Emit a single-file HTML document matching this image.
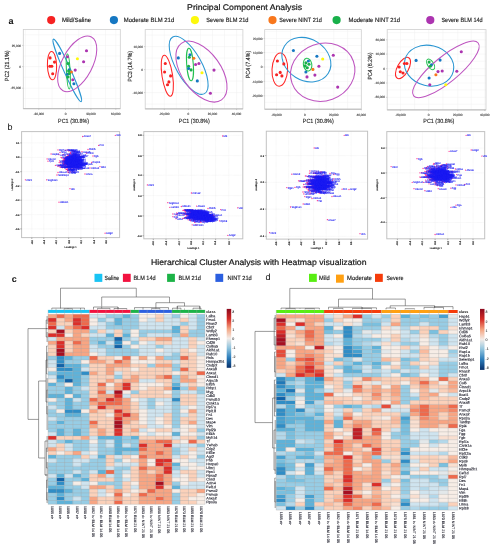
<!DOCTYPE html>
<html><head><meta charset="utf-8"><title>PCA and hierarchical cluster analysis</title>
<style>
html,body{margin:0;padding:0;background:#fff}
body{width:496px;height:550px;overflow:hidden}
svg{display:block;font-family:"Liberation Sans", sans-serif;filter:blur(0.35px);text-rendering:geometricPrecision}
</style></head><body>
<svg width="496" height="550" viewBox="0 0 496 550">
<rect width="496" height="550" fill="#fff"/>
<text x="244.60" y="10.10" font-size="8.2" text-anchor="middle" fill="#1a1a1a" textLength="115.00" lengthAdjust="spacingAndGlyphs" stroke="#1a1a1a" stroke-width="0.22">Principal Component Analysis</text>
<text x="8.40" y="23.90" font-size="9" font-weight="bold" fill="#111">a</text>
<circle cx="51.2" cy="20.1" r="4.1" fill="#f62222"/>
<text x="61.90" y="22.30" font-size="6.1" fill="#222" textLength="29.20" lengthAdjust="spacingAndGlyphs" stroke="#222" stroke-width="0.15">Mild/Saline</text>
<circle cx="113.9" cy="20.1" r="4.1" fill="#1577c2"/>
<text x="123.80" y="22.30" font-size="6.1" fill="#222" textLength="50.40" lengthAdjust="spacingAndGlyphs" stroke="#222" stroke-width="0.15">Moderate BLM 21d</text>
<circle cx="194.9" cy="20.1" r="4.1" fill="#fdf90c"/>
<text x="206.20" y="22.30" font-size="6.1" fill="#222" textLength="42.30" lengthAdjust="spacingAndGlyphs" stroke="#222" stroke-width="0.15">Severe BLM 21d</text>
<circle cx="272.5" cy="20.1" r="4.1" fill="#f8771c"/>
<text x="279.20" y="22.30" font-size="6.1" fill="#222" textLength="42.70" lengthAdjust="spacingAndGlyphs" stroke="#222" stroke-width="0.15">Severe NINT 21d</text>
<circle cx="336.6" cy="20.1" r="4.1" fill="#18b04a"/>
<text x="348.50" y="22.30" font-size="6.1" fill="#222" textLength="51.60" lengthAdjust="spacingAndGlyphs" stroke="#222" stroke-width="0.15">Moderate NINT 21d</text>
<circle cx="430.3" cy="20.1" r="4.1" fill="#ac34b0"/>
<text x="441.40" y="22.30" font-size="6.1" fill="#222" textLength="41.30" lengthAdjust="spacingAndGlyphs" stroke="#222" stroke-width="0.15">Severe BLM 14d</text>
<rect x="23.3" y="29.4" width="97.00" height="79.30" fill="#fff" stroke="none"/>
<path d="M38.8 29.4V108.7M65.5 29.4V108.7M90.9 29.4V108.7M115.8 29.4V108.7M23.3 45.4H120.3M23.3 66.6H120.3M23.3 88.2H120.3M25.4 29.4V108.7M52.1 29.4V108.7M78.8 29.4V108.7M105.5 29.4V108.7M23.3 34.8H120.3M23.3 56.0H120.3M23.3 77.2H120.3M23.3 98.4H120.3" stroke="#f0f0f0" stroke-width="0.5" fill="none"/>
<rect x="23.3" y="29.4" width="97.00" height="79.30" fill="none" stroke="#cfcfcf" stroke-width="0.8"/>
<path d="M23.3 108.7H120.3" stroke="#b5b5b5" stroke-width="0.9"/>
<text x="38.80" y="115.10" font-size="3.1" text-anchor="middle" fill="#333" stroke="#333" stroke-width="0.1">-30,000</text>
<path d="M38.8 108.7v1.2" stroke="#999" stroke-width="0.4"/>
<text x="65.50" y="115.10" font-size="3.1" text-anchor="middle" fill="#333" stroke="#333" stroke-width="0.1">0</text>
<path d="M65.5 108.7v1.2" stroke="#999" stroke-width="0.4"/>
<text x="90.90" y="115.10" font-size="3.1" text-anchor="middle" fill="#333" stroke="#333" stroke-width="0.1">30,000</text>
<path d="M90.9 108.7v1.2" stroke="#999" stroke-width="0.4"/>
<text x="115.80" y="115.10" font-size="3.1" text-anchor="middle" fill="#333" stroke="#333" stroke-width="0.1">60,000</text>
<path d="M115.8 108.7v1.2" stroke="#999" stroke-width="0.4"/>
<text x="21.10" y="46.50" font-size="3.1" text-anchor="end" fill="#333" stroke="#333" stroke-width="0.1">25,000</text>
<path d="M23.3 45.4h-1.2" stroke="#999" stroke-width="0.4"/>
<text x="21.10" y="67.70" font-size="3.1" text-anchor="end" fill="#333" stroke="#333" stroke-width="0.1">0</text>
<path d="M23.3 66.6h-1.2" stroke="#999" stroke-width="0.4"/>
<text x="21.10" y="89.30" font-size="3.1" text-anchor="end" fill="#333" stroke="#333" stroke-width="0.1">-25,000</text>
<path d="M23.3 88.2h-1.2" stroke="#999" stroke-width="0.4"/>
<text x="73.60" y="123.10" font-size="6.0" text-anchor="middle" fill="#222" textLength="31.00" lengthAdjust="spacingAndGlyphs" stroke="#222" stroke-width="0.12">PC1 (30.8%)</text>
<text x="9.50" y="65.80" font-size="6.0" text-anchor="middle" fill="#222" textLength="30.80" lengthAdjust="spacingAndGlyphs" transform="rotate(-90 9.50 65.80)" stroke="#222" stroke-width="0.12">PC2 (21.1%)</text>
<ellipse cx="52.0" cy="65.6" rx="4.6" ry="14.2" transform="rotate(-2 52.0 65.6)" fill="none" stroke="#ff2525" stroke-width="1.05"/>
<ellipse cx="67.3" cy="70.4" rx="34.2" ry="3.4" transform="rotate(65.9 67.3 70.4)" fill="none" stroke="#2b96d2" stroke-width="1.05"/>
<ellipse cx="68.3" cy="71.5" rx="17.5" ry="1.8" transform="rotate(87 68.3 71.5)" fill="none" stroke="#22c050" stroke-width="1.05"/>
<ellipse cx="77.2" cy="63.8" rx="30.4" ry="15.2" transform="rotate(-62.1 77.2 63.8)" fill="none" stroke="#be55c0" stroke-width="1.05"/>
<circle cx="50.1" cy="57.9" r="1.55" fill="#f62222"/>
<circle cx="54.5" cy="62.1" r="1.55" fill="#f62222"/>
<circle cx="49.8" cy="66.2" r="1.55" fill="#f62222"/>
<circle cx="51.8" cy="66.2" r="1.55" fill="#f62222"/>
<circle cx="52.7" cy="73.8" r="1.55" fill="#f62222"/>
<circle cx="86.5" cy="50.8" r="1.55" fill="#ac34b0"/>
<circle cx="83.6" cy="61.7" r="1.55" fill="#ac34b0"/>
<circle cx="75.2" cy="70.1" r="1.55" fill="#ac34b0"/>
<circle cx="67.5" cy="56.7" r="1.55" fill="#ac34b0"/>
<circle cx="72.8" cy="79.7" r="1.55" fill="#ac34b0"/>
<circle cx="77.4" cy="58.7" r="1.55" fill="#fdf90c"/>
<circle cx="59.6" cy="53.4" r="1.55" fill="#1577c2"/>
<circle cx="69.1" cy="69.9" r="1.55" fill="#1577c2"/>
<circle cx="73.9" cy="83.7" r="1.55" fill="#1577c2"/>
<circle cx="67.6" cy="74.2" r="1.55" fill="#1577c2"/>
<circle cx="71.4" cy="72" r="1.55" fill="#f8771c"/>
<circle cx="68.0" cy="63.5" r="1.55" fill="#18b04a"/>
<circle cx="68.6" cy="71.0" r="1.55" fill="#18b04a"/>
<circle cx="68.0" cy="77.0" r="1.55" fill="#18b04a"/>
<circle cx="69.2" cy="73.5" r="1.55" fill="#18b04a"/>
<rect x="145.2" y="29.6" width="97.70" height="79.30" fill="#fff" stroke="none"/>
<path d="M164.3 29.6V108.9M188.4 29.6V108.9M212.5 29.6V108.9M236.6 29.6V108.9M145.2 46.6H242.9M145.2 69.6H242.9M145.2 92.6H242.9M152.2 29.6V108.9M176.3 29.6V108.9M200.4 29.6V108.9M224.5 29.6V108.9M145.2 35.1H242.9M145.2 58.1H242.9M145.2 81.1H242.9M145.2 104.1H242.9" stroke="#f0f0f0" stroke-width="0.5" fill="none"/>
<rect x="145.2" y="29.6" width="97.70" height="79.30" fill="none" stroke="#cfcfcf" stroke-width="0.8"/>
<path d="M145.2 108.9H242.9" stroke="#b5b5b5" stroke-width="0.9"/>
<text x="164.30" y="115.30" font-size="3.1" text-anchor="middle" fill="#333" stroke="#333" stroke-width="0.1">-20,000</text>
<path d="M164.3 108.9v1.2" stroke="#999" stroke-width="0.4"/>
<text x="188.40" y="115.30" font-size="3.1" text-anchor="middle" fill="#333" stroke="#333" stroke-width="0.1">0</text>
<path d="M188.4 108.9v1.2" stroke="#999" stroke-width="0.4"/>
<text x="212.50" y="115.30" font-size="3.1" text-anchor="middle" fill="#333" stroke="#333" stroke-width="0.1">20,000</text>
<path d="M212.5 108.9v1.2" stroke="#999" stroke-width="0.4"/>
<text x="236.60" y="115.30" font-size="3.1" text-anchor="middle" fill="#333" stroke="#333" stroke-width="0.1">40,000</text>
<path d="M236.6 108.9v1.2" stroke="#999" stroke-width="0.4"/>
<text x="143.00" y="47.70" font-size="3.1" text-anchor="end" fill="#333" stroke="#333" stroke-width="0.1">10,000</text>
<path d="M145.2 46.6h-1.2" stroke="#999" stroke-width="0.4"/>
<text x="143.00" y="70.70" font-size="3.1" text-anchor="end" fill="#333" stroke="#333" stroke-width="0.1">0</text>
<path d="M145.2 69.6h-1.2" stroke="#999" stroke-width="0.4"/>
<text x="143.00" y="93.70" font-size="3.1" text-anchor="end" fill="#333" stroke="#333" stroke-width="0.1">-10,000</text>
<path d="M145.2 92.6h-1.2" stroke="#999" stroke-width="0.4"/>
<text x="194.30" y="123.10" font-size="6.0" text-anchor="middle" fill="#222" textLength="31.00" lengthAdjust="spacingAndGlyphs" stroke="#222" stroke-width="0.12">PC1 (30.8%)</text>
<text x="131.60" y="66.30" font-size="6.0" text-anchor="middle" fill="#222" textLength="30.80" lengthAdjust="spacingAndGlyphs" transform="rotate(-90 131.60 66.30)" stroke="#222" stroke-width="0.12">PC3 (14.7%)</text>
<ellipse cx="167.3" cy="75.7" rx="20.7" ry="5.3" transform="rotate(81.2 167.3 75.7)" fill="none" stroke="#ff2525" stroke-width="1.05"/>
<ellipse cx="188.65" cy="65.35" rx="32.45" ry="12.8" transform="rotate(60.6 188.65 65.35)" fill="none" stroke="#2b96d2" stroke-width="1.05"/>
<ellipse cx="190" cy="64.5" rx="16.2" ry="3.3" transform="rotate(85.8 190 64.5)" fill="none" stroke="#22c050" stroke-width="1.05"/>
<ellipse cx="201.45" cy="71.6" rx="34.7" ry="19.4" transform="rotate(54.6 201.45 71.6)" fill="none" stroke="#be55c0" stroke-width="1.05"/>
<circle cx="165.3" cy="63.5" r="1.55" fill="#f62222"/>
<circle cx="164.6" cy="72" r="1.55" fill="#f62222"/>
<circle cx="170.6" cy="75.9" r="1.55" fill="#f62222"/>
<circle cx="168.9" cy="81.9" r="1.55" fill="#f62222"/>
<circle cx="167.5" cy="84.7" r="1.55" fill="#f62222"/>
<circle cx="190" cy="54.8" r="1.55" fill="#1577c2"/>
<circle cx="189.3" cy="57.2" r="1.55" fill="#18b04a"/>
<circle cx="193.8" cy="58.3" r="1.55" fill="#f8771c"/>
<circle cx="195.6" cy="64.5" r="1.55" fill="#ac34b0"/>
<circle cx="198.9" cy="63.5" r="1.55" fill="#ac34b0"/>
<circle cx="188.6" cy="66.3" r="1.55" fill="#18b04a"/>
<circle cx="188.6" cy="68.5" r="1.55" fill="#1577c2"/>
<circle cx="191.1" cy="69.9" r="1.55" fill="#18b04a"/>
<circle cx="202" cy="72.7" r="1.55" fill="#fdf90c"/>
<circle cx="214" cy="70.1" r="1.55" fill="#ac34b0"/>
<circle cx="197.3" cy="80.9" r="1.55" fill="#1577c2"/>
<circle cx="178.3" cy="57.9" r="1.55" fill="#1577c2"/>
<circle cx="210.4" cy="93.2" r="1.55" fill="#ac34b0"/>
<rect x="264.7" y="29.6" width="96.60" height="79.60" fill="#fff" stroke="none"/>
<path d="M276.4 29.6V109.2M304.9 29.6V109.2M333.8 29.6V109.2M264.7 38.4H361.3M264.7 52.6H361.3M264.7 67.0H361.3M264.7 81.4H361.3M264.7 95.8H361.3M290.6 29.6V109.2M319.1 29.6V109.2M347.6 29.6V109.2M264.7 31.3H361.3M264.7 45.5H361.3M264.7 59.7H361.3M264.7 73.9H361.3M264.7 88.1H361.3M264.7 102.3H361.3" stroke="#f0f0f0" stroke-width="0.5" fill="none"/>
<rect x="264.7" y="29.6" width="96.60" height="79.60" fill="none" stroke="#cfcfcf" stroke-width="0.8"/>
<path d="M264.7 109.2H361.3" stroke="#b5b5b5" stroke-width="0.9"/>
<text x="276.40" y="115.60" font-size="3.1" text-anchor="middle" fill="#333" stroke="#333" stroke-width="0.1">-20,000</text>
<path d="M276.4 109.2v1.2" stroke="#999" stroke-width="0.4"/>
<text x="304.90" y="115.60" font-size="3.1" text-anchor="middle" fill="#333" stroke="#333" stroke-width="0.1">0</text>
<path d="M304.9 109.2v1.2" stroke="#999" stroke-width="0.4"/>
<text x="333.80" y="115.60" font-size="3.1" text-anchor="middle" fill="#333" stroke="#333" stroke-width="0.1">20,000</text>
<path d="M333.8 109.2v1.2" stroke="#999" stroke-width="0.4"/>
<text x="361.30" y="115.60" font-size="3.1" text-anchor="middle" fill="#333" stroke="#333" stroke-width="0.1">40,000</text>
<path d="M361.3 109.2v1.2" stroke="#999" stroke-width="0.4"/>
<text x="262.50" y="39.50" font-size="3.1" text-anchor="end" fill="#333" stroke="#333" stroke-width="0.1">20,000</text>
<path d="M264.7 38.4h-1.2" stroke="#999" stroke-width="0.4"/>
<text x="262.50" y="53.70" font-size="3.1" text-anchor="end" fill="#333" stroke="#333" stroke-width="0.1">10,000</text>
<path d="M264.7 52.6h-1.2" stroke="#999" stroke-width="0.4"/>
<text x="262.50" y="68.10" font-size="3.1" text-anchor="end" fill="#333" stroke="#333" stroke-width="0.1">0</text>
<path d="M264.7 67.0h-1.2" stroke="#999" stroke-width="0.4"/>
<text x="262.50" y="82.50" font-size="3.1" text-anchor="end" fill="#333" stroke="#333" stroke-width="0.1">-10,000</text>
<path d="M264.7 81.4h-1.2" stroke="#999" stroke-width="0.4"/>
<text x="262.50" y="96.90" font-size="3.1" text-anchor="end" fill="#333" stroke="#333" stroke-width="0.1">-20,000</text>
<path d="M264.7 95.8h-1.2" stroke="#999" stroke-width="0.4"/>
<text x="318.30" y="123.10" font-size="6.0" text-anchor="middle" fill="#222" textLength="31.00" lengthAdjust="spacingAndGlyphs" stroke="#222" stroke-width="0.12">PC1 (30.8%)</text>
<text x="249.80" y="64.50" font-size="6.0" text-anchor="middle" fill="#222" textLength="27.30" lengthAdjust="spacingAndGlyphs" transform="rotate(-90 249.80 64.50)" stroke="#222" stroke-width="0.12">PC4 (7.4%)</text>
<ellipse cx="279.8" cy="69.6" rx="16.6" ry="7.8" transform="rotate(92.5 279.8 69.6)" fill="none" stroke="#ff2525" stroke-width="1.05"/>
<ellipse cx="306.4" cy="59.65" rx="25.8" ry="20.7" transform="rotate(31.9 306.4 59.65)" fill="none" stroke="#2b96d2" stroke-width="1.05"/>
<ellipse cx="307.6" cy="64.6" rx="6.4" ry="4.2" transform="rotate(80 307.6 64.6)" fill="none" stroke="#22c050" stroke-width="1.05"/>
<ellipse cx="322.7" cy="72.2" rx="32.6" ry="28.7" transform="rotate(-19.7 322.7 72.2)" fill="none" stroke="#be55c0" stroke-width="1.05"/>
<circle cx="277.4" cy="61" r="1.55" fill="#f62222"/>
<circle cx="283.8" cy="63.9" r="1.55" fill="#f62222"/>
<circle cx="280.2" cy="72.4" r="1.55" fill="#f62222"/>
<circle cx="276.6" cy="74.8" r="1.55" fill="#f62222"/>
<circle cx="281.9" cy="75.9" r="1.55" fill="#f62222"/>
<circle cx="293.4" cy="50.5" r="1.55" fill="#1577c2"/>
<circle cx="316.9" cy="56.2" r="1.55" fill="#1577c2"/>
<circle cx="308.4" cy="61" r="1.55" fill="#1577c2"/>
<circle cx="305.9" cy="72" r="1.55" fill="#1577c2"/>
<circle cx="305.9" cy="62.8" r="1.55" fill="#18b04a"/>
<circle cx="309" cy="64.2" r="1.55" fill="#18b04a"/>
<circle cx="307.3" cy="67.7" r="1.55" fill="#18b04a"/>
<circle cx="305.2" cy="65.9" r="1.55" fill="#18b04a"/>
<circle cx="312.9" cy="69.4" r="1.55" fill="#f8771c"/>
<circle cx="307" cy="76.9" r="1.55" fill="#ac34b0"/>
<circle cx="314.9" cy="75.1" r="1.55" fill="#ac34b0"/>
<circle cx="322.7" cy="59" r="1.55" fill="#fdf90c"/>
<circle cx="333.3" cy="55.3" r="1.55" fill="#ac34b0"/>
<circle cx="318.9" cy="66.3" r="1.55" fill="#ac34b0"/>
<circle cx="337.7" cy="87.1" r="1.55" fill="#ac34b0"/>
<rect x="387.2" y="29.6" width="98.80" height="80.30" fill="#fff" stroke="none"/>
<path d="M400.4 29.6V109.9M428.7 29.6V109.9M457.8 29.6V109.9M484.8 29.6V109.9M387.2 39.8H486M387.2 54.1H486M387.2 68.7H486M387.2 83.0H486M387.2 97.3H486M414.6 29.6V109.9M442.9 29.6V109.9M471.2 29.6V109.9M387.2 32.6H486M387.2 46.9H486M387.2 61.2H486M387.2 75.6H486M387.2 89.9H486M387.2 104.2H486" stroke="#f0f0f0" stroke-width="0.5" fill="none"/>
<rect x="387.2" y="29.6" width="98.80" height="80.30" fill="none" stroke="#cfcfcf" stroke-width="0.8"/>
<path d="M387.2 109.9H486" stroke="#b5b5b5" stroke-width="0.9"/>
<text x="400.40" y="116.30" font-size="3.1" text-anchor="middle" fill="#333" stroke="#333" stroke-width="0.1">-20,000</text>
<path d="M400.4 109.9v1.2" stroke="#999" stroke-width="0.4"/>
<text x="428.70" y="116.30" font-size="3.1" text-anchor="middle" fill="#333" stroke="#333" stroke-width="0.1">0</text>
<path d="M428.7 109.9v1.2" stroke="#999" stroke-width="0.4"/>
<text x="457.80" y="116.30" font-size="3.1" text-anchor="middle" fill="#333" stroke="#333" stroke-width="0.1">20,000</text>
<path d="M457.8 109.9v1.2" stroke="#999" stroke-width="0.4"/>
<text x="484.80" y="116.30" font-size="3.1" text-anchor="middle" fill="#333" stroke="#333" stroke-width="0.1">40,000</text>
<path d="M484.8 109.9v1.2" stroke="#999" stroke-width="0.4"/>
<text x="385.00" y="40.90" font-size="3.1" text-anchor="end" fill="#333" stroke="#333" stroke-width="0.1">20,000</text>
<path d="M387.2 39.8h-1.2" stroke="#999" stroke-width="0.4"/>
<text x="385.00" y="55.20" font-size="3.1" text-anchor="end" fill="#333" stroke="#333" stroke-width="0.1">10,000</text>
<path d="M387.2 54.1h-1.2" stroke="#999" stroke-width="0.4"/>
<text x="385.00" y="69.80" font-size="3.1" text-anchor="end" fill="#333" stroke="#333" stroke-width="0.1">0</text>
<path d="M387.2 68.7h-1.2" stroke="#999" stroke-width="0.4"/>
<text x="385.00" y="84.10" font-size="3.1" text-anchor="end" fill="#333" stroke="#333" stroke-width="0.1">-10,000</text>
<path d="M387.2 83.0h-1.2" stroke="#999" stroke-width="0.4"/>
<text x="385.00" y="98.40" font-size="3.1" text-anchor="end" fill="#333" stroke="#333" stroke-width="0.1">-20,000</text>
<path d="M387.2 97.3h-1.2" stroke="#999" stroke-width="0.4"/>
<text x="438.80" y="123.10" font-size="6.0" text-anchor="middle" fill="#222" textLength="31.00" lengthAdjust="spacingAndGlyphs" stroke="#222" stroke-width="0.12">PC1 (30.8%)</text>
<text x="371.90" y="66.20" font-size="6.0" text-anchor="middle" fill="#222" textLength="27.30" lengthAdjust="spacingAndGlyphs" transform="rotate(-90 371.90 66.20)" stroke="#222" stroke-width="0.12">PC4 (6.2%)</text>
<ellipse cx="403.0" cy="68" rx="11.8" ry="5.6" transform="rotate(-61 403.0 68)" fill="none" stroke="#ff2525" stroke-width="1.05"/>
<ellipse cx="429.1" cy="65.65" rx="24.9" ry="20.2" transform="rotate(13.5 429.1 65.65)" fill="none" stroke="#2b96d2" stroke-width="1.05"/>
<ellipse cx="430.6" cy="64.4" rx="5.9" ry="3.0" transform="rotate(58 430.6 64.4)" fill="none" stroke="#22c050" stroke-width="1.05"/>
<ellipse cx="445.9" cy="69.4" rx="41.7" ry="12.8" transform="rotate(-39.3 445.9 69.4)" fill="none" stroke="#be55c0" stroke-width="1.05"/>
<circle cx="399.2" cy="67" r="1.55" fill="#f62222"/>
<circle cx="404.4" cy="63.5" r="1.55" fill="#f62222"/>
<circle cx="406.9" cy="63.5" r="1.55" fill="#f62222"/>
<circle cx="400.3" cy="71.7" r="1.55" fill="#f62222"/>
<circle cx="403" cy="73" r="1.55" fill="#f62222"/>
<circle cx="416.1" cy="60.4" r="1.55" fill="#1577c2"/>
<circle cx="429.1" cy="78" r="1.55" fill="#1577c2"/>
<circle cx="440.1" cy="60.1" r="1.55" fill="#1577c2"/>
<circle cx="431.4" cy="64.9" r="1.55" fill="#1577c2"/>
<circle cx="429.1" cy="62.1" r="1.55" fill="#18b04a"/>
<circle cx="430.3" cy="66.2" r="1.55" fill="#18b04a"/>
<circle cx="461.3" cy="51.8" r="1.55" fill="#ac34b0"/>
<circle cx="456.8" cy="71.3" r="1.55" fill="#ac34b0"/>
<circle cx="442.2" cy="71" r="1.55" fill="#ac34b0"/>
<circle cx="438" cy="71.6" r="1.55" fill="#ac34b0"/>
<circle cx="429.8" cy="84.7" r="1.55" fill="#ac34b0"/>
<circle cx="435.9" cy="74.8" r="1.55" fill="#f8771c"/>
<circle cx="445.8" cy="84.7" r="1.55" fill="#fdf90c"/>
<text x="7.60" y="130.10" font-size="9" fill="#111">b</text>
<rect x="21.6" y="131.6" width="98.00" height="106.00" fill="#fff"/>
<path d="M31.8 131.6V237.6M43.8 131.6V237.6M56.2 131.6V237.6M68.7 131.6V237.6M80.9 131.6V237.6M93.6 131.6V237.6M106.1 131.6V237.6M21.6 142.9H119.6M21.6 157.4H119.6M21.6 171.7H119.6M21.6 186.2H119.6M21.6 200.2H119.6M21.6 214.7H119.6M21.6 228.9H119.6" stroke="#e9e9e9" stroke-width="0.5" fill="none" stroke-dasharray="0.6 0.5"/>
<rect x="21.6" y="131.6" width="98.00" height="106.00" fill="none" stroke="#c2c2c2" stroke-width="1.0"/>
<path d="M31.8 237.6v1.4" stroke="#555" stroke-width="0.45"/>
<text x="32.70" y="240.00" font-size="2.5" text-anchor="end" fill="#222" transform="rotate(-90 32.70 240.00)" stroke="#222" stroke-width="0.16">-0.6</text>
<path d="M43.8 237.6v1.4" stroke="#555" stroke-width="0.45"/>
<text x="44.70" y="240.00" font-size="2.5" text-anchor="end" fill="#222" transform="rotate(-90 44.70 240.00)" stroke="#222" stroke-width="0.16">-0.4</text>
<path d="M56.2 237.6v1.4" stroke="#555" stroke-width="0.45"/>
<text x="57.10" y="240.00" font-size="2.5" text-anchor="end" fill="#222" transform="rotate(-90 57.10 240.00)" stroke="#222" stroke-width="0.16">-0.2</text>
<path d="M68.7 237.6v1.4" stroke="#555" stroke-width="0.45"/>
<text x="69.60" y="240.00" font-size="2.5" text-anchor="end" fill="#222" transform="rotate(-90 69.60 240.00)" stroke="#222" stroke-width="0.16">0.0</text>
<path d="M80.9 237.6v1.4" stroke="#555" stroke-width="0.45"/>
<text x="81.80" y="240.00" font-size="2.5" text-anchor="end" fill="#222" transform="rotate(-90 81.80 240.00)" stroke="#222" stroke-width="0.16">0.2</text>
<path d="M93.6 237.6v1.4" stroke="#555" stroke-width="0.45"/>
<text x="94.50" y="240.00" font-size="2.5" text-anchor="end" fill="#222" transform="rotate(-90 94.50 240.00)" stroke="#222" stroke-width="0.16">0.4</text>
<path d="M106.1 237.6v1.4" stroke="#555" stroke-width="0.45"/>
<text x="107.00" y="240.00" font-size="2.5" text-anchor="end" fill="#222" transform="rotate(-90 107.00 240.00)" stroke="#222" stroke-width="0.16">0.6</text>
<path d="M21.6 142.9h-1.4" stroke="#555" stroke-width="0.45"/>
<text x="19.40" y="143.80" font-size="2.5" text-anchor="end" fill="#222" stroke="#222" stroke-width="0.16">0.1</text>
<path d="M21.6 157.4h-1.4" stroke="#555" stroke-width="0.45"/>
<text x="19.40" y="158.30" font-size="2.5" text-anchor="end" fill="#222" stroke="#222" stroke-width="0.16">0.0</text>
<path d="M21.6 171.7h-1.4" stroke="#555" stroke-width="0.45"/>
<text x="19.40" y="172.60" font-size="2.5" text-anchor="end" fill="#222" stroke="#222" stroke-width="0.16">-0.1</text>
<path d="M21.6 186.2h-1.4" stroke="#555" stroke-width="0.45"/>
<text x="19.40" y="187.10" font-size="2.5" text-anchor="end" fill="#222" stroke="#222" stroke-width="0.16">-0.2</text>
<path d="M21.6 200.2h-1.4" stroke="#555" stroke-width="0.45"/>
<text x="19.40" y="201.10" font-size="2.5" text-anchor="end" fill="#222" stroke="#222" stroke-width="0.16">-0.3</text>
<path d="M21.6 214.7h-1.4" stroke="#555" stroke-width="0.45"/>
<text x="19.40" y="215.60" font-size="2.5" text-anchor="end" fill="#222" stroke="#222" stroke-width="0.16">-0.4</text>
<path d="M21.6 228.9h-1.4" stroke="#555" stroke-width="0.45"/>
<text x="19.40" y="229.80" font-size="2.5" text-anchor="end" fill="#222" stroke="#222" stroke-width="0.16">-0.5</text>
<text x="70.60" y="247.90" font-size="2.5" text-anchor="middle" fill="#222" stroke="#222" stroke-width="0.12">Loadings 1</text>
<text x="12.60" y="184.60" font-size="2.5" text-anchor="middle" fill="#222" transform="rotate(-90 12.60 184.60)" stroke="#222" stroke-width="0.12">Loadings 2</text>
<path d="M74.0 157.4h0M66.2 161.9h0M74.0 161.9h0M67.8 161.4h0M72.7 158.0h0M74.2 163.7h0M65.1 157.9h0M65.2 160.6h0M66.5 164.1h0M69.6 163.5h0M76.0 159.6h0M70.2 164.2h0M71.8 167.9h0M63.2 161.1h0M73.1 165.7h0M69.2 162.7h0M69.8 164.3h0M65.8 160.2h0M71.2 164.1h0M74.0 163.1h0M68.1 157.9h0M69.4 164.3h0M65.6 161.6h0M67.9 156.6h0M68.5 155.7h0M67.3 166.2h0M73.0 155.2h0M74.6 168.0h0M71.2 165.6h0M77.4 156.9h0M72.8 158.5h0M70.2 165.3h0M74.9 165.2h0M75.3 159.7h0M70.3 161.9h0M75.9 165.6h0M73.5 164.6h0M64.1 159.7h0M72.0 169.4h0M65.4 160.6h0M66.7 166.8h0M70.9 159.9h0M64.9 158.7h0M71.0 153.8h0M68.9 163.9h0M67.2 159.7h0M75.4 162.1h0M71.7 165.1h0M68.9 166.2h0M70.6 162.0h0M78.6 164.3h0M74.4 167.4h0M70.2 164.0h0M68.8 161.5h0M70.6 163.1h0M65.9 164.6h0M71.3 156.7h0M69.1 159.3h0M66.7 163.6h0M73.1 157.8h0M72.7 160.2h0M65.9 160.9h0M65.5 158.5h0M66.3 160.7h0M72.7 151.8h0M77.3 159.2h0M73.1 166.5h0M61.8 157.9h0M73.5 166.6h0M73.9 167.5h0M70.6 160.3h0M70.1 169.6h0M66.5 161.2h0M66.2 164.4h0M73.5 162.8h0M70.3 162.4h0M67.4 163.2h0M74.6 160.8h0M75.0 162.1h0M67.6 158.2h0M68.1 164.0h0M68.8 151.0h0M73.0 163.3h0M72.3 156.1h0M65.4 158.4h0M69.1 166.8h0M63.5 164.5h0M68.0 155.6h0M71.6 161.4h0M75.6 165.1h0M67.7 160.0h0M68.2 154.9h0M72.6 160.4h0M74.9 159.9h0M63.2 163.6h0M67.9 160.9h0M70.8 163.4h0M65.5 163.4h0M76.2 160.1h0M75.4 159.2h0M76.8 168.8h0M71.1 159.5h0M72.1 159.2h0M69.0 162.6h0M76.5 164.7h0M70.7 171.9h0M72.2 164.3h0M69.6 160.4h0M70.9 156.1h0M60.9 162.9h0M65.2 158.4h0M71.9 154.5h0M60.7 167.2h0M65.9 158.6h0M73.8 163.0h0M71.3 159.2h0M64.0 161.2h0M71.7 161.1h0M74.2 164.0h0M64.6 162.9h0M69.9 166.7h0M67.7 171.9h0M72.7 155.3h0M75.4 164.7h0M65.3 159.0h0M71.0 164.3h0M73.1 159.3h0M71.8 165.7h0M74.5 165.1h0M66.5 161.5h0M67.8 170.4h0M69.2 161.2h0M76.3 162.3h0M69.6 158.0h0M64.4 167.5h0M70.9 159.0h0M73.0 159.9h0M59.5 160.8h0M75.5 167.1h0M73.4 166.8h0M70.8 158.2h0M67.9 154.4h0M65.8 165.4h0M70.6 163.2h0M69.1 159.6h0M63.7 162.9h0M74.2 166.8h0M72.3 161.2h0M72.5 165.4h0M64.6 158.4h0M69.1 162.3h0M75.8 162.0h0M65.2 164.5h0M73.0 155.7h0M73.3 165.0h0M65.4 150.3h0M66.9 167.5h0M73.5 160.9h0M72.8 164.0h0M67.1 163.4h0M68.6 172.6h0M68.2 158.2h0M72.3 154.9h0M71.4 157.6h0M66.5 161.4h0M72.0 159.7h0M65.3 160.0h0M70.6 164.0h0M62.7 161.0h0M74.5 163.3h0M73.7 171.8h0M68.0 158.8h0M76.8 164.9h0M64.6 162.0h0M73.7 153.7h0M73.3 164.7h0M76.0 153.3h0M73.3 163.8h0M71.7 165.3h0M74.1 159.8h0M74.8 160.5h0M64.7 164.9h0M71.9 159.2h0M68.7 160.4h0M67.0 161.3h0M75.8 155.7h0M71.0 159.4h0M80.2 163.1h0M64.3 159.9h0M70.2 157.9h0M67.1 156.3h0M66.4 165.8h0M72.4 161.4h0M68.8 164.4h0M63.8 163.5h0M71.0 160.6h0M68.3 157.9h0M66.6 164.2h0M72.1 161.8h0M68.6 164.3h0M63.2 159.0h0M73.0 160.5h0M67.2 169.5h0M72.8 163.2h0M66.9 163.9h0M64.9 159.6h0M74.5 157.7h0M69.1 165.0h0M65.0 159.5h0M73.0 154.9h0M71.5 159.8h0M72.8 161.9h0M68.6 163.0h0M69.9 158.6h0M69.9 160.1h0M67.8 163.5h0M80.3 168.5h0M76.3 156.8h0M73.0 160.2h0M65.6 159.3h0M74.1 162.5h0M72.3 158.5h0M64.6 166.6h0M65.7 157.0h0M69.7 158.7h0M68.8 159.4h0M64.6 161.2h0M74.4 161.5h0M65.4 163.1h0M67.3 164.7h0M67.2 157.9h0M67.9 156.5h0M66.7 169.1h0M74.4 161.2h0M72.4 157.5h0M70.8 157.1h0M63.2 154.5h0M62.5 167.7h0M79.8 163.9h0M79.2 161.1h0M70.2 153.5h0M66.4 158.2h0M61.0 157.3h0M72.4 159.8h0M76.0 163.8h0M70.0 166.6h0M66.2 167.0h0M84.1 164.1h0M79.0 168.1h0M71.1 166.1h0M58.8 165.5h0M57.7 166.2h0M73.5 165.5h0M78.7 162.7h0M69.3 165.7h0M74.5 151.7h0M78.0 156.9h0M55.4 165.3h0M71.6 161.0h0M51.1 154.0h0M58.8 154.6h0M63.5 160.7h0M69.3 150.3h0M71.7 151.1h0M64.1 160.4h0M66.8 162.6h0M69.8 162.8h0M68.6 170.5h0M69.6 161.9h0M67.3 149.9h0M77.3 164.7h0M76.5 157.1h0M82.2 156.4h0M67.7 166.8h0M64.6 162.6h0M62.2 166.3h0M48.0 161.2h0M79.9 154.9h0M59.2 165.5h0M71.9 161.6h0M62.3 167.2h0M66.0 169.6h0M69.2 162.9h0M80.6 163.5h0M78.4 164.4h0M71.4 162.5h0M91.7 162.3h0M66.3 162.2h0M65.0 157.5h0M78.8 157.3h0M63.5 162.8h0M67.3 169.0h0M70.4 152.4h0M79.9 165.6h0M86.4 153.0h0M58.0 149.9h0M82.0 151.7h0M77.4 159.0h0M70.8 166.5h0M59.2 162.5h0M82.7 136.5h0M115.3 135.3h0M98.7 145.4h0M100.0 166.6h0M25.4 179.8h0M46.6 179.8h0M70.0 188.7h0M59.0 202.2h0M105.1 233.2h0M47.1 158.9h0M88.0 149.5h0M93.0 156.0h0M90.0 168.0h0M58.0 172.5h0M60.0 167.0h0M60.0 152.5h0M85.0 174.0h0M57.0 175.0h0" stroke="#ff2d8e" stroke-width="1.3" stroke-linecap="round" fill="none"/>
<g fill="#1c1cf2" stroke="#1c1cf2" stroke-width="0.09" font-size="2.6"><text x="74.9" y="158.3">Tpi1</text><text x="67.1" y="162.8">Cap1</text><text x="74.9" y="162.8">Pfn1</text><text x="68.7" y="162.3">Canx</text><text x="73.6" y="158.9">Rpl7</text><text x="75.1" y="164.6">Rpl7</text><text x="66.0" y="158.8">Prdx6</text><text x="66.1" y="161.5">Acta2</text><text x="67.4" y="165.0">Crip2</text><text x="70.5" y="164.4">Lmna</text><text x="76.9" y="160.5">Pdia3</text><text x="71.1" y="165.1">Ahnak</text><text x="72.7" y="168.8">Prdx1</text><text x="64.1" y="162.0">Anxa1</text><text x="74.0" y="166.6">Pfn1</text><text x="70.1" y="163.6">Rpn1</text><text x="70.7" y="165.2">Anxa3</text><text x="66.7" y="161.1">Pgk1</text><text x="72.1" y="165.0">Acta2</text><text x="74.9" y="164.0">Cnn3</text><text x="69.0" y="158.8">Psmc5</text><text x="70.3" y="165.2">Tpi1</text><text x="66.5" y="162.5">Flna</text><text x="68.8" y="157.5">Tpi1</text><text x="69.4" y="156.6">Eef1d</text><text x="68.2" y="167.1">Myh14</text><text x="73.9" y="156.1">Pfn1</text><text x="75.5" y="168.9">Rap1a</text><text x="72.1" y="166.5">Anxa8</text><text x="78.3" y="157.8">Tpm1</text><text x="73.7" y="159.4">Pkm</text><text x="71.1" y="166.2">Hspa8</text><text x="75.8" y="166.1">Ahnak</text><text x="76.2" y="160.6">Cndp2</text><text x="71.2" y="162.8">Gapdh</text><text x="76.8" y="166.5">Actn4</text><text x="74.4" y="165.5">Psmc2</text><text x="65.0" y="160.6">Ctsd</text><text x="72.9" y="170.3">Lalba</text><text x="66.3" y="161.5">Rps3a</text><text x="67.6" y="167.7">Pgk1</text><text x="71.8" y="160.8">Actn4</text><text x="65.8" y="159.6">Pfn1</text><text x="71.9" y="154.7">Vcl</text><text x="69.8" y="164.8">Tln1</text><text x="68.1" y="160.6">Hspb1</text><text x="76.3" y="163.0">Anxa8</text><text x="72.6" y="166.0">Gsn</text><text x="69.8" y="167.1">Msn</text><text x="71.5" y="162.9">Aldoa</text><text x="79.5" y="165.2">Gstm1</text><text x="75.3" y="168.3">Anxa3</text><text x="71.1" y="164.9">Cnn3</text><text x="69.7" y="162.4">Wdfy2</text><text x="71.5" y="164.0">Gsn</text><text x="66.8" y="165.5">Eef1d</text><text x="72.2" y="157.6">Gstm1</text><text x="70.0" y="160.2">Flna</text><text x="67.6" y="164.5">Anxa1</text><text x="74.0" y="158.7">Rnls</text><text x="73.6" y="161.1">Eno1</text><text x="66.8" y="161.8">Ywhab</text><text x="66.4" y="159.4">Tagln</text><text x="67.2" y="161.6">Myh9</text><text x="73.6" y="152.7">Rpl29</text><text x="78.2" y="160.1">Rps3a</text><text x="74.0" y="167.4">Vcl</text><text x="62.7" y="158.8">Lalba</text><text x="74.4" y="167.5">Sod1</text><text x="74.8" y="168.4">Anxa8</text><text x="71.5" y="161.2">Tpm3</text><text x="71.0" y="170.5">Cnn3</text><text x="67.4" y="162.1">Sod1</text><text x="67.1" y="165.3">Ctsd</text><text x="74.4" y="163.7">Gsn</text><text x="71.2" y="163.3">Gapdh</text><text x="68.3" y="164.1">Ctsd</text><text x="75.5" y="161.7">Myl6</text><text x="75.9" y="163.0">Cnn3</text><text x="68.5" y="159.1">Eif3h</text><text x="69.0" y="164.9">Hspa5</text><text x="69.7" y="151.9">Lmna</text><text x="73.9" y="164.2">Prdx6</text><text x="73.2" y="157.0">Ezr</text><text x="66.3" y="159.3">Rpn1</text><text x="70.0" y="167.7">Eef1d</text><text x="64.4" y="165.4">Psmc5</text><text x="68.9" y="156.5">Rpl7a</text><text x="72.5" y="162.3">Tagln</text><text x="76.5" y="166.0">Fmo1</text><text x="68.6" y="160.9">Acta2</text><text x="69.1" y="155.8">Psmc5</text><text x="73.5" y="161.3">Gapdh</text><text x="75.8" y="160.8">Tkt</text><text x="64.1" y="164.5">Tkt</text><text x="68.8" y="161.8">Prdx1</text><text x="71.7" y="164.3">Rpl7a</text><text x="66.4" y="164.3">Eif3e</text><text x="77.1" y="161.0">Tpi1</text><text x="76.3" y="160.1">Sod1</text><text x="77.7" y="169.7">Pkm</text><text x="72.0" y="160.4">Hspb1</text><text x="73.0" y="160.1">Canx</text><text x="69.9" y="163.5">Cnn3</text><text x="77.4" y="165.6">Tln1</text><text x="71.6" y="172.8">Pkm</text><text x="73.1" y="165.2">Cap1</text><text x="70.5" y="161.3">Rpl4</text><text x="71.8" y="157.0">Ezr</text><text x="61.8" y="163.8">Krt8</text><text x="66.1" y="159.3">Aldoa</text><text x="72.8" y="155.4">Phb</text><text x="61.6" y="168.1">Map4</text><text x="66.8" y="159.5">Fmo1</text><text x="74.7" y="163.9">Krt8</text><text x="72.2" y="160.1">Eef1d</text><text x="64.9" y="162.1">Crip2</text><text x="72.6" y="162.0">Lalba</text><text x="75.1" y="164.9">Capg</text><text x="65.5" y="163.8">Ehd2</text><text x="70.8" y="167.6">Eef1d</text><text x="68.6" y="172.8">Prdx6</text><text x="73.6" y="156.2">Rpl7</text><text x="76.3" y="165.6">Rap1b</text><text x="66.2" y="159.9">Eif3e</text><text x="71.9" y="165.2">Cfl1</text><text x="74.0" y="160.2">Tpm1</text><text x="72.7" y="166.6">Msn</text><text x="75.4" y="166.0">Capg</text><text x="67.4" y="162.4">Rpl7</text><text x="68.7" y="171.3">Fgg</text><text x="70.1" y="162.1">Myl6</text><text x="77.2" y="163.2">Cfl1</text><text x="70.5" y="158.9">Fgg</text><text x="65.3" y="168.4">Krt8</text><text x="71.8" y="159.9">Rap1b</text><text x="73.9" y="160.8">Gsn</text><text x="60.4" y="161.7">Flna</text><text x="76.4" y="168.0">Gsn</text><text x="74.3" y="167.7">Anxa8</text><text x="71.7" y="159.1">Psmc5</text><text x="68.8" y="155.3">Lalba</text><text x="66.7" y="166.3">Fgg</text><text x="71.5" y="164.1">Cnn3</text><text x="70.0" y="160.5">Eif3e</text><text x="64.6" y="163.8">Ezr</text><text x="75.1" y="167.7">Lmna</text><text x="73.2" y="162.1">Ufm1</text><text x="73.4" y="166.3">Vcl</text><text x="65.5" y="159.3">Rap1b</text><text x="70.0" y="163.2">Hspb1</text><text x="76.7" y="162.9">Krt8</text><text x="66.1" y="165.4">Capg</text><text x="73.9" y="156.6">Vcl</text><text x="74.2" y="165.9">Cd36</text><text x="66.3" y="151.2">Ahnak</text><text x="67.8" y="168.4">Fga</text><text x="74.4" y="161.8">Hspb1</text><text x="73.7" y="164.9">Phb</text><text x="68.0" y="164.3">Fgg</text><text x="69.5" y="173.5">Lmna</text><text x="69.1" y="159.1">Gapdh</text><text x="73.2" y="155.8">Aldoa</text><text x="72.3" y="158.5">Rps9</text><text x="67.4" y="162.3">Cfl1</text><text x="72.9" y="160.6">Msn</text><text x="66.2" y="160.9">Psmc5</text><text x="71.5" y="164.9">Anxa2</text><text x="63.6" y="161.9">Rpl7</text><text x="75.4" y="164.2">Ahnak</text><text x="74.6" y="172.7">Cfl1</text><text x="68.9" y="159.7">Actn4</text><text x="77.7" y="165.8">Hspa8</text><text x="65.5" y="162.9">Cap1</text><text x="74.6" y="154.6">Prdx1</text><text x="74.2" y="165.6">Myh14</text><text x="76.9" y="154.2">Eno1</text><text x="74.2" y="164.7">Ezr</text><text x="72.6" y="166.2">Prdx1</text><text x="75.0" y="160.7">Aldoa</text><text x="75.7" y="161.4">Rpl7</text><text x="65.6" y="165.8">Canx</text><text x="72.8" y="160.1">Myl6</text><text x="69.6" y="161.3">Psmc5</text><text x="67.9" y="162.2">Msn</text><text x="76.7" y="156.6">Pdia3</text><text x="71.9" y="160.3">Sod1</text><text x="81.1" y="164.0">Krt18</text><text x="65.2" y="160.8">Eef1d</text><text x="71.1" y="158.8">Anxa3</text><text x="68.0" y="157.2">Anxa3</text><text x="67.3" y="166.7">Canx</text><text x="73.3" y="162.3">Crip2</text><text x="69.7" y="165.3">Rpl7</text><text x="64.7" y="164.4">Ctsd</text><text x="71.9" y="161.5">Msn</text><text x="69.2" y="158.8">Rap1b</text><text x="67.5" y="165.1">Wdfy2</text><text x="73.0" y="162.7">Rpl4</text><text x="69.5" y="165.2">Vcl</text><text x="64.1" y="159.9">Rab10</text><text x="73.9" y="161.4">Ctsd</text><text x="68.1" y="170.4">Anxa2</text><text x="73.7" y="164.1">Map4</text><text x="67.8" y="164.8">Hspa5</text><text x="65.8" y="160.5">Canx</text><text x="75.4" y="158.6">P4hb</text><text x="70.0" y="165.9">Phb</text><text x="65.9" y="160.4">Hspa5</text><text x="73.9" y="155.8">Ufm1</text><text x="72.4" y="160.7">Rpl4</text><text x="73.7" y="162.8">Tagln</text><text x="69.5" y="163.9">Tagln</text><text x="70.8" y="159.5">Eif3e</text><text x="70.8" y="161.0">Hspb1</text><text x="68.7" y="164.4">Fgg</text><text x="81.2" y="169.4">Ywhab</text><text x="77.2" y="157.7">Hspa5</text><text x="73.9" y="161.1">Sod1</text><text x="66.5" y="160.2">Eno1</text><text x="75.0" y="163.4">Ezr</text><text x="73.2" y="159.4">Vcl</text><text x="65.5" y="167.5">Hspb1</text><text x="66.6" y="157.9">Pkm</text><text x="70.6" y="159.6">Tpi1</text><text x="69.7" y="160.3">Myl6</text><text x="65.5" y="162.1">Fmo1</text><text x="75.3" y="162.4">Anxa2</text><text x="66.3" y="164.0">Anxa2</text><text x="68.2" y="165.6">P4hb</text><text x="68.1" y="158.8">Fgg</text><text x="68.8" y="157.4">Cd36</text><text x="67.6" y="170.0">Tpm1</text><text x="75.3" y="162.1">Rap1a</text><text x="73.3" y="158.4">Anxa1</text><text x="71.7" y="158.0">Lmna</text><text x="64.1" y="155.4">Ufm1</text><text x="63.4" y="168.6">Tf</text><text x="80.7" y="164.8">Tagln</text><text x="80.1" y="162.0">Ufm1</text><text x="71.1" y="154.4">P4hb</text><text x="67.3" y="159.1">Fgg</text><text x="61.9" y="158.2">Anxa2</text><text x="73.3" y="160.7">Ldha</text><text x="76.9" y="164.7">Rap1b</text><text x="70.9" y="167.5">Crip2</text><text x="67.1" y="167.9">Gsn</text><text x="85.0" y="165.0">Hspa5</text><text x="79.9" y="169.0">Flna</text><text x="72.0" y="167.0">Fga</text><text x="59.7" y="166.4">Sod1</text><text x="58.6" y="167.1">Fgg</text><text x="74.4" y="166.4">Cd36</text><text x="79.6" y="163.6">Krt18</text><text x="70.2" y="166.6">Calr</text><text x="75.4" y="152.6">Cat</text><text x="78.9" y="157.8">Flna</text><text x="56.3" y="166.2">Acta2</text><text x="72.5" y="161.9">Krt8</text><text x="52.0" y="154.9">Hspb1</text><text x="59.7" y="155.5">Lalba</text><text x="64.4" y="161.6">Atp5b</text><text x="70.2" y="151.2">Gapdh</text><text x="72.6" y="152.0">Anxa3</text><text x="65.0" y="161.3">Ezr</text><text x="67.7" y="163.5">Rap1a</text><text x="70.7" y="163.7">Ufm1</text><text x="69.5" y="171.4">Hspb1</text><text x="70.5" y="162.8">Rap1b</text><text x="68.2" y="150.8">Rab10</text><text x="78.2" y="165.6">Myh14</text><text x="77.4" y="158.0">Phb</text><text x="83.1" y="157.3">Rpl7</text><text x="68.6" y="167.7">Rpl18</text><text x="65.5" y="163.5">Cap1</text><text x="63.1" y="167.2">Rpn1</text><text x="48.9" y="162.1">Tpi1</text><text x="80.8" y="155.8">Ctsd</text><text x="60.1" y="166.4">Eif3h</text><text x="72.8" y="162.5">Wdfy2</text><text x="63.2" y="168.1">Prdx1</text><text x="66.9" y="170.5">Cndp2</text><text x="70.1" y="163.8">Anxa3</text><text x="81.5" y="164.4">Acta2</text><text x="79.3" y="165.3">Cndp2</text><text x="72.3" y="163.4">Acta2</text><text x="92.6" y="163.2">Rap1b</text><text x="67.2" y="163.1">Eif3e</text><text x="65.9" y="158.4">Prdx1</text><text x="79.7" y="158.2">Krt8</text><text x="64.4" y="163.7">Eif3h</text><text x="68.2" y="169.9">Eif3h</text><text x="71.3" y="153.3">Acta2</text><text x="80.8" y="166.5">Rnls</text><text x="87.3" y="153.9">Cnn3</text><text x="58.9" y="150.8">Rpl7a</text><text x="82.9" y="152.6">Hspa5</text><text x="78.3" y="159.9">Rnls</text><text x="71.7" y="167.4">Anxa2</text><text x="60.1" y="163.4">Rpl29</text><text x="83.6" y="137.4">Anxa7</text><text x="116.2" y="136.2">Vim</text><text x="99.6" y="146.3">Fn1</text><text x="100.9" y="167.5">Mb1</text><text x="26.3" y="180.7">Cbr2</text><text x="47.5" y="180.7">Scgb1a1</text><text x="70.9" y="189.6">Alb</text><text x="59.9" y="203.1">Hbb-b1</text><text x="106.0" y="234.1">Actg2</text><text x="48.0" y="159.8">Ces1d</text><text x="88.9" y="150.4">Fbln5</text><text x="93.9" y="156.9">Fgb</text><text x="90.9" y="168.9">Col1a2</text><text x="58.9" y="173.4">Hba-a1</text><text x="60.9" y="167.9">Hbb-b2</text><text x="60.9" y="153.4">Sftpc</text><text x="85.9" y="174.9">Lmna</text><text x="57.9" y="175.9">Selenbp1</text></g>
<rect x="143.8" y="131.6" width="99.00" height="107.20" fill="#fff"/>
<path d="M153.3 131.6V238.8M166.0 131.6V238.8M178.7 131.6V238.8M191.4 131.6V238.8M203.4 131.6V238.8M215.6 131.6V238.8M228.8 131.6V238.8M143.8 135.3H242.8M143.8 155.6H242.8M143.8 175.2H242.8M143.8 195.6H242.8M143.8 215.9H242.8M143.8 235.8H242.8" stroke="#e9e9e9" stroke-width="0.5" fill="none" stroke-dasharray="0.6 0.5"/>
<rect x="143.8" y="131.6" width="99.00" height="107.20" fill="none" stroke="#c2c2c2" stroke-width="1.0"/>
<path d="M153.3 238.8v1.4" stroke="#555" stroke-width="0.45"/>
<text x="154.20" y="241.20" font-size="2.5" text-anchor="end" fill="#222" transform="rotate(-90 154.20 241.20)" stroke="#222" stroke-width="0.16">-0.6</text>
<path d="M166.0 238.8v1.4" stroke="#555" stroke-width="0.45"/>
<text x="166.90" y="241.20" font-size="2.5" text-anchor="end" fill="#222" transform="rotate(-90 166.90 241.20)" stroke="#222" stroke-width="0.16">-0.4</text>
<path d="M178.7 238.8v1.4" stroke="#555" stroke-width="0.45"/>
<text x="179.60" y="241.20" font-size="2.5" text-anchor="end" fill="#222" transform="rotate(-90 179.60 241.20)" stroke="#222" stroke-width="0.16">-0.2</text>
<path d="M191.4 238.8v1.4" stroke="#555" stroke-width="0.45"/>
<text x="192.30" y="241.20" font-size="2.5" text-anchor="end" fill="#222" transform="rotate(-90 192.30 241.20)" stroke="#222" stroke-width="0.16">0.0</text>
<path d="M203.4 238.8v1.4" stroke="#555" stroke-width="0.45"/>
<text x="204.30" y="241.20" font-size="2.5" text-anchor="end" fill="#222" transform="rotate(-90 204.30 241.20)" stroke="#222" stroke-width="0.16">0.2</text>
<path d="M215.6 238.8v1.4" stroke="#555" stroke-width="0.45"/>
<text x="216.50" y="241.20" font-size="2.5" text-anchor="end" fill="#222" transform="rotate(-90 216.50 241.20)" stroke="#222" stroke-width="0.16">0.4</text>
<path d="M228.8 238.8v1.4" stroke="#555" stroke-width="0.45"/>
<text x="229.70" y="241.20" font-size="2.5" text-anchor="end" fill="#222" transform="rotate(-90 229.70 241.20)" stroke="#222" stroke-width="0.16">0.6</text>
<path d="M143.8 135.3h-1.4" stroke="#555" stroke-width="0.45"/>
<text x="141.60" y="136.20" font-size="2.5" text-anchor="end" fill="#222" stroke="#222" stroke-width="0.16">0.8</text>
<path d="M143.8 155.6h-1.4" stroke="#555" stroke-width="0.45"/>
<text x="141.60" y="156.50" font-size="2.5" text-anchor="end" fill="#222" stroke="#222" stroke-width="0.16">0.6</text>
<path d="M143.8 175.2h-1.4" stroke="#555" stroke-width="0.45"/>
<text x="141.60" y="176.10" font-size="2.5" text-anchor="end" fill="#222" stroke="#222" stroke-width="0.16">0.4</text>
<path d="M143.8 195.6h-1.4" stroke="#555" stroke-width="0.45"/>
<text x="141.60" y="196.50" font-size="2.5" text-anchor="end" fill="#222" stroke="#222" stroke-width="0.16">0.2</text>
<path d="M143.8 215.9h-1.4" stroke="#555" stroke-width="0.45"/>
<text x="141.60" y="216.80" font-size="2.5" text-anchor="end" fill="#222" stroke="#222" stroke-width="0.16">0.0</text>
<path d="M143.8 235.8h-1.4" stroke="#555" stroke-width="0.45"/>
<text x="141.60" y="236.70" font-size="2.5" text-anchor="end" fill="#222" stroke="#222" stroke-width="0.16">-0.2</text>
<text x="193.30" y="249.10" font-size="2.5" text-anchor="middle" fill="#222" stroke="#222" stroke-width="0.12">Loadings 1</text>
<text x="134.80" y="185.20" font-size="2.5" text-anchor="middle" fill="#222" transform="rotate(-90 134.80 185.20)" stroke="#222" stroke-width="0.12">Loadings 3</text>
<path d="M205.9 216.2h0M184.9 210.7h0M194.3 213.9h0M197.6 212.7h0M188.7 216.1h0M185.1 214.2h0M192.8 216.2h0M202.1 217.1h0M201.8 217.6h0M185.6 213.1h0M202.7 216.9h0M201.1 219.8h0M189.1 217.0h0M201.1 214.6h0M192.2 214.9h0M191.0 216.2h0M188.3 215.7h0M195.3 212.2h0M201.6 219.1h0M196.9 215.8h0M194.8 210.8h0M200.9 219.3h0M195.3 213.8h0M195.8 214.8h0M198.5 215.3h0M194.5 216.8h0M196.1 215.1h0M200.6 214.5h0M190.0 215.4h0M209.3 217.0h0M199.4 216.8h0M204.0 217.0h0M198.0 218.2h0M201.2 219.3h0M195.1 217.1h0M203.7 216.7h0M190.7 213.8h0M191.0 215.1h0M198.2 214.5h0M199.4 214.3h0M193.4 219.9h0M190.3 212.5h0M189.4 217.0h0M197.8 216.1h0M189.7 212.6h0M200.3 213.8h0M190.6 212.9h0M201.5 216.6h0M204.9 214.6h0M199.7 214.4h0M204.1 211.9h0M191.6 213.2h0M197.3 215.2h0M196.8 213.3h0M187.6 210.2h0M185.2 211.9h0M194.4 215.8h0M199.9 215.7h0M203.9 221.5h0M203.2 218.5h0M190.3 219.9h0M185.4 217.4h0M190.8 215.3h0M190.6 214.3h0M191.8 212.1h0M192.1 216.7h0M194.4 213.7h0M190.3 212.3h0M200.2 212.6h0M194.9 212.5h0M202.0 214.1h0M207.2 221.4h0M196.5 214.7h0M186.0 209.9h0M201.1 214.2h0M190.3 215.6h0M192.1 212.1h0M188.3 214.8h0M196.9 214.6h0M202.9 214.9h0M194.5 213.8h0M207.7 217.0h0M206.3 219.3h0M192.6 209.7h0M194.7 215.0h0M195.9 214.4h0M195.8 213.4h0M188.2 219.8h0M189.9 219.4h0M189.6 215.7h0M188.6 211.4h0M199.9 219.0h0M199.6 215.5h0M209.1 219.2h0M202.2 219.5h0M199.9 214.2h0M201.0 216.3h0M197.6 214.8h0M201.2 215.1h0M196.6 214.0h0M196.8 215.9h0M195.9 218.3h0M201.0 218.9h0M195.6 212.8h0M206.0 220.3h0M190.0 217.5h0M188.3 215.7h0M204.7 212.2h0M201.3 214.0h0M193.9 215.2h0M202.1 215.0h0M194.9 215.1h0M204.2 218.8h0M183.8 210.1h0M190.7 213.5h0M204.3 216.7h0M194.2 219.5h0M186.9 214.9h0M197.1 219.3h0M197.1 217.6h0M198.2 219.2h0M204.2 215.8h0M205.0 219.2h0M205.9 214.8h0M196.9 214.6h0M192.9 218.6h0M208.6 217.9h0M177.3 213.4h0M196.0 219.4h0M198.1 216.9h0M208.1 215.5h0M204.4 218.6h0M193.9 217.7h0M200.6 217.4h0M195.3 215.8h0M202.0 215.3h0M192.8 217.7h0M185.2 211.2h0M197.6 216.1h0M191.4 210.7h0M198.1 213.9h0M199.9 214.8h0M187.3 214.3h0M198.7 213.4h0M199.2 215.0h0M204.7 213.9h0M191.5 213.3h0M197.6 215.0h0M199.1 218.9h0M190.5 215.6h0M192.5 214.5h0M197.9 217.4h0M190.6 217.2h0M186.4 215.8h0M197.8 210.5h0M186.2 213.7h0M196.8 216.1h0M199.1 213.8h0M197.0 214.5h0M199.1 212.4h0M190.3 212.5h0M194.0 214.3h0M197.3 214.6h0M190.9 215.6h0M193.7 217.1h0M201.7 212.2h0M204.9 218.8h0M195.3 217.0h0M196.3 216.6h0M200.4 212.7h0M194.9 214.1h0M202.3 216.1h0M202.7 217.7h0M189.7 212.3h0M192.1 214.3h0M193.0 216.3h0M198.9 213.5h0M199.6 214.5h0M194.6 214.7h0M197.1 218.6h0M200.8 215.1h0M190.7 211.0h0M196.8 214.1h0M198.4 219.9h0M190.1 216.8h0M197.3 211.8h0M190.3 215.8h0M190.7 213.1h0M192.9 213.2h0M190.0 217.1h0M195.3 216.7h0M211.1 217.7h0M204.0 216.0h0M196.8 218.1h0M195.6 217.6h0M194.8 215.8h0M188.2 213.4h0M200.5 213.4h0M196.7 212.0h0M196.4 213.6h0M189.2 217.0h0M199.3 216.4h0M194.5 212.7h0M198.2 213.3h0M192.0 218.9h0M194.7 216.6h0M192.0 212.5h0M205.3 217.4h0M195.2 213.5h0M194.6 211.3h0M206.6 216.9h0M201.4 212.8h0M196.9 217.7h0M196.4 215.7h0M197.5 217.2h0M203.9 215.8h0M190.8 214.3h0M198.7 217.0h0M198.2 214.9h0M209.7 217.0h0M192.8 214.6h0M200.0 216.7h0M195.2 215.0h0M194.4 220.8h0M184.6 209.8h0M199.4 218.5h0M201.4 214.1h0M198.8 220.0h0M197.3 217.0h0M198.8 215.6h0M192.7 215.0h0M202.4 214.8h0M201.8 219.3h0M196.3 212.4h0M192.9 210.9h0M182.9 218.4h0M219.5 220.8h0M204.2 220.0h0M199.9 213.9h0M184.4 210.1h0M188.7 211.2h0M176.0 218.7h0M192.0 210.8h0M205.9 217.7h0M204.0 216.9h0M209.2 219.4h0M209.4 219.6h0M185.3 217.6h0M196.1 214.1h0M176.8 212.9h0M201.2 216.0h0M208.6 215.6h0M195.7 219.5h0M190.6 220.8h0M185.6 217.2h0M208.7 219.4h0M201.0 222.4h0M187.4 218.5h0M197.9 212.8h0M193.0 210.6h0M196.5 206.1h0M183.2 218.4h0M195.1 214.3h0M208.7 219.7h0M191.8 214.6h0M192.2 216.7h0M190.7 216.4h0M184.7 213.7h0M200.0 217.0h0M172.9 214.0h0M200.8 215.8h0M201.4 218.2h0M187.2 214.1h0M189.4 217.6h0M210.5 214.4h0M193.9 215.1h0M200.4 221.5h0M204.8 218.2h0M200.2 211.2h0M197.9 213.7h0M206.7 220.7h0M190.9 215.3h0M190.6 212.5h0M194.4 215.4h0M212.5 220.3h0M204.4 220.8h0M213.6 215.7h0M193.3 213.3h0M194.8 218.9h0M202.2 214.4h0M198.6 211.4h0M196.2 224.8h0M193.2 214.9h0M195.6 214.5h0M194.7 222.4h0M193.7 218.6h0M192.6 210.8h0M207.6 220.8h0M183.2 214.3h0M200.3 220.1h0M222.7 136.0h0M147.4 184.9h0M191.4 193.0h0M167.8 202.7h0M169.8 207.3h0M181.3 206.5h0M220.7 209.6h0M237.7 207.8h0M227.8 235.3h0M192.2 224.8h0M172.9 216.7h0M208.0 208.5h0M213.0 215.5h0M176.0 215.0h0M183.0 210.5h0" stroke="#ff2d8e" stroke-width="1.3" stroke-linecap="round" fill="none"/>
<g fill="#1c1cf2" stroke="#1c1cf2" stroke-width="0.09" font-size="2.6"><text x="206.8" y="217.1">Eif4h</text><text x="185.8" y="211.6">Anxa2</text><text x="195.2" y="214.8">Crip2</text><text x="198.5" y="213.6">Ctsd</text><text x="189.6" y="217.0">Anxa3</text><text x="186.0" y="215.1">Hspb1</text><text x="193.7" y="217.1">Rpl7a</text><text x="203.0" y="218.0">Anxa2</text><text x="202.7" y="218.5">Eif3e</text><text x="186.5" y="214.0">Anxa2</text><text x="203.6" y="217.8">Rps9</text><text x="202.0" y="220.7">Phb</text><text x="190.0" y="217.9">Tf</text><text x="202.0" y="215.5">Rpl29</text><text x="193.1" y="215.8">Des</text><text x="191.9" y="217.1">Tf</text><text x="189.2" y="216.6">Rpl18</text><text x="196.2" y="213.1">Hspa8</text><text x="202.5" y="220.0">Eif4h</text><text x="197.8" y="216.7">Lalba</text><text x="195.7" y="211.7">Myh14</text><text x="201.8" y="220.2">Lalba</text><text x="196.2" y="214.7">Cndp2</text><text x="196.7" y="215.7">Prdx1</text><text x="199.4" y="216.2">Ezr</text><text x="195.4" y="217.7">Cat</text><text x="197.0" y="216.0">Eef1d</text><text x="201.5" y="215.4">Fga</text><text x="190.9" y="216.3">P4hb</text><text x="210.2" y="217.9">Rpl4</text><text x="200.3" y="217.7">Tagln</text><text x="204.9" y="217.9">Ezr</text><text x="198.9" y="219.1">Eno1</text><text x="202.1" y="220.2">Cap1</text><text x="196.0" y="218.0">Eif4h</text><text x="204.6" y="217.6">Rpl4</text><text x="191.6" y="214.7">Ldha</text><text x="191.9" y="216.0">Gstm1</text><text x="199.1" y="215.4">Cd36</text><text x="200.3" y="215.2">Rnls</text><text x="194.3" y="220.8">Tpm3</text><text x="191.2" y="213.4">Rnls</text><text x="190.3" y="217.9">Rpl18</text><text x="198.7" y="217.0">Fmo1</text><text x="190.6" y="213.5">Ezr</text><text x="201.2" y="214.7">Lalba</text><text x="191.5" y="213.8">Eif3h</text><text x="202.4" y="217.5">Aldoa</text><text x="205.8" y="215.5">Hspb1</text><text x="200.6" y="215.3">Eno1</text><text x="205.0" y="212.8">Hspa5</text><text x="192.5" y="214.1">Pdia3</text><text x="198.2" y="216.1">Rab10</text><text x="197.7" y="214.2">Hspa5</text><text x="188.5" y="211.1">Anxa8</text><text x="186.1" y="212.8">Msn</text><text x="195.3" y="216.7">Tagln</text><text x="200.8" y="216.6">Aldoa</text><text x="204.8" y="222.4">Ldha</text><text x="204.1" y="219.4">Tkt</text><text x="191.2" y="220.8">Fga</text><text x="186.3" y="218.3">Aldoa</text><text x="191.7" y="216.2">Msn</text><text x="191.5" y="215.2">Lmna</text><text x="192.7" y="213.0">Vcl</text><text x="193.0" y="217.6">Myl6</text><text x="195.3" y="214.6">Cat</text><text x="191.2" y="213.2">Gsn</text><text x="201.1" y="213.5">Tpm3</text><text x="195.8" y="213.4">Pkm</text><text x="202.9" y="215.0">Myh9</text><text x="208.1" y="222.3">Tpm1</text><text x="197.4" y="215.6">Pgk1</text><text x="186.9" y="210.8">Crip2</text><text x="202.0" y="215.1">Myl6</text><text x="191.2" y="216.5">Eno1</text><text x="193.0" y="213.0">Pgk1</text><text x="189.2" y="215.7">Gapdh</text><text x="197.8" y="215.5">Ldha</text><text x="203.8" y="215.8">Psmc5</text><text x="195.4" y="214.7">Pfn1</text><text x="208.6" y="217.9">Fgg</text><text x="207.2" y="220.2">Psmc2</text><text x="193.5" y="210.6">Lamb3</text><text x="195.6" y="215.9">Ahnak</text><text x="196.8" y="215.3">Tpm1</text><text x="196.7" y="214.3">Rap1a</text><text x="189.1" y="220.7">Phb</text><text x="190.8" y="220.3">Cd36</text><text x="190.5" y="216.6">Prdx1</text><text x="189.5" y="212.3">Calr</text><text x="200.8" y="219.9">Pfn1</text><text x="200.5" y="216.4">Cat</text><text x="210.0" y="220.1">Eef1d</text><text x="203.1" y="220.4">Ufm1</text><text x="200.8" y="215.1">Tagln</text><text x="201.9" y="217.2">Tln1</text><text x="198.5" y="215.7">Rnls</text><text x="202.1" y="216.0">Anxa8</text><text x="197.5" y="214.9">Ctsd</text><text x="197.7" y="216.8">Fmo1</text><text x="196.8" y="219.2">Anxa1</text><text x="201.9" y="219.8">Msn</text><text x="196.5" y="213.7">Tagln</text><text x="206.9" y="221.2">Rnls</text><text x="190.9" y="218.4">Tpm3</text><text x="189.2" y="216.6">Rpl7a</text><text x="205.6" y="213.1">Ezr</text><text x="202.2" y="214.9">Fga</text><text x="194.8" y="216.1">Tagln</text><text x="203.0" y="215.9">Psmc2</text><text x="195.8" y="216.0">Pgk1</text><text x="205.1" y="219.7">Rps9</text><text x="184.7" y="211.0">Hspa8</text><text x="191.6" y="214.4">Pfn1</text><text x="205.2" y="217.6">Phb</text><text x="195.1" y="220.4">Lmna</text><text x="187.8" y="215.8">Map4</text><text x="198.0" y="220.2">Aldoa</text><text x="198.0" y="218.5">Crip2</text><text x="199.1" y="220.1">Krt8</text><text x="205.1" y="216.7">Ehd2</text><text x="205.9" y="220.1">Eef1d</text><text x="206.8" y="215.7">Pdia3</text><text x="197.8" y="215.5">Rab10</text><text x="193.8" y="219.5">Tpm1</text><text x="209.5" y="218.8">Rpn1</text><text x="178.2" y="214.3">Anxa3</text><text x="196.9" y="220.3">Hspa8</text><text x="199.0" y="217.8">Capg</text><text x="209.0" y="216.4">Tkt</text><text x="205.3" y="219.5">Tpm1</text><text x="194.8" y="218.6">Cd36</text><text x="201.5" y="218.3">Map4</text><text x="196.2" y="216.7">Eno1</text><text x="202.9" y="216.2">Tln1</text><text x="193.7" y="218.6">Flna</text><text x="186.1" y="212.1">Rps3a</text><text x="198.5" y="217.0">Lamb3</text><text x="192.3" y="211.6">Atp5b</text><text x="199.0" y="214.8">Prdx6</text><text x="200.8" y="215.7">Eef1d</text><text x="188.2" y="215.2">Eif4h</text><text x="199.6" y="214.3">Rap1a</text><text x="200.1" y="215.9">Eef1d</text><text x="205.6" y="214.8">Hspa8</text><text x="192.4" y="214.2">Lmna</text><text x="198.5" y="215.9">Rpn1</text><text x="200.0" y="219.8">Phb</text><text x="191.4" y="216.5">Tpi1</text><text x="193.4" y="215.4">Ufm1</text><text x="198.8" y="218.3">Calr</text><text x="191.5" y="218.1">Rpl7a</text><text x="187.3" y="216.7">Gsn</text><text x="198.7" y="211.4">Lmna</text><text x="187.1" y="214.6">Eno1</text><text x="197.7" y="217.0">Tagln</text><text x="200.0" y="214.7">Anxa8</text><text x="197.9" y="215.4">Cndp2</text><text x="200.0" y="213.3">Acta2</text><text x="191.2" y="213.4">Des</text><text x="194.9" y="215.2">Lalba</text><text x="198.2" y="215.5">Acta2</text><text x="191.8" y="216.5">Atp5b</text><text x="194.6" y="218.0">Tf</text><text x="202.6" y="213.1">Map4</text><text x="205.8" y="219.7">Pdia3</text><text x="196.2" y="217.9">Cnn3</text><text x="197.2" y="217.5">Pfn1</text><text x="201.3" y="213.6">Rpl7</text><text x="195.8" y="215.0">Anxa3</text><text x="203.2" y="217.0">Rap1b</text><text x="203.6" y="218.6">Tpi1</text><text x="190.6" y="213.2">Cnn3</text><text x="193.0" y="215.2">Eno1</text><text x="193.9" y="217.2">Rpl7a</text><text x="199.8" y="214.4">Rab10</text><text x="200.5" y="215.4">Sod1</text><text x="195.5" y="215.6">Rpl18</text><text x="198.0" y="219.5">Rpl7</text><text x="201.7" y="216.0">Anxa1</text><text x="191.6" y="211.9">Map4</text><text x="197.7" y="215.0">Tpm1</text><text x="199.3" y="220.8">Tf</text><text x="191.0" y="217.7">Anxa8</text><text x="198.2" y="212.7">Cndp2</text><text x="191.2" y="216.7">Prdx6</text><text x="191.6" y="214.0">Acta2</text><text x="193.8" y="214.1">Prdx1</text><text x="190.9" y="218.0">Tpm3</text><text x="196.2" y="217.6">Cndp2</text><text x="212.0" y="218.6">Map4</text><text x="204.9" y="216.9">P4hb</text><text x="197.7" y="219.0">Eno1</text><text x="196.5" y="218.5">P4hb</text><text x="195.7" y="216.7">Cfl1</text><text x="189.1" y="214.3">Crip2</text><text x="201.4" y="214.3">Pgk1</text><text x="197.6" y="212.9">Cat</text><text x="197.3" y="214.5">Eif4h</text><text x="190.1" y="217.9">Sod1</text><text x="200.2" y="217.3">Sod1</text><text x="195.4" y="213.6">Gstm1</text><text x="199.1" y="214.2">Rpl7</text><text x="192.9" y="219.8">Rnls</text><text x="195.6" y="217.5">Eif4h</text><text x="192.9" y="213.4">Wdfy2</text><text x="206.2" y="218.3">Cndp2</text><text x="196.1" y="214.4">Rps9</text><text x="195.5" y="212.2">Acta2</text><text x="207.5" y="217.8">Cap1</text><text x="202.3" y="213.7">Actn4</text><text x="197.8" y="218.6">Msn</text><text x="197.3" y="216.6">Anxa3</text><text x="198.4" y="218.1">Tf</text><text x="204.8" y="216.7">Psmc2</text><text x="191.7" y="215.2">Cfl1</text><text x="199.6" y="217.9">Lamb3</text><text x="199.1" y="215.8">Wdfy2</text><text x="210.6" y="217.9">Cfl1</text><text x="193.7" y="215.5">Hspb1</text><text x="200.9" y="217.6">Capg</text><text x="196.1" y="215.9">Ezr</text><text x="195.3" y="221.7">Aldoa</text><text x="185.5" y="210.7">Ufm1</text><text x="200.3" y="219.4">Ldha</text><text x="202.3" y="215.0">Acta2</text><text x="199.7" y="220.9">Ywhab</text><text x="198.2" y="217.9">P4hb</text><text x="199.7" y="216.5">Cap1</text><text x="193.6" y="215.9">Wdfy2</text><text x="203.3" y="215.7">Phb</text><text x="202.7" y="220.2">Anxa1</text><text x="197.2" y="213.3">Rap1b</text><text x="193.8" y="211.8">Fga</text><text x="183.8" y="219.3">Rpl7a</text><text x="220.4" y="221.7">Rpl18</text><text x="205.1" y="220.9">Rpl7</text><text x="200.8" y="214.8">Pdia3</text><text x="185.3" y="211.0">Sod1</text><text x="189.6" y="212.1">Tagln</text><text x="176.9" y="219.6">Ldha</text><text x="192.9" y="211.7">Actn4</text><text x="206.8" y="218.6">Gsn</text><text x="204.9" y="217.8">Lalba</text><text x="210.1" y="220.3">Hspa8</text><text x="210.3" y="220.5">Eif3e</text><text x="186.2" y="218.5">Prdx1</text><text x="197.0" y="215.0">Capg</text><text x="177.7" y="213.8">Aldoa</text><text x="202.1" y="216.9">Prdx6</text><text x="209.5" y="216.5">Rnls</text><text x="196.6" y="220.4">Map4</text><text x="191.5" y="221.7">Map4</text><text x="186.5" y="218.1">Fgg</text><text x="209.6" y="220.3">Rpl29</text><text x="201.9" y="223.3">Myl6</text><text x="188.3" y="219.4">Wdfy2</text><text x="198.8" y="213.7">Rpl18</text><text x="193.9" y="211.5">Rab10</text><text x="197.4" y="207.0">Anxa3</text><text x="184.1" y="219.3">Capg</text><text x="196.0" y="215.2">Hspa8</text><text x="209.6" y="220.6">Tln1</text><text x="192.7" y="215.5">Eef1d</text><text x="193.1" y="217.6">Phb</text><text x="191.6" y="217.3">Pgk1</text><text x="185.6" y="214.6">Rpn1</text><text x="200.9" y="217.9">Fgg</text><text x="173.8" y="214.9">Cat</text><text x="201.7" y="216.7">Anxa2</text><text x="202.3" y="219.1">Krt8</text><text x="188.1" y="215.0">Flna</text><text x="190.3" y="218.5">Cat</text><text x="211.4" y="215.3">Vcl</text><text x="194.8" y="216.0">Crip2</text><text x="201.3" y="222.4">Anxa8</text><text x="205.7" y="219.1">Eif3h</text><text x="201.1" y="212.1">Rpl29</text><text x="198.8" y="214.6">Lmna</text><text x="207.6" y="221.6">Wdfy2</text><text x="191.8" y="216.2">Cndp2</text><text x="191.5" y="213.4">Ehd2</text><text x="195.3" y="216.3">Ywhab</text><text x="213.4" y="221.2">Fga</text><text x="205.3" y="221.7">Pgk1</text><text x="214.5" y="216.6">Ezr</text><text x="194.2" y="214.2">Anxa1</text><text x="195.7" y="219.8">Acta2</text><text x="203.1" y="215.3">P4hb</text><text x="199.5" y="212.3">Rpl7a</text><text x="197.1" y="225.7">Fmo1</text><text x="194.1" y="215.8">Cfl1</text><text x="196.5" y="215.4">Des</text><text x="195.6" y="223.3">Calr</text><text x="194.6" y="219.5">Lalba</text><text x="193.5" y="211.7">Actn4</text><text x="208.5" y="221.7">Ctsd</text><text x="184.1" y="215.2">Hspa8</text><text x="201.2" y="221.0">Eif3h</text><text x="223.6" y="136.9">Mb</text><text x="148.3" y="185.8">Cbr2</text><text x="192.3" y="193.9">Col1a2</text><text x="168.7" y="203.6">Scgb1a1</text><text x="170.7" y="208.2">Lamb3</text><text x="182.2" y="207.4">Hbb-b1</text><text x="221.6" y="210.5">Fn1</text><text x="238.6" y="208.7">Vim</text><text x="228.7" y="236.2">Actg2</text><text x="193.1" y="225.7">Alb</text><text x="173.8" y="217.6">Fgb</text><text x="208.9" y="209.4">Fbln5</text><text x="213.9" y="216.4">Col1a1</text><text x="176.9" y="215.9">Ces1d</text><text x="183.9" y="211.4">Sftpc</text></g>
<rect x="266.3" y="131.2" width="101.30" height="107.90" fill="#fff"/>
<path d="M276.0 131.2V239.1M288.7 131.2V239.1M300.9 131.2V239.1M313.6 131.2V239.1M326.1 131.2V239.1M338.8 131.2V239.1M351.1 131.2V239.1M266.3 155.6H367.6M266.3 182.3H367.6M266.3 209.1H367.6M266.3 236.3H367.6" stroke="#e9e9e9" stroke-width="0.5" fill="none" stroke-dasharray="0.6 0.5"/>
<rect x="266.3" y="131.2" width="101.30" height="107.90" fill="none" stroke="#c2c2c2" stroke-width="1.0"/>
<path d="M276.0 239.1v1.4" stroke="#555" stroke-width="0.45"/>
<text x="276.90" y="241.50" font-size="2.5" text-anchor="end" fill="#222" transform="rotate(-90 276.90 241.50)" stroke="#222" stroke-width="0.16">-0.6</text>
<path d="M288.7 239.1v1.4" stroke="#555" stroke-width="0.45"/>
<text x="289.60" y="241.50" font-size="2.5" text-anchor="end" fill="#222" transform="rotate(-90 289.60 241.50)" stroke="#222" stroke-width="0.16">-0.4</text>
<path d="M300.9 239.1v1.4" stroke="#555" stroke-width="0.45"/>
<text x="301.80" y="241.50" font-size="2.5" text-anchor="end" fill="#222" transform="rotate(-90 301.80 241.50)" stroke="#222" stroke-width="0.16">-0.2</text>
<path d="M313.6 239.1v1.4" stroke="#555" stroke-width="0.45"/>
<text x="314.50" y="241.50" font-size="2.5" text-anchor="end" fill="#222" transform="rotate(-90 314.50 241.50)" stroke="#222" stroke-width="0.16">0.0</text>
<path d="M326.1 239.1v1.4" stroke="#555" stroke-width="0.45"/>
<text x="327.00" y="241.50" font-size="2.5" text-anchor="end" fill="#222" transform="rotate(-90 327.00 241.50)" stroke="#222" stroke-width="0.16">0.2</text>
<path d="M338.8 239.1v1.4" stroke="#555" stroke-width="0.45"/>
<text x="339.70" y="241.50" font-size="2.5" text-anchor="end" fill="#222" transform="rotate(-90 339.70 241.50)" stroke="#222" stroke-width="0.16">0.4</text>
<path d="M351.1 239.1v1.4" stroke="#555" stroke-width="0.45"/>
<text x="352.00" y="241.50" font-size="2.5" text-anchor="end" fill="#222" transform="rotate(-90 352.00 241.50)" stroke="#222" stroke-width="0.16">0.6</text>
<path d="M266.3 155.6h-1.4" stroke="#555" stroke-width="0.45"/>
<text x="264.10" y="156.50" font-size="2.5" text-anchor="end" fill="#222" stroke="#222" stroke-width="0.16">0.2</text>
<path d="M266.3 182.3h-1.4" stroke="#555" stroke-width="0.45"/>
<text x="264.10" y="183.20" font-size="2.5" text-anchor="end" fill="#222" stroke="#222" stroke-width="0.16">0.0</text>
<path d="M266.3 209.1h-1.4" stroke="#555" stroke-width="0.45"/>
<text x="264.10" y="210.00" font-size="2.5" text-anchor="end" fill="#222" stroke="#222" stroke-width="0.16">-0.2</text>
<path d="M266.3 236.3h-1.4" stroke="#555" stroke-width="0.45"/>
<text x="264.10" y="237.20" font-size="2.5" text-anchor="end" fill="#222" stroke="#222" stroke-width="0.16">-0.4</text>
<text x="316.95" y="249.40" font-size="2.5" text-anchor="middle" fill="#222" stroke="#222" stroke-width="0.12">Loadings 1</text>
<text x="257.30" y="185.15" font-size="2.5" text-anchor="middle" fill="#222" transform="rotate(-90 257.30 185.15)" stroke="#222" stroke-width="0.12">Loadings 4</text>
<path d="M314.6 182.8h0M307.3 182.6h0M314.9 181.5h0M318.5 183.7h0M316.4 178.8h0M317.0 180.5h0M319.0 181.6h0M323.1 175.8h0M325.5 183.4h0M312.6 184.7h0M312.3 181.3h0M316.6 188.4h0M311.5 183.7h0M315.2 183.9h0M316.0 186.5h0M323.7 182.5h0M315.3 185.6h0M315.7 186.9h0M313.6 177.7h0M318.9 186.6h0M328.1 182.0h0M318.9 179.1h0M316.5 184.1h0M318.1 187.1h0M313.3 182.6h0M315.7 177.9h0M315.3 177.4h0M324.5 183.2h0M314.0 172.7h0M318.4 180.5h0M310.4 179.7h0M310.9 183.2h0M319.9 193.0h0M319.8 183.4h0M321.6 178.7h0M318.4 182.6h0M319.9 186.2h0M320.0 187.5h0M313.3 188.4h0M312.9 181.3h0M320.6 177.0h0M320.9 189.3h0M315.6 191.2h0M314.0 181.3h0M320.7 182.0h0M317.9 180.5h0M315.2 180.5h0M321.1 184.2h0M316.3 187.4h0M307.7 176.5h0M320.5 181.5h0M318.2 184.4h0M318.5 183.4h0M322.2 176.1h0M318.7 181.8h0M320.1 187.7h0M319.0 181.0h0M321.0 171.6h0M323.9 185.3h0M319.6 183.0h0M317.4 180.4h0M319.1 188.5h0M314.1 177.2h0M305.1 180.5h0M319.0 189.5h0M328.3 185.1h0M326.1 187.1h0M319.3 186.5h0M319.6 186.2h0M316.7 182.8h0M319.8 187.8h0M324.2 189.0h0M320.4 179.2h0M313.6 186.1h0M317.8 182.2h0M318.5 189.2h0M320.5 187.2h0M303.8 193.9h0M321.3 187.1h0M313.6 183.7h0M315.7 181.6h0M314.4 188.6h0M316.1 188.9h0M316.5 189.5h0M320.1 186.0h0M313.8 183.4h0M318.8 181.4h0M317.4 187.6h0M317.1 185.2h0M311.3 182.7h0M315.4 183.0h0M316.2 180.6h0M310.9 181.9h0M318.9 186.4h0M320.4 181.4h0M314.1 189.9h0M314.1 182.3h0M315.4 176.4h0M322.5 190.1h0M316.9 186.6h0M321.6 186.4h0M325.2 183.1h0M313.1 188.2h0M316.3 175.9h0M320.1 184.1h0M315.8 189.0h0M322.5 183.2h0M320.4 178.4h0M323.4 191.8h0M316.3 181.6h0M317.8 181.4h0M312.2 187.2h0M327.0 188.3h0M313.5 173.3h0M315.4 192.4h0M321.2 185.7h0M305.4 176.0h0M315.2 189.0h0M309.0 187.4h0M318.9 192.8h0M314.9 185.2h0M309.8 193.8h0M327.0 185.1h0M313.3 177.6h0M314.4 189.4h0M310.0 183.9h0M323.5 186.0h0M317.2 179.0h0M310.8 183.5h0M317.1 179.1h0M313.1 179.4h0M318.5 181.1h0M318.2 180.8h0M313.5 189.4h0M317.4 185.5h0M313.7 180.0h0M321.5 184.3h0M316.9 182.1h0M322.4 186.4h0M317.3 186.9h0M308.1 189.9h0M316.3 187.7h0M305.1 186.8h0M319.4 183.6h0M313.1 181.7h0M308.8 184.0h0M311.3 184.8h0M310.8 184.1h0M324.8 181.5h0M321.4 187.2h0M322.0 181.6h0M312.7 185.3h0M315.3 184.3h0M318.1 184.2h0M319.2 191.9h0M310.2 190.6h0M322.2 183.2h0M320.6 187.3h0M311.3 179.9h0M315.6 189.0h0M318.0 186.3h0M318.8 186.6h0M313.2 186.2h0M318.0 184.1h0M324.6 181.8h0M309.3 186.9h0M313.4 185.2h0M311.6 187.0h0M313.9 185.0h0M312.6 183.0h0M313.6 188.7h0M319.4 185.5h0M311.5 191.0h0M321.2 186.0h0M317.7 180.1h0M318.7 178.4h0M323.3 185.8h0M320.8 180.7h0M317.9 184.5h0M317.9 179.8h0M317.6 179.6h0M316.5 188.2h0M314.9 186.4h0M310.2 192.9h0M312.3 186.5h0M314.8 184.4h0M326.0 182.3h0M323.8 179.8h0M308.0 183.6h0M319.5 186.5h0M315.4 177.5h0M315.8 186.2h0M309.4 173.2h0M326.9 180.9h0M319.0 182.7h0M317.7 187.8h0M313.9 176.1h0M321.9 181.8h0M317.8 180.0h0M315.7 181.1h0M319.6 186.2h0M313.0 182.1h0M321.1 179.4h0M314.2 187.6h0M316.1 184.8h0M315.6 177.7h0M322.6 185.4h0M317.4 177.6h0M319.3 186.5h0M314.9 180.2h0M319.6 184.0h0M318.1 185.4h0M314.5 177.5h0M313.3 185.7h0M315.3 186.1h0M306.5 182.9h0M308.0 180.7h0M321.2 179.9h0M316.1 181.1h0M317.1 186.3h0M310.8 181.6h0M316.6 186.2h0M315.7 185.9h0M313.1 190.0h0M323.0 185.7h0M320.5 187.4h0M318.2 182.5h0M312.4 181.1h0M319.5 188.9h0M308.7 179.3h0M321.4 178.3h0M309.3 188.3h0M313.7 186.4h0M319.6 181.5h0M308.0 184.0h0M316.6 191.0h0M312.0 187.6h0M324.6 182.9h0M322.1 188.8h0M333.7 179.0h0M326.3 185.1h0M298.5 180.8h0M314.3 180.7h0M321.4 176.5h0M314.6 184.6h0M316.8 171.9h0M332.5 180.6h0M286.8 187.6h0M317.3 177.5h0M304.8 196.6h0M308.1 181.1h0M330.2 186.6h0M305.3 186.3h0M320.9 186.1h0M315.0 189.2h0M315.7 173.7h0M317.4 200.7h0M313.2 189.4h0M320.6 183.5h0M320.8 188.1h0M311.6 180.7h0M327.8 186.1h0M307.0 188.8h0M309.1 180.9h0M313.8 191.7h0M303.7 184.5h0M309.9 188.0h0M305.1 187.5h0M323.3 175.2h0M307.5 176.6h0M321.0 183.3h0M316.5 181.3h0M318.8 178.4h0M329.5 189.8h0M306.7 187.5h0M310.0 186.4h0M303.2 187.0h0M307.4 184.4h0M313.4 187.1h0M315.4 180.5h0M308.6 190.9h0M315.4 180.8h0M315.6 188.1h0M313.1 183.7h0M317.5 186.4h0M316.1 190.1h0M321.2 172.7h0M323.3 177.0h0M323.1 177.7h0M317.9 185.6h0M309.4 183.5h0M329.9 184.2h0M325.7 178.8h0M320.6 182.7h0M313.1 177.0h0M308.7 181.8h0M308.9 179.9h0M310.9 176.6h0M325.6 192.6h0M328.8 183.0h0M344.2 135.3h0M314.2 148.0h0M309.8 170.9h0M291.8 174.2h0M342.1 189.2h0M349.0 189.5h0M303.2 204.0h0M290.5 207.0h0M327.4 219.7h0M269.6 232.7h0M360.0 233.7h0M295.0 187.4h0M330.0 173.5h0M334.0 174.5h0M332.0 196.5h0M312.0 198.5h0M300.0 181.0h0M303.0 192.0h0" stroke="#ff2d8e" stroke-width="1.3" stroke-linecap="round" fill="none"/>
<g fill="#1c1cf2" stroke="#1c1cf2" stroke-width="0.09" font-size="2.6"><text x="315.5" y="183.7">Rab10</text><text x="308.2" y="183.5">Canx</text><text x="315.8" y="182.4">Rps9</text><text x="319.4" y="184.6">Rab10</text><text x="317.3" y="179.7">Acta2</text><text x="317.9" y="181.4">Fmo1</text><text x="319.9" y="182.5">Rpl7a</text><text x="324.0" y="176.7">Rpl7</text><text x="326.4" y="184.3">Eif4h</text><text x="313.5" y="185.6">Ehd2</text><text x="313.2" y="182.2">Capg</text><text x="317.5" y="189.3">Hspa5</text><text x="312.4" y="184.6">Myl6</text><text x="316.1" y="184.8">Lamb3</text><text x="316.9" y="187.4">Anxa2</text><text x="324.6" y="183.4">Eno1</text><text x="316.2" y="186.5">Vcl</text><text x="316.6" y="187.8">Cat</text><text x="314.5" y="178.6">Rpl7a</text><text x="319.8" y="187.5">Rpn1</text><text x="329.0" y="182.9">Gapdh</text><text x="319.8" y="180.0">Krt8</text><text x="317.4" y="185.0">Acta2</text><text x="319.0" y="188.0">Rpn1</text><text x="314.2" y="183.5">Myh9</text><text x="316.6" y="178.8">Crip2</text><text x="316.2" y="178.3">Rap1a</text><text x="325.4" y="184.1">Cap1</text><text x="314.9" y="173.6">Eno1</text><text x="319.3" y="181.4">Rap1b</text><text x="311.3" y="180.6">Anxa1</text><text x="311.8" y="184.1">Hspa5</text><text x="320.8" y="193.9">Cap1</text><text x="320.7" y="184.3">Des</text><text x="322.5" y="179.6">Rps9</text><text x="319.3" y="183.5">Psmc2</text><text x="320.8" y="187.1">Actn4</text><text x="320.9" y="188.4">Tkt</text><text x="314.2" y="189.3">Cnn3</text><text x="313.8" y="182.2">Msn</text><text x="321.5" y="177.9">Cfl1</text><text x="321.8" y="190.2">Cat</text><text x="316.5" y="192.1">Fga</text><text x="314.9" y="182.2">Hspa5</text><text x="321.6" y="182.9">Des</text><text x="318.8" y="181.4">Tagln</text><text x="316.1" y="181.4">Prdx6</text><text x="322.0" y="185.1">Rap1b</text><text x="317.2" y="188.3">Eno1</text><text x="308.6" y="177.4">Capg</text><text x="321.4" y="182.4">Psmc5</text><text x="319.1" y="185.3">Anxa8</text><text x="319.4" y="184.3">Msn</text><text x="323.1" y="177.0">Eif3h</text><text x="319.6" y="182.7">Eif3e</text><text x="321.0" y="188.6">Myl6</text><text x="319.9" y="181.9">Rnls</text><text x="321.9" y="172.5">Fga</text><text x="324.8" y="186.2">Calr</text><text x="320.5" y="183.9">Tpm3</text><text x="318.3" y="181.3">Anxa3</text><text x="320.0" y="189.4">Gapdh</text><text x="315.0" y="178.1">Rnls</text><text x="306.0" y="181.4">Pdia3</text><text x="319.9" y="190.4">Rpl29</text><text x="329.2" y="186.0">Calr</text><text x="327.0" y="188.0">P4hb</text><text x="320.2" y="187.4">Rpl7a</text><text x="320.5" y="187.1">Krt8</text><text x="317.6" y="183.7">Pdia3</text><text x="320.7" y="188.7">Rpl4</text><text x="325.1" y="189.9">Tpm1</text><text x="321.3" y="180.1">Psmc5</text><text x="314.5" y="187.0">Hspa5</text><text x="318.7" y="183.1">Tagln</text><text x="319.4" y="190.1">Eif3h</text><text x="321.4" y="188.1">Myl6</text><text x="304.7" y="194.8">Ufm1</text><text x="322.2" y="188.0">Gapdh</text><text x="314.5" y="184.6">Hspa8</text><text x="316.6" y="182.5">Tln1</text><text x="315.3" y="189.5">Pgk1</text><text x="317.0" y="189.8">Ufm1</text><text x="317.4" y="190.4">Calr</text><text x="321.0" y="186.9">Lamb3</text><text x="314.7" y="184.3">Tpm1</text><text x="319.7" y="182.3">Capg</text><text x="318.3" y="188.5">Rpl29</text><text x="318.0" y="186.1">Eif3e</text><text x="312.2" y="183.6">Eif4h</text><text x="316.3" y="183.9">Rap1a</text><text x="317.1" y="181.5">Myh14</text><text x="311.8" y="182.8">Ufm1</text><text x="319.8" y="187.3">Gsn</text><text x="321.3" y="182.3">Canx</text><text x="315.0" y="190.8">Eif3h</text><text x="315.0" y="183.2">Acta2</text><text x="316.3" y="177.3">Fga</text><text x="323.4" y="191.0">Gapdh</text><text x="317.8" y="187.5">Eif4h</text><text x="322.5" y="187.3">Fgg</text><text x="326.1" y="184.0">Gsn</text><text x="314.0" y="189.1">Cndp2</text><text x="317.2" y="176.8">Rpl7a</text><text x="321.0" y="185.0">Ehd2</text><text x="316.7" y="189.9">Wdfy2</text><text x="323.4" y="184.1">Krt8</text><text x="321.3" y="179.3">Ywhab</text><text x="324.3" y="192.7">Ehd2</text><text x="317.2" y="182.5">Cd36</text><text x="318.7" y="182.3">Lmna</text><text x="313.1" y="188.1">Cat</text><text x="327.9" y="189.2">Prdx1</text><text x="314.4" y="174.2">Rab10</text><text x="316.3" y="193.3">Eif3h</text><text x="322.1" y="186.6">Capg</text><text x="306.3" y="176.9">Ldha</text><text x="316.1" y="189.9">Tln1</text><text x="309.9" y="188.3">Sod1</text><text x="319.8" y="193.7">Eif3e</text><text x="315.8" y="186.1">Flna</text><text x="310.7" y="194.7">Tkt</text><text x="327.9" y="186.0">Crip2</text><text x="314.2" y="178.5">Rap1b</text><text x="315.3" y="190.3">Anxa3</text><text x="310.9" y="184.8">Rpn1</text><text x="324.4" y="186.9">Lmna</text><text x="318.1" y="179.9">Crip2</text><text x="311.7" y="184.4">Gstm1</text><text x="318.0" y="180.0">Hspa8</text><text x="314.0" y="180.3">Hspa8</text><text x="319.4" y="182.0">Gsn</text><text x="319.1" y="181.7">Cnn3</text><text x="314.4" y="190.3">Rpl18</text><text x="318.3" y="186.4">Cnn3</text><text x="314.6" y="180.9">Map4</text><text x="322.4" y="185.2">Phb</text><text x="317.8" y="183.0">Rpn1</text><text x="323.3" y="187.3">Anxa1</text><text x="318.2" y="187.8">Eno1</text><text x="309.0" y="190.8">Crip2</text><text x="317.2" y="188.6">Prdx1</text><text x="306.0" y="187.7">Pdia3</text><text x="320.3" y="184.5">Ehd2</text><text x="314.0" y="182.6">P4hb</text><text x="309.7" y="184.9">P4hb</text><text x="312.2" y="185.7">Aldoa</text><text x="311.7" y="185.0">Ufm1</text><text x="325.7" y="182.4">Ctsd</text><text x="322.3" y="188.1">Acta2</text><text x="322.9" y="182.5">Map4</text><text x="313.6" y="186.2">Tpm1</text><text x="316.2" y="185.2">Myl6</text><text x="319.0" y="185.1">Fgg</text><text x="320.1" y="192.8">Cnn3</text><text x="311.1" y="191.5">Myh14</text><text x="323.1" y="184.1">Psmc5</text><text x="321.5" y="188.2">Des</text><text x="312.2" y="180.8">Tf</text><text x="316.5" y="189.9">Krt8</text><text x="318.9" y="187.2">Ezr</text><text x="319.7" y="187.5">Cd36</text><text x="314.1" y="187.1">Tkt</text><text x="318.9" y="185.0">Pgk1</text><text x="325.5" y="182.7">Ehd2</text><text x="310.2" y="187.8">Hspa5</text><text x="314.3" y="186.1">Canx</text><text x="312.5" y="187.9">Eif4h</text><text x="314.8" y="185.9">Pdia3</text><text x="313.5" y="183.9">Ywhab</text><text x="314.5" y="189.6">Anxa8</text><text x="320.3" y="186.4">Fga</text><text x="312.4" y="191.9">Pkm</text><text x="322.1" y="186.9">Gstm1</text><text x="318.6" y="181.0">Eif3e</text><text x="319.6" y="179.3">Rpl4</text><text x="324.2" y="186.7">Ctsd</text><text x="321.7" y="181.6">Tpi1</text><text x="318.8" y="185.4">Krt18</text><text x="318.8" y="180.7">Rps3a</text><text x="318.5" y="180.5">Prdx6</text><text x="317.4" y="189.1">Tpm3</text><text x="315.8" y="187.3">Gstm1</text><text x="311.1" y="193.8">Rpn1</text><text x="313.2" y="187.4">Prdx1</text><text x="315.7" y="185.3">Fmo1</text><text x="326.9" y="183.2">Actn4</text><text x="324.7" y="180.7">Actn4</text><text x="308.9" y="184.5">Cat</text><text x="320.4" y="187.4">Rap1a</text><text x="316.3" y="178.4">Tpi1</text><text x="316.7" y="187.1">Rpl7</text><text x="310.3" y="174.1">Rnls</text><text x="327.8" y="181.8">Rnls</text><text x="319.9" y="183.6">Gstm1</text><text x="318.6" y="188.7">Pgk1</text><text x="314.8" y="177.0">Psmc2</text><text x="322.8" y="182.7">Rps9</text><text x="318.7" y="180.9">Atp5b</text><text x="316.6" y="182.0">Actn4</text><text x="320.5" y="187.1">Aldoa</text><text x="313.9" y="183.0">Tf</text><text x="322.0" y="180.3">Anxa2</text><text x="315.1" y="188.5">Ehd2</text><text x="317.0" y="185.7">Calr</text><text x="316.5" y="178.6">Krt8</text><text x="323.5" y="186.3">Vcl</text><text x="318.3" y="178.5">Psmc2</text><text x="320.2" y="187.4">Hspb1</text><text x="315.8" y="181.1">Rap1a</text><text x="320.5" y="184.9">Krt18</text><text x="319.0" y="186.3">Aldoa</text><text x="315.4" y="178.4">Psmc2</text><text x="314.2" y="186.6">Wdfy2</text><text x="316.2" y="187.0">Actn4</text><text x="307.4" y="183.8">Ehd2</text><text x="308.9" y="181.6">Fgg</text><text x="322.1" y="180.8">Anxa1</text><text x="317.0" y="182.0">Ufm1</text><text x="318.0" y="187.2">Hspa8</text><text x="311.7" y="182.5">Prdx6</text><text x="317.5" y="187.1">Ctsd</text><text x="316.6" y="186.8">Gapdh</text><text x="314.0" y="190.9">Vcl</text><text x="323.9" y="186.6">Gsn</text><text x="321.4" y="188.3">Ahnak</text><text x="319.1" y="183.4">Ahnak</text><text x="313.3" y="182.0">Ahnak</text><text x="320.4" y="189.8">Pdia3</text><text x="309.6" y="180.2">Tpm3</text><text x="322.3" y="179.2">Lmna</text><text x="310.2" y="189.2">Cat</text><text x="314.6" y="187.3">Capg</text><text x="320.5" y="182.4">Myl6</text><text x="308.9" y="184.9">Hspb1</text><text x="317.5" y="191.9">Tagln</text><text x="312.9" y="188.5">Capg</text><text x="325.5" y="183.8">Rpl7a</text><text x="323.0" y="189.7">Anxa8</text><text x="334.6" y="179.9">Eif3h</text><text x="327.2" y="186.0">Tagln</text><text x="299.4" y="181.7">Rnls</text><text x="315.2" y="181.6">Ezr</text><text x="322.3" y="177.4">Aldoa</text><text x="315.5" y="185.5">Flna</text><text x="317.7" y="172.8">Ahnak</text><text x="333.4" y="181.5">Fmo1</text><text x="287.7" y="188.5">Pgk1</text><text x="318.2" y="178.4">Myh14</text><text x="305.7" y="197.5">Pgk1</text><text x="309.0" y="182.0">Calr</text><text x="331.1" y="187.5">Msn</text><text x="306.2" y="187.2">Cnn3</text><text x="321.8" y="187.0">Myh9</text><text x="315.9" y="190.1">Myh14</text><text x="316.6" y="174.6">Prdx1</text><text x="318.3" y="201.6">Tkt</text><text x="314.1" y="190.3">Des</text><text x="321.5" y="184.4">Cnn3</text><text x="321.7" y="189.0">Flna</text><text x="312.5" y="181.6">Sod1</text><text x="328.7" y="187.0">Crip2</text><text x="307.9" y="189.7">Ehd2</text><text x="310.0" y="181.8">Fmo1</text><text x="314.7" y="192.6">Gstm1</text><text x="304.6" y="185.4">Anxa8</text><text x="310.8" y="188.9">Lmna</text><text x="306.0" y="188.4">Krt8</text><text x="324.2" y="176.1">Anxa2</text><text x="308.4" y="177.5">Map4</text><text x="321.9" y="184.2">Myl6</text><text x="317.4" y="182.2">Crip2</text><text x="319.7" y="179.3">Cat</text><text x="330.4" y="190.7">Tkt</text><text x="307.6" y="188.4">Gstm1</text><text x="310.9" y="187.3">Anxa8</text><text x="304.1" y="187.9">Tpi1</text><text x="308.3" y="185.3">Anxa2</text><text x="314.3" y="188.0">Pfn1</text><text x="316.3" y="181.4">Pdia3</text><text x="309.5" y="191.8">Des</text><text x="316.3" y="181.7">Cat</text><text x="316.5" y="189.0">Fgg</text><text x="314.0" y="184.6">Psmc5</text><text x="318.4" y="187.3">Ezr</text><text x="317.0" y="191.0">Cat</text><text x="322.1" y="173.6">Fgg</text><text x="324.2" y="177.9">Myh9</text><text x="324.0" y="178.6">Prdx1</text><text x="318.8" y="186.5">Myh14</text><text x="310.3" y="184.4">Cfl1</text><text x="330.8" y="185.1">Anxa3</text><text x="326.6" y="179.7">Pdia3</text><text x="321.5" y="183.6">P4hb</text><text x="314.0" y="177.9">Rps3a</text><text x="309.6" y="182.7">Flna</text><text x="309.8" y="180.8">Lamb3</text><text x="311.8" y="177.5">Gstm1</text><text x="326.5" y="193.5">Anxa8</text><text x="329.7" y="183.9">Rpn1</text><text x="345.1" y="136.2">Mb</text><text x="315.1" y="148.9">Alb</text><text x="310.7" y="171.8">Col1a1</text><text x="292.7" y="175.1">Ces1d</text><text x="343.0" y="190.1">Fn1</text><text x="349.9" y="190.4">Actg2</text><text x="304.1" y="204.9">Hbb1</text><text x="291.4" y="207.9">Scgb1a1</text><text x="328.3" y="220.6">Anxa7</text><text x="270.5" y="233.6">Cbr2</text><text x="360.9" y="234.6">Vim</text><text x="295.9" y="188.3">Fgb</text><text x="330.9" y="174.4">Fga</text><text x="334.9" y="175.4">Fgg</text><text x="332.9" y="197.4">Hba-a1</text><text x="312.9" y="199.4">Col1a2</text><text x="300.9" y="181.9">Lamb3</text><text x="303.9" y="192.9">Sftpc</text></g>
<rect x="386.8" y="131.6" width="97.90" height="107.20" fill="#fff"/>
<path d="M397.4 131.6V238.8M410.2 131.6V238.8M422.4 131.6V238.8M435.1 131.6V238.8M447.8 131.6V238.8M460.5 131.6V238.8M473.0 131.6V238.8M386.8 148.0H484.7M386.8 172.9H484.7M386.8 197.6H484.7M386.8 222.5H484.7" stroke="#e9e9e9" stroke-width="0.5" fill="none" stroke-dasharray="0.6 0.5"/>
<rect x="386.8" y="131.6" width="97.90" height="107.20" fill="none" stroke="#c2c2c2" stroke-width="1.0"/>
<path d="M397.4 238.8v1.4" stroke="#555" stroke-width="0.45"/>
<text x="398.30" y="241.20" font-size="2.5" text-anchor="end" fill="#222" transform="rotate(-90 398.30 241.20)" stroke="#222" stroke-width="0.16">-0.6</text>
<path d="M410.2 238.8v1.4" stroke="#555" stroke-width="0.45"/>
<text x="411.10" y="241.20" font-size="2.5" text-anchor="end" fill="#222" transform="rotate(-90 411.10 241.20)" stroke="#222" stroke-width="0.16">-0.4</text>
<path d="M422.4 238.8v1.4" stroke="#555" stroke-width="0.45"/>
<text x="423.30" y="241.20" font-size="2.5" text-anchor="end" fill="#222" transform="rotate(-90 423.30 241.20)" stroke="#222" stroke-width="0.16">-0.2</text>
<path d="M435.1 238.8v1.4" stroke="#555" stroke-width="0.45"/>
<text x="436.00" y="241.20" font-size="2.5" text-anchor="end" fill="#222" transform="rotate(-90 436.00 241.20)" stroke="#222" stroke-width="0.16">0.0</text>
<path d="M447.8 238.8v1.4" stroke="#555" stroke-width="0.45"/>
<text x="448.70" y="241.20" font-size="2.5" text-anchor="end" fill="#222" transform="rotate(-90 448.70 241.20)" stroke="#222" stroke-width="0.16">0.2</text>
<path d="M460.5 238.8v1.4" stroke="#555" stroke-width="0.45"/>
<text x="461.40" y="241.20" font-size="2.5" text-anchor="end" fill="#222" transform="rotate(-90 461.40 241.20)" stroke="#222" stroke-width="0.16">0.4</text>
<path d="M473.0 238.8v1.4" stroke="#555" stroke-width="0.45"/>
<text x="473.90" y="241.20" font-size="2.5" text-anchor="end" fill="#222" transform="rotate(-90 473.90 241.20)" stroke="#222" stroke-width="0.16">0.6</text>
<path d="M386.8 148.0h-1.4" stroke="#555" stroke-width="0.45"/>
<text x="384.60" y="148.90" font-size="2.5" text-anchor="end" fill="#222" stroke="#222" stroke-width="0.16">0.2</text>
<path d="M386.8 172.9h-1.4" stroke="#555" stroke-width="0.45"/>
<text x="384.60" y="173.80" font-size="2.5" text-anchor="end" fill="#222" stroke="#222" stroke-width="0.16">0.0</text>
<path d="M386.8 197.6h-1.4" stroke="#555" stroke-width="0.45"/>
<text x="384.60" y="198.50" font-size="2.5" text-anchor="end" fill="#222" stroke="#222" stroke-width="0.16">-0.2</text>
<path d="M386.8 222.5h-1.4" stroke="#555" stroke-width="0.45"/>
<text x="384.60" y="223.40" font-size="2.5" text-anchor="end" fill="#222" stroke="#222" stroke-width="0.16">-0.4</text>
<text x="435.75" y="249.10" font-size="2.5" text-anchor="middle" fill="#222" stroke="#222" stroke-width="0.12">Loadings 1</text>
<text x="377.80" y="185.20" font-size="2.5" text-anchor="middle" fill="#222" transform="rotate(-90 377.80 185.20)" stroke="#222" stroke-width="0.12">Loadings 5</text>
<path d="M440.8 178.3h0M430.3 172.4h0M440.1 179.6h0M438.9 172.0h0M435.2 184.9h0M436.5 178.6h0M434.7 175.4h0M438.9 179.2h0M433.4 164.2h0M439.2 172.3h0M436.3 176.1h0M434.5 175.2h0M439.9 176.4h0M438.3 177.3h0M436.5 177.9h0M442.4 176.7h0M436.0 173.4h0M434.2 174.8h0M436.4 176.8h0M442.9 172.2h0M435.8 174.4h0M430.0 177.2h0M444.4 179.4h0M435.4 173.7h0M440.4 174.4h0M428.1 175.8h0M448.1 177.5h0M433.0 173.5h0M432.4 178.5h0M429.1 176.0h0M443.4 174.9h0M432.6 170.3h0M445.5 174.3h0M427.8 170.6h0M440.4 167.2h0M441.2 170.9h0M437.9 178.5h0M441.0 173.3h0M436.3 172.2h0M441.4 169.1h0M440.9 165.5h0M430.1 180.6h0M431.9 177.8h0M435.2 182.5h0M440.7 170.9h0M439.7 178.5h0M432.1 177.5h0M428.5 171.4h0M436.1 171.7h0M430.0 177.5h0M436.0 173.4h0M435.9 170.2h0M436.9 179.0h0M441.1 180.3h0M440.6 172.3h0M441.2 173.6h0M442.0 180.7h0M442.9 178.3h0M435.2 177.0h0M436.0 176.4h0M435.3 177.2h0M437.3 172.5h0M436.7 168.0h0M437.6 172.9h0M441.2 177.6h0M437.3 168.8h0M437.1 170.7h0M443.5 174.8h0M434.1 179.5h0M445.6 174.1h0M426.2 175.3h0M435.4 175.9h0M444.4 171.2h0M441.7 173.6h0M443.3 178.7h0M436.8 172.2h0M443.4 178.2h0M438.3 173.7h0M433.3 179.2h0M444.4 167.1h0M444.5 174.7h0M443.3 177.2h0M437.3 174.7h0M434.4 175.2h0M429.9 171.1h0M431.9 174.6h0M436.8 175.6h0M433.4 173.1h0M434.1 170.9h0M434.9 176.5h0M436.9 175.7h0M440.9 172.2h0M435.4 172.9h0M438.3 174.1h0M430.3 169.2h0M436.2 172.0h0M438.6 172.9h0M426.4 171.7h0M429.3 176.8h0M429.0 176.8h0M437.8 176.7h0M439.4 166.8h0M434.1 174.2h0M437.6 171.6h0M441.0 175.1h0M439.4 173.0h0M429.8 171.8h0M436.9 176.7h0M445.7 175.3h0M444.9 177.3h0M436.8 173.4h0M444.8 173.0h0M441.4 170.6h0M436.6 171.5h0M440.2 177.3h0M439.5 174.4h0M437.9 173.9h0M437.4 168.5h0M437.8 174.0h0M444.4 178.6h0M440.2 172.6h0M438.8 172.9h0M437.1 175.6h0M439.3 171.8h0M431.4 176.8h0M442.2 174.7h0M440.7 179.5h0M437.9 172.5h0M437.9 173.3h0M442.4 181.6h0M437.2 169.4h0M436.8 179.3h0M437.8 173.6h0M433.1 171.9h0M427.0 172.3h0M431.9 168.8h0M432.0 177.3h0M432.2 171.7h0M435.8 174.1h0M431.0 176.0h0M435.2 171.6h0M435.0 174.4h0M436.5 177.1h0M433.8 178.5h0M438.6 171.1h0M442.4 176.8h0M441.1 175.0h0M429.0 183.8h0M440.8 171.3h0M435.7 178.0h0M432.7 171.1h0M441.2 173.7h0M431.2 169.6h0M438.5 177.0h0M429.9 174.1h0M446.3 175.8h0M434.8 175.4h0M444.5 175.3h0M444.3 175.3h0M439.8 173.2h0M436.2 171.8h0M439.8 173.0h0M431.4 172.5h0M434.6 174.2h0M435.6 176.9h0M442.1 177.9h0M447.2 175.1h0M436.6 183.8h0M438.1 177.6h0M443.4 172.0h0M432.3 173.7h0M430.8 174.1h0M436.8 172.1h0M435.2 176.3h0M440.5 172.4h0M443.4 177.3h0M440.2 169.6h0M438.0 173.7h0M432.8 168.9h0M437.1 174.9h0M428.8 175.7h0M442.7 172.0h0M444.4 182.4h0M437.9 171.3h0M435.9 177.1h0M440.8 177.1h0M432.6 173.0h0M439.6 176.6h0M436.3 172.9h0M441.5 171.3h0M447.8 175.1h0M429.4 168.6h0M438.0 176.0h0M437.9 177.4h0M431.8 179.1h0M440.4 174.5h0M430.8 176.5h0M444.5 178.4h0M440.7 175.1h0M437.1 178.0h0M427.3 176.5h0M435.8 179.8h0M442.0 172.8h0M437.3 173.7h0M435.5 180.4h0M430.3 179.6h0M438.8 175.2h0M433.5 173.7h0M429.2 179.1h0M439.1 170.9h0M438.0 170.3h0M434.3 171.1h0M430.2 168.9h0M436.2 172.4h0M434.6 176.5h0M434.6 178.7h0M438.5 174.4h0M431.8 178.3h0M439.3 177.3h0M438.0 174.3h0M435.5 172.3h0M433.6 174.5h0M438.5 179.1h0M430.3 167.3h0M434.0 181.7h0M440.0 167.2h0M440.2 170.6h0M447.2 168.5h0M431.5 172.0h0M444.6 174.9h0M444.0 172.1h0M436.7 169.0h0M432.9 173.8h0M443.4 174.9h0M433.1 173.0h0M435.0 166.5h0M436.0 174.0h0M425.8 175.5h0M439.4 173.8h0M456.7 174.6h0M446.0 176.1h0M445.4 178.5h0M425.2 174.4h0M448.5 181.2h0M441.4 175.5h0M439.4 181.0h0M419.9 172.8h0M425.6 168.9h0M427.8 177.1h0M441.3 165.2h0M446.4 164.0h0M448.0 172.0h0M442.5 173.7h0M428.3 170.3h0M465.5 170.1h0M430.5 170.8h0M437.6 185.7h0M444.3 179.9h0M433.2 179.7h0M434.0 179.1h0M444.0 178.9h0M446.7 177.0h0M426.5 181.9h0M440.4 178.1h0M421.9 172.7h0M426.8 175.2h0M440.4 172.2h0M424.2 176.9h0M427.8 166.4h0M431.8 177.6h0M437.0 175.6h0M425.0 171.4h0M435.2 172.6h0M423.1 168.4h0M436.9 165.7h0M439.4 179.3h0M437.4 178.5h0M420.3 177.4h0M446.4 176.3h0M427.3 173.1h0M425.6 180.1h0M423.7 182.3h0M434.9 176.7h0M436.1 170.8h0M427.3 177.9h0M437.9 171.3h0M426.4 167.5h0M429.6 179.7h0M439.6 169.5h0M450.1 171.8h0M442.1 180.9h0M442.3 165.2h0M447.3 166.5h0M437.8 178.3h0M455.4 169.0h0M433.4 168.4h0M431.2 172.7h0M452.6 171.1h0M435.3 183.2h0M437.2 176.8h0M466.1 135.3h0M449.1 151.3h0M471.2 150.0h0M481.9 156.1h0M417.0 158.7h0M391.1 166.6h0M412.2 182.3h0M414.0 188.7h0M424.9 190.7h0M438.2 188.7h0M450.9 188.2h0M464.9 184.4h0M456.0 184.9h0M456.0 205.2h0M450.9 207.3h0M435.1 234.5h0M434.0 163.5h0M420.0 177.0h0M452.0 178.5h0" stroke="#ff2d8e" stroke-width="1.3" stroke-linecap="round" fill="none"/>
<g fill="#1c1cf2" stroke="#1c1cf2" stroke-width="0.09" font-size="2.6"><text x="441.7" y="179.2">Cnn3</text><text x="431.2" y="173.3">Rpn1</text><text x="441.0" y="180.5">Tpm1</text><text x="439.8" y="172.9">Eif4h</text><text x="436.1" y="185.8">Wdfy2</text><text x="437.4" y="179.5">Tagln</text><text x="435.6" y="176.3">Cap1</text><text x="439.8" y="180.1">Ahnak</text><text x="434.3" y="165.1">Ezr</text><text x="440.1" y="173.2">Pgk1</text><text x="437.2" y="177.0">Cnn3</text><text x="435.4" y="176.1">Hspb1</text><text x="440.8" y="177.3">Ahnak</text><text x="439.2" y="178.2">Krt18</text><text x="437.4" y="178.8">Eif3h</text><text x="443.3" y="177.6">Rap1a</text><text x="436.9" y="174.3">Eef1d</text><text x="435.1" y="175.7">Rap1a</text><text x="437.3" y="177.7">Rap1b</text><text x="443.8" y="173.1">Rpn1</text><text x="436.7" y="175.3">Tln1</text><text x="430.9" y="178.1">Tf</text><text x="445.3" y="180.3">Cat</text><text x="436.3" y="174.6">Myh14</text><text x="441.3" y="175.3">Actn4</text><text x="429.0" y="176.7">Prdx1</text><text x="449.0" y="178.4">Cndp2</text><text x="433.9" y="174.4">Pkm</text><text x="433.3" y="179.4">Cat</text><text x="430.0" y="176.9">Gstm1</text><text x="444.3" y="175.8">Des</text><text x="433.5" y="171.2">Gstm1</text><text x="446.4" y="175.2">Cndp2</text><text x="428.7" y="171.5">Des</text><text x="441.3" y="168.1">Crip2</text><text x="442.1" y="171.8">Rpl7a</text><text x="438.8" y="179.4">Rpl4</text><text x="441.9" y="174.2">Myh9</text><text x="437.2" y="173.1">Ufm1</text><text x="442.3" y="170.0">Rpl4</text><text x="441.8" y="166.4">Msn</text><text x="431.0" y="181.5">Anxa2</text><text x="432.8" y="178.7">Atp5b</text><text x="436.1" y="183.4">Prdx6</text><text x="441.6" y="171.8">Psmc2</text><text x="440.6" y="179.4">Rpl18</text><text x="433.0" y="178.4">Tpm3</text><text x="429.4" y="172.3">Cndp2</text><text x="437.0" y="172.6">Atp5b</text><text x="430.9" y="178.4">Rps9</text><text x="436.9" y="174.3">Ldha</text><text x="436.8" y="171.1">Lmna</text><text x="437.8" y="179.9">Eif4h</text><text x="442.0" y="181.2">Des</text><text x="441.5" y="173.2">Cat</text><text x="442.1" y="174.5">Prdx6</text><text x="442.9" y="181.6">Rab10</text><text x="443.8" y="179.2">Tkt</text><text x="436.1" y="177.9">Rpn1</text><text x="436.9" y="177.3">Prdx1</text><text x="436.2" y="178.1">Hspa5</text><text x="438.2" y="173.4">Ufm1</text><text x="437.6" y="168.9">Tf</text><text x="438.5" y="173.8">Cfl1</text><text x="442.1" y="178.5">Tln1</text><text x="438.2" y="169.7">Anxa3</text><text x="438.0" y="171.6">Vcl</text><text x="444.4" y="175.7">Tf</text><text x="435.0" y="180.4">Rnls</text><text x="446.5" y="175.0">Ctsd</text><text x="427.1" y="176.2">Rpn1</text><text x="436.3" y="176.8">Eif4h</text><text x="445.3" y="172.1">Rps3a</text><text x="442.6" y="174.5">P4hb</text><text x="444.2" y="179.6">Psmc2</text><text x="437.7" y="173.1">Rpl7</text><text x="444.3" y="179.1">Rap1a</text><text x="439.2" y="174.6">Anxa3</text><text x="434.2" y="180.1">Tpi1</text><text x="445.3" y="168.0">Pgk1</text><text x="445.4" y="175.6">Des</text><text x="444.2" y="178.1">Wdfy2</text><text x="438.2" y="175.6">Krt8</text><text x="435.3" y="176.1">Gstm1</text><text x="430.8" y="172.0">Capg</text><text x="432.8" y="175.5">Tpi1</text><text x="437.7" y="176.5">Krt8</text><text x="434.3" y="174.0">Sod1</text><text x="435.0" y="171.8">Rpl29</text><text x="435.8" y="177.4">Msn</text><text x="437.8" y="176.6">Ctsd</text><text x="441.8" y="173.1">Lalba</text><text x="436.3" y="173.8">Eif4h</text><text x="439.2" y="175.0">Rpl18</text><text x="431.2" y="170.1">Vcl</text><text x="437.1" y="172.9">Msn</text><text x="439.5" y="173.8">Eif4h</text><text x="427.3" y="172.6">Hspa8</text><text x="430.2" y="177.7">Psmc2</text><text x="429.9" y="177.7">Cat</text><text x="438.7" y="177.6">Aldoa</text><text x="440.3" y="167.7">P4hb</text><text x="435.0" y="175.1">Anxa8</text><text x="438.5" y="172.5">Eif3e</text><text x="441.9" y="176.0">Rpl18</text><text x="440.3" y="173.9">Phb</text><text x="430.7" y="172.7">Des</text><text x="437.8" y="177.6">Pfn1</text><text x="446.6" y="176.2">Hspb1</text><text x="445.8" y="178.2">Rpl18</text><text x="437.7" y="174.3">Pfn1</text><text x="445.7" y="173.9">Calr</text><text x="442.3" y="171.5">Rpl4</text><text x="437.5" y="172.4">Ezr</text><text x="441.1" y="178.2">Eef1d</text><text x="440.4" y="175.3">Rab10</text><text x="438.8" y="174.8">Gapdh</text><text x="438.3" y="169.4">Rps3a</text><text x="438.7" y="174.9">Ywhab</text><text x="445.3" y="179.5">Flna</text><text x="441.1" y="173.5">Hspa5</text><text x="439.7" y="173.8">Pgk1</text><text x="438.0" y="176.5">Tf</text><text x="440.2" y="172.7">Anxa2</text><text x="432.3" y="177.7">Ahnak</text><text x="443.1" y="175.6">Pfn1</text><text x="441.6" y="180.4">Gapdh</text><text x="438.8" y="173.4">Psmc2</text><text x="438.8" y="174.2">Myh9</text><text x="443.3" y="182.5">Rpl7a</text><text x="438.1" y="170.3">Psmc2</text><text x="437.7" y="180.2">Ywhab</text><text x="438.7" y="174.5">Ahnak</text><text x="434.0" y="172.8">Pdia3</text><text x="427.9" y="173.2">Rnls</text><text x="432.8" y="169.7">Actn4</text><text x="432.9" y="178.2">Lamb3</text><text x="433.1" y="172.6">Pfn1</text><text x="436.7" y="175.0">Cnn3</text><text x="431.9" y="176.9">Actn4</text><text x="436.1" y="172.5">Flna</text><text x="435.9" y="175.3">Rap1a</text><text x="437.4" y="178.0">Atp5b</text><text x="434.7" y="179.4">Eif4h</text><text x="439.5" y="172.0">Des</text><text x="443.3" y="177.7">Capg</text><text x="442.0" y="175.9">Anxa3</text><text x="429.9" y="184.7">Lamb3</text><text x="441.7" y="172.2">Anxa2</text><text x="436.6" y="178.9">Vcl</text><text x="433.6" y="172.0">Ctsd</text><text x="442.1" y="174.6">Rpl7a</text><text x="432.1" y="170.5">Anxa8</text><text x="439.4" y="177.9">Ezr</text><text x="430.8" y="175.0">Rap1b</text><text x="447.2" y="176.7">Pgk1</text><text x="435.7" y="176.3">Krt8</text><text x="445.4" y="176.2">Aldoa</text><text x="445.2" y="176.2">Rpl7a</text><text x="440.7" y="174.1">Calr</text><text x="437.1" y="172.7">Wdfy2</text><text x="440.7" y="173.9">Actn4</text><text x="432.3" y="173.4">Ldha</text><text x="435.5" y="175.1">Gstm1</text><text x="436.5" y="177.8">Tpm1</text><text x="443.0" y="178.8">Ctsd</text><text x="448.1" y="176.0">Krt8</text><text x="437.5" y="184.7">Atp5b</text><text x="439.0" y="178.5">Psmc5</text><text x="444.3" y="172.9">Pkm</text><text x="433.2" y="174.6">Gapdh</text><text x="431.7" y="175.0">Rpn1</text><text x="437.7" y="173.0">Rpn1</text><text x="436.1" y="177.2">Cap1</text><text x="441.4" y="173.3">Eno1</text><text x="444.3" y="178.2">Hspa5</text><text x="441.1" y="170.5">Pfn1</text><text x="438.9" y="174.6">Anxa1</text><text x="433.7" y="169.8">Ezr</text><text x="438.0" y="175.8">Psmc5</text><text x="429.7" y="176.6">Ezr</text><text x="443.6" y="172.9">Fgg</text><text x="445.3" y="183.3">Anxa3</text><text x="438.8" y="172.2">Pgk1</text><text x="436.8" y="178.0">Vcl</text><text x="441.7" y="178.0">Pfn1</text><text x="433.5" y="173.9">Rab10</text><text x="440.5" y="177.5">Tpm3</text><text x="437.2" y="173.8">Psmc5</text><text x="442.4" y="172.2">Map4</text><text x="448.7" y="176.0">Map4</text><text x="430.3" y="169.5">Tf</text><text x="438.9" y="176.9">Ezr</text><text x="438.8" y="178.3">Lamb3</text><text x="432.7" y="180.0">Hspa8</text><text x="441.3" y="175.4">Phb</text><text x="431.7" y="177.4">Eif3e</text><text x="445.4" y="179.3">Psmc2</text><text x="441.6" y="176.0">Rap1b</text><text x="438.0" y="178.9">Rnls</text><text x="428.2" y="177.4">Pgk1</text><text x="436.7" y="180.7">Eif4h</text><text x="442.9" y="173.7">Flna</text><text x="438.2" y="174.6">Capg</text><text x="436.4" y="181.3">Crip2</text><text x="431.2" y="180.5">Ehd2</text><text x="439.7" y="176.1">Myl6</text><text x="434.4" y="174.6">Fmo1</text><text x="430.1" y="180.0">Ufm1</text><text x="440.0" y="171.8">Eno1</text><text x="438.9" y="171.2">Des</text><text x="435.2" y="172.0">Rpl7a</text><text x="431.1" y="169.8">Eif3h</text><text x="437.1" y="173.3">Cnn3</text><text x="435.5" y="177.4">Rpl4</text><text x="435.5" y="179.6">Lalba</text><text x="439.4" y="175.3">Tkt</text><text x="432.7" y="179.2">Capg</text><text x="440.2" y="178.2">Capg</text><text x="438.9" y="175.2">Myh14</text><text x="436.4" y="173.2">Krt18</text><text x="434.5" y="175.4">Capg</text><text x="439.4" y="180.0">Wdfy2</text><text x="431.2" y="168.2">Rap1a</text><text x="434.9" y="182.6">Rap1a</text><text x="440.9" y="168.1">Msn</text><text x="441.1" y="171.5">Fgg</text><text x="448.1" y="169.4">Cd36</text><text x="432.4" y="172.9">Rpn1</text><text x="445.5" y="175.8">Anxa3</text><text x="444.9" y="173.0">Hspa5</text><text x="437.6" y="169.9">Flna</text><text x="433.8" y="174.7">Myl6</text><text x="444.3" y="175.8">Rpl4</text><text x="434.0" y="173.9">Ywhab</text><text x="435.9" y="167.4">Krt18</text><text x="436.9" y="174.9">Pgk1</text><text x="426.7" y="176.4">Atp5b</text><text x="440.3" y="174.7">Phb</text><text x="457.6" y="175.5">Fga</text><text x="446.9" y="177.0">Hspa8</text><text x="446.3" y="179.4">Tln1</text><text x="426.1" y="175.3">Cnn3</text><text x="449.4" y="182.1">Rpn1</text><text x="442.3" y="176.4">Wdfy2</text><text x="440.3" y="181.9">Ywhab</text><text x="420.8" y="173.7">Fmo1</text><text x="426.5" y="169.8">Rpn1</text><text x="428.7" y="178.0">Rap1b</text><text x="442.2" y="166.1">Ctsd</text><text x="447.3" y="164.9">Hspa8</text><text x="448.9" y="172.9">Tagln</text><text x="443.4" y="174.6">Cnn3</text><text x="429.2" y="171.2">Ehd2</text><text x="466.4" y="171.0">Ahnak</text><text x="431.4" y="171.7">Rpl7a</text><text x="438.5" y="186.6">Tln1</text><text x="445.2" y="180.8">Sod1</text><text x="434.1" y="180.6">Anxa3</text><text x="434.9" y="180.0">Acta2</text><text x="444.9" y="179.8">Fgg</text><text x="447.6" y="177.9">Krt8</text><text x="427.4" y="182.8">Ezr</text><text x="441.3" y="179.0">Pkm</text><text x="422.8" y="173.6">Gsn</text><text x="427.7" y="176.1">Krt18</text><text x="441.3" y="173.1">Ahnak</text><text x="425.1" y="177.8">Cnn3</text><text x="428.7" y="167.3">Eif3e</text><text x="432.7" y="178.5">Tpm3</text><text x="437.9" y="176.5">Crip2</text><text x="425.9" y="172.3">Eef1d</text><text x="436.1" y="173.5">Wdfy2</text><text x="424.0" y="169.3">Rpl4</text><text x="437.8" y="166.6">Cat</text><text x="440.3" y="180.2">Psmc2</text><text x="438.3" y="179.4">Ctsd</text><text x="421.2" y="178.3">Ctsd</text><text x="447.3" y="177.2">Prdx6</text><text x="428.2" y="174.0">Myl6</text><text x="426.5" y="181.0">Actn4</text><text x="424.6" y="183.2">Anxa1</text><text x="435.8" y="177.6">Canx</text><text x="437.0" y="171.7">Rpl7a</text><text x="428.2" y="178.8">Krt8</text><text x="438.8" y="172.2">Pkm</text><text x="427.3" y="168.4">Gstm1</text><text x="430.5" y="180.6">Fga</text><text x="440.5" y="170.4">Tpm1</text><text x="451.0" y="172.7">Fmo1</text><text x="443.0" y="181.8">Fmo1</text><text x="443.2" y="166.1">Rap1b</text><text x="448.2" y="167.4">Vcl</text><text x="438.7" y="179.2">Rpl7a</text><text x="456.3" y="169.9">Aldoa</text><text x="434.3" y="169.3">Canx</text><text x="432.1" y="173.6">Aldoa</text><text x="453.5" y="172.0">Capg</text><text x="436.2" y="184.1">Anxa3</text><text x="438.1" y="177.7">Pfn1</text><text x="467.0" y="136.2">Mb</text><text x="450.0" y="152.2">Anxa7</text><text x="472.1" y="150.9">Actg2</text><text x="482.8" y="157.0">Vim</text><text x="417.9" y="159.6">Fgb</text><text x="392.0" y="167.5">Cbr2</text><text x="413.1" y="183.2">Scgb1a1</text><text x="414.9" y="189.6">Ces1d</text><text x="425.8" y="191.6">Hbb1</text><text x="439.1" y="189.6">Anxa3</text><text x="451.8" y="189.1">Fgg</text><text x="465.8" y="185.3">Fn1</text><text x="456.9" y="185.8">Col1a2</text><text x="456.9" y="206.1">Fga</text><text x="451.8" y="208.2">Hba</text><text x="436.0" y="235.4">Col1a1</text><text x="434.9" y="164.4">Sftpc</text><text x="420.9" y="177.9">Lamb3</text><text x="452.9" y="179.4">Hbb-b1</text></g>
<text x="258.80" y="265.00" font-size="8.2" text-anchor="middle" fill="#1a1a1a" textLength="215.50" lengthAdjust="spacingAndGlyphs" stroke="#1a1a1a" stroke-width="0.22">Hierarchical Cluster Analysis with Heatmap visualization</text>
<text x="11.80" y="281.80" font-size="9" font-weight="bold" fill="#111">c</text>
<text x="265.40" y="280.30" font-size="9" fill="#111">d</text>
<rect x="94.5" y="273.8" width="7.8" height="8.1" fill="#19c4f4"/>
<text x="104.60" y="279.80" font-size="6.1" fill="#222" textLength="14.70" lengthAdjust="spacingAndGlyphs" stroke="#222" stroke-width="0.15">Saline</text>
<rect x="122.9" y="273.8" width="7.8" height="8.1" fill="#f2123f"/>
<text x="133.40" y="279.80" font-size="6.1" fill="#222" textLength="22.20" lengthAdjust="spacingAndGlyphs" stroke="#222" stroke-width="0.15">BLM 14d</text>
<rect x="167.1" y="273.8" width="7.8" height="8.1" fill="#1cb347"/>
<text x="178.50" y="279.80" font-size="6.1" fill="#222" textLength="22.40" lengthAdjust="spacingAndGlyphs" stroke="#222" stroke-width="0.15">BLM 21d</text>
<rect x="215.4" y="273.8" width="7.8" height="8.1" fill="#2b5fe0"/>
<text x="227.50" y="279.80" font-size="6.1" fill="#222" textLength="24.20" lengthAdjust="spacingAndGlyphs" stroke="#222" stroke-width="0.15">NINT 21d</text>
<rect x="309" y="273.8" width="7.8" height="8.1" fill="#58ee12"/>
<text x="319.10" y="279.80" font-size="6.1" fill="#222" textLength="10.50" lengthAdjust="spacingAndGlyphs" stroke="#222" stroke-width="0.15">Mild</text>
<rect x="336" y="274.6" width="7.8" height="8.1" fill="#ffa012"/>
<text x="347.10" y="279.80" font-size="6.1" fill="#222" textLength="24.80" lengthAdjust="spacingAndGlyphs" stroke="#222" stroke-width="0.15">Moderate</text>
<rect x="375" y="273.8" width="7.8" height="8.1" fill="#f63c0a"/>
<text x="386.50" y="279.80" font-size="6.1" fill="#222" textLength="17.10" lengthAdjust="spacingAndGlyphs" stroke="#222" stroke-width="0.15">Severe</text>
<defs><linearGradient id="cb" x1="0" y1="0" x2="0" y2="1"><stop offset="0" stop-color="#8c0a1e"/><stop offset="0.17" stop-color="#d42c27"/><stop offset="0.34" stop-color="#f4a582"/><stop offset="0.5" stop-color="#f3ece8"/><stop offset="0.66" stop-color="#92c5de"/><stop offset="0.83" stop-color="#2b7dbb"/><stop offset="1" stop-color="#07306b"/></linearGradient></defs>
<rect x="48.10" y="309.90" width="41.29" height="3.0" fill="#19c4f4"/>
<rect x="89.39" y="309.90" width="41.29" height="3.0" fill="#f2123f"/>
<rect x="130.68" y="309.90" width="8.26" height="3.0" fill="#1cb347"/>
<rect x="138.94" y="309.90" width="33.03" height="3.0" fill="#2b5fe0"/>
<rect x="171.97" y="309.90" width="33.03" height="3.0" fill="#1cb347"/>
<path fill="#1263a8" d="M114.2 337.1h8.26v3.80h-8.26zM114.2 344.7h8.26v3.80h-8.26zM56.4 363.7h8.26v3.80h-8.26zM64.6 378.9h8.26v3.80h-8.26zM56.4 477.7h8.26v3.80h-8.26z"/>
<path fill="#2f8dc6" d="M114.2 340.9h8.26v3.80h-8.26zM56.4 356.1h8.26v3.80h-8.26zM56.4 359.9h8.26v3.80h-8.26zM56.4 367.5h8.26v3.80h-8.26zM64.6 367.5h8.26v3.80h-8.26zM81.1 371.3h8.26v3.80h-8.26zM56.4 375.1h8.26v3.80h-8.26zM172.0 386.5h8.26v3.80h-8.26zM172.0 397.9h8.26v3.80h-8.26zM64.6 409.3h8.26v3.80h-8.26zM72.9 409.3h8.26v3.80h-8.26zM56.4 481.5h8.26v3.80h-8.26zM48.1 489.1h8.26v3.80h-8.26zM56.4 489.1h8.26v3.80h-8.26zM56.4 496.7h8.26v3.80h-8.26z"/>
<path fill="#5eb2d9" d="M122.4 314.3h8.26v3.80h-8.26zM114.2 318.1h8.26v3.80h-8.26zM114.2 321.9h8.26v3.80h-8.26zM172.0 325.7h8.26v3.80h-8.26zM172.0 329.5h8.26v3.80h-8.26zM105.9 333.3h8.26v3.80h-8.26zM122.4 333.3h8.26v3.80h-8.26zM97.6 340.9h8.26v3.80h-8.26zM64.6 356.1h8.26v3.80h-8.26zM64.6 363.7h8.26v3.80h-8.26zM72.9 363.7h8.26v3.80h-8.26zM72.9 367.5h8.26v3.80h-8.26zM56.4 371.3h8.26v3.80h-8.26zM64.6 371.3h8.26v3.80h-8.26zM72.9 371.3h8.26v3.80h-8.26zM64.6 375.1h8.26v3.80h-8.26zM72.9 375.1h8.26v3.80h-8.26zM56.4 378.9h8.26v3.80h-8.26zM72.9 378.9h8.26v3.80h-8.26zM48.1 382.7h8.26v3.80h-8.26zM72.9 382.7h8.26v3.80h-8.26zM172.0 382.7h8.26v3.80h-8.26zM64.6 386.5h8.26v3.80h-8.26zM64.6 390.3h8.26v3.80h-8.26zM48.1 394.1h8.26v3.80h-8.26zM56.4 394.1h8.26v3.80h-8.26zM72.9 394.1h8.26v3.80h-8.26zM64.6 397.9h8.26v3.80h-8.26zM64.6 401.7h8.26v3.80h-8.26zM64.6 405.5h8.26v3.80h-8.26zM64.6 413.1h8.26v3.80h-8.26zM72.9 413.1h8.26v3.80h-8.26zM56.4 420.7h8.26v3.80h-8.26zM56.4 428.3h8.26v3.80h-8.26zM72.9 428.3h8.26v3.80h-8.26zM56.4 432.1h8.26v3.80h-8.26zM72.9 432.1h8.26v3.80h-8.26zM172.0 432.1h8.26v3.80h-8.26zM97.6 435.9h8.26v3.80h-8.26zM105.9 435.9h8.26v3.80h-8.26zM114.2 435.9h8.26v3.80h-8.26zM130.7 435.9h8.26v3.80h-8.26zM64.6 439.7h8.26v3.80h-8.26zM114.2 439.7h8.26v3.80h-8.26zM114.2 443.5h8.26v3.80h-8.26zM114.2 447.3h8.26v3.80h-8.26zM122.4 447.3h8.26v3.80h-8.26zM130.7 447.3h8.26v3.80h-8.26zM114.2 451.1h8.26v3.80h-8.26zM48.1 454.9h8.26v3.80h-8.26zM97.6 454.9h8.26v3.80h-8.26zM172.0 462.5h8.26v3.80h-8.26zM97.6 470.1h8.26v3.80h-8.26zM56.4 473.9h8.26v3.80h-8.26zM72.9 473.9h8.26v3.80h-8.26zM81.1 477.7h8.26v3.80h-8.26zM48.1 485.3h8.26v3.80h-8.26zM56.4 485.3h8.26v3.80h-8.26zM172.0 485.3h8.26v3.80h-8.26zM64.6 489.1h8.26v3.80h-8.26zM56.4 492.9h8.26v3.80h-8.26zM56.4 500.5h8.26v3.80h-8.26zM64.6 500.5h8.26v3.80h-8.26z"/>
<path fill="#97cde5" d="M105.9 314.3h8.26v3.80h-8.26zM114.2 314.3h8.26v3.80h-8.26zM130.7 314.3h8.26v3.80h-8.26zM172.0 314.3h8.26v3.80h-8.26zM196.7 314.3h8.26v3.80h-8.26zM97.6 318.1h8.26v3.80h-8.26zM122.4 318.1h8.26v3.80h-8.26zM130.7 318.1h8.26v3.80h-8.26zM196.7 318.1h8.26v3.80h-8.26zM105.9 321.9h8.26v3.80h-8.26zM122.4 321.9h8.26v3.80h-8.26zM130.7 321.9h8.26v3.80h-8.26zM180.2 321.9h8.26v3.80h-8.26zM196.7 321.9h8.26v3.80h-8.26zM105.9 325.7h8.26v3.80h-8.26zM114.2 325.7h8.26v3.80h-8.26zM122.4 325.7h8.26v3.80h-8.26zM130.7 325.7h8.26v3.80h-8.26zM196.7 325.7h8.26v3.80h-8.26zM89.4 329.5h8.26v3.80h-8.26zM122.4 329.5h8.26v3.80h-8.26zM138.9 329.5h8.26v3.80h-8.26zM147.2 329.5h8.26v3.80h-8.26zM155.5 329.5h8.26v3.80h-8.26zM163.7 329.5h8.26v3.80h-8.26zM188.5 329.5h8.26v3.80h-8.26zM196.7 329.5h8.26v3.80h-8.26zM138.9 333.3h8.26v3.80h-8.26zM172.0 333.3h8.26v3.80h-8.26zM188.5 333.3h8.26v3.80h-8.26zM196.7 333.3h8.26v3.80h-8.26zM89.4 337.1h8.26v3.80h-8.26zM97.6 337.1h8.26v3.80h-8.26zM105.9 337.1h8.26v3.80h-8.26zM122.4 337.1h8.26v3.80h-8.26zM89.4 340.9h8.26v3.80h-8.26zM130.7 340.9h8.26v3.80h-8.26zM97.6 344.7h8.26v3.80h-8.26zM105.9 344.7h8.26v3.80h-8.26zM122.4 344.7h8.26v3.80h-8.26zM155.5 344.7h8.26v3.80h-8.26zM105.9 348.5h8.26v3.80h-8.26zM114.2 348.5h8.26v3.80h-8.26zM122.4 348.5h8.26v3.80h-8.26zM130.7 348.5h8.26v3.80h-8.26zM105.9 352.3h8.26v3.80h-8.26zM114.2 352.3h8.26v3.80h-8.26zM122.4 352.3h8.26v3.80h-8.26zM130.7 352.3h8.26v3.80h-8.26zM172.0 352.3h8.26v3.80h-8.26zM48.1 356.1h8.26v3.80h-8.26zM72.9 356.1h8.26v3.80h-8.26zM81.1 356.1h8.26v3.80h-8.26zM163.7 356.1h8.26v3.80h-8.26zM172.0 356.1h8.26v3.80h-8.26zM64.6 359.9h8.26v3.80h-8.26zM72.9 359.9h8.26v3.80h-8.26zM81.1 363.7h8.26v3.80h-8.26zM147.2 363.7h8.26v3.80h-8.26zM172.0 363.7h8.26v3.80h-8.26zM172.0 367.5h8.26v3.80h-8.26zM48.1 371.3h8.26v3.80h-8.26zM81.1 375.1h8.26v3.80h-8.26zM114.2 375.1h8.26v3.80h-8.26zM172.0 375.1h8.26v3.80h-8.26zM81.1 378.9h8.26v3.80h-8.26zM172.0 378.9h8.26v3.80h-8.26zM56.4 382.7h8.26v3.80h-8.26zM81.1 382.7h8.26v3.80h-8.26zM48.1 386.5h8.26v3.80h-8.26zM56.4 386.5h8.26v3.80h-8.26zM72.9 386.5h8.26v3.80h-8.26zM180.2 386.5h8.26v3.80h-8.26zM196.7 386.5h8.26v3.80h-8.26zM48.1 390.3h8.26v3.80h-8.26zM56.4 390.3h8.26v3.80h-8.26zM72.9 390.3h8.26v3.80h-8.26zM81.1 390.3h8.26v3.80h-8.26zM130.7 390.3h8.26v3.80h-8.26zM172.0 390.3h8.26v3.80h-8.26zM196.7 390.3h8.26v3.80h-8.26zM81.1 394.1h8.26v3.80h-8.26zM172.0 394.1h8.26v3.80h-8.26zM56.4 397.9h8.26v3.80h-8.26zM81.1 397.9h8.26v3.80h-8.26zM147.2 397.9h8.26v3.80h-8.26zM48.1 401.7h8.26v3.80h-8.26zM56.4 401.7h8.26v3.80h-8.26zM72.9 401.7h8.26v3.80h-8.26zM81.1 401.7h8.26v3.80h-8.26zM147.2 401.7h8.26v3.80h-8.26zM172.0 401.7h8.26v3.80h-8.26zM56.4 405.5h8.26v3.80h-8.26zM72.9 405.5h8.26v3.80h-8.26zM81.1 405.5h8.26v3.80h-8.26zM147.2 405.5h8.26v3.80h-8.26zM172.0 405.5h8.26v3.80h-8.26zM48.1 409.3h8.26v3.80h-8.26zM172.0 409.3h8.26v3.80h-8.26zM48.1 413.1h8.26v3.80h-8.26zM56.4 413.1h8.26v3.80h-8.26zM81.1 413.1h8.26v3.80h-8.26zM172.0 413.1h8.26v3.80h-8.26zM56.4 416.9h8.26v3.80h-8.26zM64.6 416.9h8.26v3.80h-8.26zM72.9 416.9h8.26v3.80h-8.26zM81.1 416.9h8.26v3.80h-8.26zM172.0 416.9h8.26v3.80h-8.26zM48.1 420.7h8.26v3.80h-8.26zM64.6 420.7h8.26v3.80h-8.26zM72.9 420.7h8.26v3.80h-8.26zM81.1 420.7h8.26v3.80h-8.26zM172.0 420.7h8.26v3.80h-8.26zM48.1 424.5h8.26v3.80h-8.26zM56.4 424.5h8.26v3.80h-8.26zM64.6 424.5h8.26v3.80h-8.26zM72.9 424.5h8.26v3.80h-8.26zM81.1 424.5h8.26v3.80h-8.26zM172.0 424.5h8.26v3.80h-8.26zM48.1 428.3h8.26v3.80h-8.26zM64.6 428.3h8.26v3.80h-8.26zM81.1 428.3h8.26v3.80h-8.26zM196.7 428.3h8.26v3.80h-8.26zM64.6 432.1h8.26v3.80h-8.26zM81.1 432.1h8.26v3.80h-8.26zM122.4 435.9h8.26v3.80h-8.26zM196.7 435.9h8.26v3.80h-8.26zM56.4 439.7h8.26v3.80h-8.26zM72.9 439.7h8.26v3.80h-8.26zM81.1 439.7h8.26v3.80h-8.26zM97.6 439.7h8.26v3.80h-8.26zM122.4 439.7h8.26v3.80h-8.26zM130.7 439.7h8.26v3.80h-8.26zM72.9 443.5h8.26v3.80h-8.26zM81.1 443.5h8.26v3.80h-8.26zM97.6 443.5h8.26v3.80h-8.26zM130.7 443.5h8.26v3.80h-8.26zM196.7 443.5h8.26v3.80h-8.26zM72.9 447.3h8.26v3.80h-8.26zM81.1 447.3h8.26v3.80h-8.26zM97.6 447.3h8.26v3.80h-8.26zM105.9 447.3h8.26v3.80h-8.26zM172.0 447.3h8.26v3.80h-8.26zM97.6 451.1h8.26v3.80h-8.26zM105.9 451.1h8.26v3.80h-8.26zM122.4 451.1h8.26v3.80h-8.26zM130.7 451.1h8.26v3.80h-8.26zM172.0 451.1h8.26v3.80h-8.26zM56.4 454.9h8.26v3.80h-8.26zM64.6 454.9h8.26v3.80h-8.26zM72.9 454.9h8.26v3.80h-8.26zM196.7 454.9h8.26v3.80h-8.26zM56.4 458.7h8.26v3.80h-8.26zM64.6 458.7h8.26v3.80h-8.26zM89.4 458.7h8.26v3.80h-8.26zM97.6 458.7h8.26v3.80h-8.26zM114.2 458.7h8.26v3.80h-8.26zM48.1 462.5h8.26v3.80h-8.26zM56.4 462.5h8.26v3.80h-8.26zM64.6 462.5h8.26v3.80h-8.26zM81.1 462.5h8.26v3.80h-8.26zM89.4 462.5h8.26v3.80h-8.26zM97.6 462.5h8.26v3.80h-8.26zM48.1 466.3h8.26v3.80h-8.26zM56.4 466.3h8.26v3.80h-8.26zM64.6 466.3h8.26v3.80h-8.26zM72.9 466.3h8.26v3.80h-8.26zM81.1 466.3h8.26v3.80h-8.26zM89.4 466.3h8.26v3.80h-8.26zM97.6 466.3h8.26v3.80h-8.26zM114.2 466.3h8.26v3.80h-8.26zM122.4 466.3h8.26v3.80h-8.26zM172.0 466.3h8.26v3.80h-8.26zM48.1 470.1h8.26v3.80h-8.26zM56.4 470.1h8.26v3.80h-8.26zM64.6 470.1h8.26v3.80h-8.26zM81.1 470.1h8.26v3.80h-8.26zM114.2 470.1h8.26v3.80h-8.26zM81.1 473.9h8.26v3.80h-8.26zM114.2 473.9h8.26v3.80h-8.26zM48.1 477.7h8.26v3.80h-8.26zM64.6 477.7h8.26v3.80h-8.26zM72.9 477.7h8.26v3.80h-8.26zM114.2 477.7h8.26v3.80h-8.26zM48.1 481.5h8.26v3.80h-8.26zM64.6 481.5h8.26v3.80h-8.26zM97.6 481.5h8.26v3.80h-8.26zM105.9 481.5h8.26v3.80h-8.26zM114.2 481.5h8.26v3.80h-8.26zM172.0 481.5h8.26v3.80h-8.26zM64.6 485.3h8.26v3.80h-8.26zM72.9 485.3h8.26v3.80h-8.26zM114.2 485.3h8.26v3.80h-8.26zM72.9 489.1h8.26v3.80h-8.26zM81.1 489.1h8.26v3.80h-8.26zM48.1 492.9h8.26v3.80h-8.26zM64.6 492.9h8.26v3.80h-8.26zM72.9 492.9h8.26v3.80h-8.26zM81.1 492.9h8.26v3.80h-8.26zM172.0 492.9h8.26v3.80h-8.26zM48.1 496.7h8.26v3.80h-8.26zM64.6 496.7h8.26v3.80h-8.26zM81.1 496.7h8.26v3.80h-8.26zM172.0 496.7h8.26v3.80h-8.26zM48.1 500.5h8.26v3.80h-8.26zM72.9 500.5h8.26v3.80h-8.26zM81.1 500.5h8.26v3.80h-8.26zM172.0 500.5h8.26v3.80h-8.26z"/>
<path fill="#cfe4ef" d="M89.4 314.3h8.26v3.80h-8.26zM97.6 314.3h8.26v3.80h-8.26zM163.7 314.3h8.26v3.80h-8.26zM188.5 314.3h8.26v3.80h-8.26zM105.9 318.1h8.26v3.80h-8.26zM147.2 318.1h8.26v3.80h-8.26zM163.7 318.1h8.26v3.80h-8.26zM172.0 318.1h8.26v3.80h-8.26zM188.5 318.1h8.26v3.80h-8.26zM97.6 321.9h8.26v3.80h-8.26zM138.9 321.9h8.26v3.80h-8.26zM147.2 321.9h8.26v3.80h-8.26zM155.5 321.9h8.26v3.80h-8.26zM163.7 321.9h8.26v3.80h-8.26zM172.0 321.9h8.26v3.80h-8.26zM188.5 321.9h8.26v3.80h-8.26zM56.4 325.7h8.26v3.80h-8.26zM89.4 325.7h8.26v3.80h-8.26zM97.6 325.7h8.26v3.80h-8.26zM138.9 325.7h8.26v3.80h-8.26zM147.2 325.7h8.26v3.80h-8.26zM155.5 325.7h8.26v3.80h-8.26zM163.7 325.7h8.26v3.80h-8.26zM188.5 325.7h8.26v3.80h-8.26zM105.9 329.5h8.26v3.80h-8.26zM89.4 333.3h8.26v3.80h-8.26zM97.6 333.3h8.26v3.80h-8.26zM147.2 333.3h8.26v3.80h-8.26zM155.5 333.3h8.26v3.80h-8.26zM163.7 333.3h8.26v3.80h-8.26zM48.1 337.1h8.26v3.80h-8.26zM130.7 337.1h8.26v3.80h-8.26zM172.0 337.1h8.26v3.80h-8.26zM180.2 337.1h8.26v3.80h-8.26zM196.7 337.1h8.26v3.80h-8.26zM105.9 340.9h8.26v3.80h-8.26zM147.2 340.9h8.26v3.80h-8.26zM172.0 340.9h8.26v3.80h-8.26zM180.2 340.9h8.26v3.80h-8.26zM89.4 344.7h8.26v3.80h-8.26zM138.9 344.7h8.26v3.80h-8.26zM147.2 344.7h8.26v3.80h-8.26zM163.7 344.7h8.26v3.80h-8.26zM172.0 344.7h8.26v3.80h-8.26zM180.2 344.7h8.26v3.80h-8.26zM196.7 344.7h8.26v3.80h-8.26zM89.4 348.5h8.26v3.80h-8.26zM97.6 348.5h8.26v3.80h-8.26zM138.9 348.5h8.26v3.80h-8.26zM147.2 348.5h8.26v3.80h-8.26zM163.7 348.5h8.26v3.80h-8.26zM172.0 348.5h8.26v3.80h-8.26zM196.7 348.5h8.26v3.80h-8.26zM97.6 352.3h8.26v3.80h-8.26zM138.9 352.3h8.26v3.80h-8.26zM147.2 352.3h8.26v3.80h-8.26zM155.5 352.3h8.26v3.80h-8.26zM163.7 352.3h8.26v3.80h-8.26zM196.7 352.3h8.26v3.80h-8.26zM48.1 359.9h8.26v3.80h-8.26zM172.0 359.9h8.26v3.80h-8.26zM48.1 363.7h8.26v3.80h-8.26zM81.1 367.5h8.26v3.80h-8.26zM114.2 371.3h8.26v3.80h-8.26zM48.1 375.1h8.26v3.80h-8.26zM138.9 378.9h8.26v3.80h-8.26zM147.2 378.9h8.26v3.80h-8.26zM180.2 382.7h8.26v3.80h-8.26zM81.1 386.5h8.26v3.80h-8.26zM105.9 390.3h8.26v3.80h-8.26zM180.2 390.3h8.26v3.80h-8.26zM188.5 390.3h8.26v3.80h-8.26zM122.4 394.1h8.26v3.80h-8.26zM196.7 394.1h8.26v3.80h-8.26zM72.9 397.9h8.26v3.80h-8.26zM138.9 397.9h8.26v3.80h-8.26zM155.5 397.9h8.26v3.80h-8.26zM163.7 397.9h8.26v3.80h-8.26zM196.7 397.9h8.26v3.80h-8.26zM138.9 401.7h8.26v3.80h-8.26zM163.7 401.7h8.26v3.80h-8.26zM196.7 401.7h8.26v3.80h-8.26zM48.1 405.5h8.26v3.80h-8.26zM138.9 405.5h8.26v3.80h-8.26zM155.5 405.5h8.26v3.80h-8.26zM163.7 405.5h8.26v3.80h-8.26zM180.2 405.5h8.26v3.80h-8.26zM196.7 405.5h8.26v3.80h-8.26zM147.2 409.3h8.26v3.80h-8.26zM155.5 409.3h8.26v3.80h-8.26zM163.7 409.3h8.26v3.80h-8.26zM196.7 409.3h8.26v3.80h-8.26zM147.2 413.1h8.26v3.80h-8.26zM155.5 413.1h8.26v3.80h-8.26zM180.2 413.1h8.26v3.80h-8.26zM196.7 413.1h8.26v3.80h-8.26zM48.1 416.9h8.26v3.80h-8.26zM147.2 416.9h8.26v3.80h-8.26zM196.7 416.9h8.26v3.80h-8.26zM147.2 420.7h8.26v3.80h-8.26zM196.7 420.7h8.26v3.80h-8.26zM147.2 424.5h8.26v3.80h-8.26zM155.5 424.5h8.26v3.80h-8.26zM196.7 424.5h8.26v3.80h-8.26zM138.9 428.3h8.26v3.80h-8.26zM172.0 428.3h8.26v3.80h-8.26zM48.1 432.1h8.26v3.80h-8.26zM147.2 432.1h8.26v3.80h-8.26zM196.7 432.1h8.26v3.80h-8.26zM89.4 435.9h8.26v3.80h-8.26zM172.0 435.9h8.26v3.80h-8.26zM48.1 439.7h8.26v3.80h-8.26zM105.9 439.7h8.26v3.80h-8.26zM48.1 443.5h8.26v3.80h-8.26zM64.6 443.5h8.26v3.80h-8.26zM89.4 443.5h8.26v3.80h-8.26zM105.9 443.5h8.26v3.80h-8.26zM122.4 443.5h8.26v3.80h-8.26zM172.0 443.5h8.26v3.80h-8.26zM180.2 443.5h8.26v3.80h-8.26zM188.5 443.5h8.26v3.80h-8.26zM64.6 447.3h8.26v3.80h-8.26zM89.4 447.3h8.26v3.80h-8.26zM180.2 447.3h8.26v3.80h-8.26zM196.7 447.3h8.26v3.80h-8.26zM81.1 451.1h8.26v3.80h-8.26zM180.2 451.1h8.26v3.80h-8.26zM196.7 451.1h8.26v3.80h-8.26zM89.4 454.9h8.26v3.80h-8.26zM114.2 454.9h8.26v3.80h-8.26zM172.0 454.9h8.26v3.80h-8.26zM48.1 458.7h8.26v3.80h-8.26zM72.9 458.7h8.26v3.80h-8.26zM81.1 458.7h8.26v3.80h-8.26zM188.5 458.7h8.26v3.80h-8.26zM196.7 458.7h8.26v3.80h-8.26zM72.9 462.5h8.26v3.80h-8.26zM114.2 462.5h8.26v3.80h-8.26zM122.4 462.5h8.26v3.80h-8.26zM130.7 462.5h8.26v3.80h-8.26zM196.7 462.5h8.26v3.80h-8.26zM105.9 466.3h8.26v3.80h-8.26zM180.2 466.3h8.26v3.80h-8.26zM72.9 470.1h8.26v3.80h-8.26zM89.4 470.1h8.26v3.80h-8.26zM122.4 470.1h8.26v3.80h-8.26zM172.0 470.1h8.26v3.80h-8.26zM196.7 470.1h8.26v3.80h-8.26zM48.1 473.9h8.26v3.80h-8.26zM64.6 473.9h8.26v3.80h-8.26zM105.9 473.9h8.26v3.80h-8.26zM172.0 473.9h8.26v3.80h-8.26zM196.7 473.9h8.26v3.80h-8.26zM122.4 477.7h8.26v3.80h-8.26zM81.1 481.5h8.26v3.80h-8.26zM188.5 481.5h8.26v3.80h-8.26zM196.7 481.5h8.26v3.80h-8.26zM81.1 485.3h8.26v3.80h-8.26zM130.7 485.3h8.26v3.80h-8.26zM180.2 485.3h8.26v3.80h-8.26zM188.5 485.3h8.26v3.80h-8.26zM196.7 485.3h8.26v3.80h-8.26zM97.6 489.1h8.26v3.80h-8.26zM97.6 492.9h8.26v3.80h-8.26zM72.9 496.7h8.26v3.80h-8.26z"/>
<path fill="#f7ede6" d="M138.9 314.3h8.26v3.80h-8.26zM147.2 314.3h8.26v3.80h-8.26zM180.2 314.3h8.26v3.80h-8.26zM89.4 318.1h8.26v3.80h-8.26zM138.9 318.1h8.26v3.80h-8.26zM89.4 321.9h8.26v3.80h-8.26zM130.7 329.5h8.26v3.80h-8.26zM64.6 333.3h8.26v3.80h-8.26zM130.7 333.3h8.26v3.80h-8.26zM122.4 340.9h8.26v3.80h-8.26zM138.9 340.9h8.26v3.80h-8.26zM196.7 340.9h8.26v3.80h-8.26zM130.7 344.7h8.26v3.80h-8.26zM155.5 348.5h8.26v3.80h-8.26zM188.5 348.5h8.26v3.80h-8.26zM89.4 352.3h8.26v3.80h-8.26zM114.2 356.1h8.26v3.80h-8.26zM130.7 356.1h8.26v3.80h-8.26zM147.2 356.1h8.26v3.80h-8.26zM196.7 356.1h8.26v3.80h-8.26zM81.1 359.9h8.26v3.80h-8.26zM130.7 359.9h8.26v3.80h-8.26zM138.9 359.9h8.26v3.80h-8.26zM147.2 359.9h8.26v3.80h-8.26zM196.7 359.9h8.26v3.80h-8.26zM196.7 363.7h8.26v3.80h-8.26zM48.1 367.5h8.26v3.80h-8.26zM130.7 367.5h8.26v3.80h-8.26zM196.7 367.5h8.26v3.80h-8.26zM172.0 371.3h8.26v3.80h-8.26zM196.7 375.1h8.26v3.80h-8.26zM48.1 378.9h8.26v3.80h-8.26zM196.7 378.9h8.26v3.80h-8.26zM64.6 382.7h8.26v3.80h-8.26zM105.9 382.7h8.26v3.80h-8.26zM138.9 382.7h8.26v3.80h-8.26zM147.2 382.7h8.26v3.80h-8.26zM155.5 382.7h8.26v3.80h-8.26zM196.7 382.7h8.26v3.80h-8.26zM138.9 386.5h8.26v3.80h-8.26zM122.4 390.3h8.26v3.80h-8.26zM163.7 390.3h8.26v3.80h-8.26zM64.6 394.1h8.26v3.80h-8.26zM48.1 397.9h8.26v3.80h-8.26zM130.7 397.9h8.26v3.80h-8.26zM155.5 401.7h8.26v3.80h-8.26zM188.5 405.5h8.26v3.80h-8.26zM56.4 409.3h8.26v3.80h-8.26zM81.1 409.3h8.26v3.80h-8.26zM138.9 409.3h8.26v3.80h-8.26zM180.2 409.3h8.26v3.80h-8.26zM105.9 413.1h8.26v3.80h-8.26zM138.9 413.1h8.26v3.80h-8.26zM138.9 416.9h8.26v3.80h-8.26zM155.5 416.9h8.26v3.80h-8.26zM138.9 420.7h8.26v3.80h-8.26zM155.5 420.7h8.26v3.80h-8.26zM163.7 424.5h8.26v3.80h-8.26zM180.2 424.5h8.26v3.80h-8.26zM188.5 424.5h8.26v3.80h-8.26zM147.2 428.3h8.26v3.80h-8.26zM180.2 428.3h8.26v3.80h-8.26zM138.9 432.1h8.26v3.80h-8.26zM155.5 432.1h8.26v3.80h-8.26zM163.7 432.1h8.26v3.80h-8.26zM180.2 432.1h8.26v3.80h-8.26zM188.5 432.1h8.26v3.80h-8.26zM89.4 439.7h8.26v3.80h-8.26zM180.2 439.7h8.26v3.80h-8.26zM56.4 451.1h8.26v3.80h-8.26zM89.4 451.1h8.26v3.80h-8.26zM188.5 451.1h8.26v3.80h-8.26zM130.7 454.9h8.26v3.80h-8.26zM188.5 454.9h8.26v3.80h-8.26zM122.4 458.7h8.26v3.80h-8.26zM147.2 458.7h8.26v3.80h-8.26zM172.0 458.7h8.26v3.80h-8.26zM180.2 458.7h8.26v3.80h-8.26zM147.2 462.5h8.26v3.80h-8.26zM180.2 462.5h8.26v3.80h-8.26zM188.5 462.5h8.26v3.80h-8.26zM188.5 466.3h8.26v3.80h-8.26zM196.7 466.3h8.26v3.80h-8.26zM122.4 473.9h8.26v3.80h-8.26zM180.2 473.9h8.26v3.80h-8.26zM172.0 477.7h8.26v3.80h-8.26zM180.2 477.7h8.26v3.80h-8.26zM196.7 477.7h8.26v3.80h-8.26zM72.9 481.5h8.26v3.80h-8.26zM89.4 481.5h8.26v3.80h-8.26zM130.7 481.5h8.26v3.80h-8.26zM180.2 481.5h8.26v3.80h-8.26zM130.7 489.1h8.26v3.80h-8.26zM172.0 489.1h8.26v3.80h-8.26zM105.9 492.9h8.26v3.80h-8.26zM122.4 492.9h8.26v3.80h-8.26zM196.7 492.9h8.26v3.80h-8.26zM188.5 496.7h8.26v3.80h-8.26zM196.7 496.7h8.26v3.80h-8.26zM196.7 500.5h8.26v3.80h-8.26z"/>
<path fill="#fbd1ba" d="M155.5 314.3h8.26v3.80h-8.26zM56.4 318.1h8.26v3.80h-8.26zM155.5 318.1h8.26v3.80h-8.26zM180.2 318.1h8.26v3.80h-8.26zM56.4 321.9h8.26v3.80h-8.26zM64.6 321.9h8.26v3.80h-8.26zM180.2 325.7h8.26v3.80h-8.26zM48.1 329.5h8.26v3.80h-8.26zM64.6 329.5h8.26v3.80h-8.26zM97.6 329.5h8.26v3.80h-8.26zM114.2 329.5h8.26v3.80h-8.26zM180.2 329.5h8.26v3.80h-8.26zM81.1 333.3h8.26v3.80h-8.26zM114.2 333.3h8.26v3.80h-8.26zM138.9 337.1h8.26v3.80h-8.26zM147.2 337.1h8.26v3.80h-8.26zM188.5 337.1h8.26v3.80h-8.26zM64.6 340.9h8.26v3.80h-8.26zM155.5 340.9h8.26v3.80h-8.26zM163.7 340.9h8.26v3.80h-8.26zM188.5 340.9h8.26v3.80h-8.26zM48.1 344.7h8.26v3.80h-8.26zM64.6 344.7h8.26v3.80h-8.26zM188.5 344.7h8.26v3.80h-8.26zM48.1 348.5h8.26v3.80h-8.26zM64.6 348.5h8.26v3.80h-8.26zM180.2 348.5h8.26v3.80h-8.26zM48.1 352.3h8.26v3.80h-8.26zM180.2 352.3h8.26v3.80h-8.26zM188.5 352.3h8.26v3.80h-8.26zM97.6 356.1h8.26v3.80h-8.26zM105.9 356.1h8.26v3.80h-8.26zM188.5 356.1h8.26v3.80h-8.26zM105.9 359.9h8.26v3.80h-8.26zM155.5 359.9h8.26v3.80h-8.26zM163.7 359.9h8.26v3.80h-8.26zM180.2 359.9h8.26v3.80h-8.26zM188.5 359.9h8.26v3.80h-8.26zM89.4 363.7h8.26v3.80h-8.26zM97.6 363.7h8.26v3.80h-8.26zM130.7 363.7h8.26v3.80h-8.26zM138.9 363.7h8.26v3.80h-8.26zM180.2 363.7h8.26v3.80h-8.26zM188.5 363.7h8.26v3.80h-8.26zM89.4 367.5h8.26v3.80h-8.26zM97.6 367.5h8.26v3.80h-8.26zM114.2 367.5h8.26v3.80h-8.26zM122.4 367.5h8.26v3.80h-8.26zM138.9 367.5h8.26v3.80h-8.26zM147.2 367.5h8.26v3.80h-8.26zM155.5 367.5h8.26v3.80h-8.26zM163.7 367.5h8.26v3.80h-8.26zM188.5 367.5h8.26v3.80h-8.26zM97.6 371.3h8.26v3.80h-8.26zM122.4 371.3h8.26v3.80h-8.26zM130.7 371.3h8.26v3.80h-8.26zM138.9 371.3h8.26v3.80h-8.26zM147.2 371.3h8.26v3.80h-8.26zM155.5 371.3h8.26v3.80h-8.26zM163.7 371.3h8.26v3.80h-8.26zM180.2 371.3h8.26v3.80h-8.26zM188.5 371.3h8.26v3.80h-8.26zM89.4 375.1h8.26v3.80h-8.26zM97.6 375.1h8.26v3.80h-8.26zM105.9 375.1h8.26v3.80h-8.26zM122.4 375.1h8.26v3.80h-8.26zM138.9 375.1h8.26v3.80h-8.26zM147.2 375.1h8.26v3.80h-8.26zM188.5 375.1h8.26v3.80h-8.26zM89.4 378.9h8.26v3.80h-8.26zM97.6 378.9h8.26v3.80h-8.26zM114.2 378.9h8.26v3.80h-8.26zM155.5 378.9h8.26v3.80h-8.26zM163.7 378.9h8.26v3.80h-8.26zM89.4 382.7h8.26v3.80h-8.26zM130.7 382.7h8.26v3.80h-8.26zM163.7 382.7h8.26v3.80h-8.26zM188.5 382.7h8.26v3.80h-8.26zM89.4 386.5h8.26v3.80h-8.26zM105.9 386.5h8.26v3.80h-8.26zM130.7 386.5h8.26v3.80h-8.26zM147.2 386.5h8.26v3.80h-8.26zM155.5 386.5h8.26v3.80h-8.26zM89.4 390.3h8.26v3.80h-8.26zM138.9 390.3h8.26v3.80h-8.26zM147.2 390.3h8.26v3.80h-8.26zM155.5 390.3h8.26v3.80h-8.26zM89.4 394.1h8.26v3.80h-8.26zM130.7 394.1h8.26v3.80h-8.26zM138.9 394.1h8.26v3.80h-8.26zM147.2 394.1h8.26v3.80h-8.26zM155.5 394.1h8.26v3.80h-8.26zM163.7 394.1h8.26v3.80h-8.26zM180.2 394.1h8.26v3.80h-8.26zM188.5 394.1h8.26v3.80h-8.26zM180.2 397.9h8.26v3.80h-8.26zM188.5 397.9h8.26v3.80h-8.26zM130.7 401.7h8.26v3.80h-8.26zM180.2 401.7h8.26v3.80h-8.26zM188.5 401.7h8.26v3.80h-8.26zM89.4 405.5h8.26v3.80h-8.26zM130.7 405.5h8.26v3.80h-8.26zM97.6 409.3h8.26v3.80h-8.26zM105.9 409.3h8.26v3.80h-8.26zM130.7 409.3h8.26v3.80h-8.26zM89.4 413.1h8.26v3.80h-8.26zM97.6 413.1h8.26v3.80h-8.26zM163.7 413.1h8.26v3.80h-8.26zM188.5 413.1h8.26v3.80h-8.26zM89.4 416.9h8.26v3.80h-8.26zM97.6 416.9h8.26v3.80h-8.26zM105.9 416.9h8.26v3.80h-8.26zM163.7 416.9h8.26v3.80h-8.26zM180.2 416.9h8.26v3.80h-8.26zM188.5 416.9h8.26v3.80h-8.26zM97.6 420.7h8.26v3.80h-8.26zM105.9 420.7h8.26v3.80h-8.26zM130.7 420.7h8.26v3.80h-8.26zM163.7 420.7h8.26v3.80h-8.26zM180.2 420.7h8.26v3.80h-8.26zM97.6 424.5h8.26v3.80h-8.26zM105.9 424.5h8.26v3.80h-8.26zM122.4 424.5h8.26v3.80h-8.26zM130.7 424.5h8.26v3.80h-8.26zM138.9 424.5h8.26v3.80h-8.26zM89.4 428.3h8.26v3.80h-8.26zM105.9 428.3h8.26v3.80h-8.26zM122.4 428.3h8.26v3.80h-8.26zM155.5 428.3h8.26v3.80h-8.26zM163.7 428.3h8.26v3.80h-8.26zM188.5 428.3h8.26v3.80h-8.26zM89.4 432.1h8.26v3.80h-8.26zM105.9 432.1h8.26v3.80h-8.26zM122.4 432.1h8.26v3.80h-8.26zM130.7 432.1h8.26v3.80h-8.26zM56.4 435.9h8.26v3.80h-8.26zM64.6 435.9h8.26v3.80h-8.26zM72.9 435.9h8.26v3.80h-8.26zM138.9 435.9h8.26v3.80h-8.26zM147.2 435.9h8.26v3.80h-8.26zM155.5 435.9h8.26v3.80h-8.26zM163.7 435.9h8.26v3.80h-8.26zM180.2 435.9h8.26v3.80h-8.26zM188.5 435.9h8.26v3.80h-8.26zM172.0 439.7h8.26v3.80h-8.26zM196.7 439.7h8.26v3.80h-8.26zM56.4 443.5h8.26v3.80h-8.26zM56.4 447.3h8.26v3.80h-8.26zM188.5 447.3h8.26v3.80h-8.26zM48.1 451.1h8.26v3.80h-8.26zM64.6 451.1h8.26v3.80h-8.26zM81.1 454.9h8.26v3.80h-8.26zM105.9 454.9h8.26v3.80h-8.26zM122.4 454.9h8.26v3.80h-8.26zM180.2 454.9h8.26v3.80h-8.26zM105.9 458.7h8.26v3.80h-8.26zM130.7 458.7h8.26v3.80h-8.26zM105.9 462.5h8.26v3.80h-8.26zM130.7 466.3h8.26v3.80h-8.26zM130.7 470.1h8.26v3.80h-8.26zM147.2 470.1h8.26v3.80h-8.26zM180.2 470.1h8.26v3.80h-8.26zM188.5 470.1h8.26v3.80h-8.26zM89.4 473.9h8.26v3.80h-8.26zM130.7 473.9h8.26v3.80h-8.26zM188.5 473.9h8.26v3.80h-8.26zM89.4 477.7h8.26v3.80h-8.26zM97.6 477.7h8.26v3.80h-8.26zM105.9 477.7h8.26v3.80h-8.26zM130.7 477.7h8.26v3.80h-8.26zM188.5 477.7h8.26v3.80h-8.26zM122.4 481.5h8.26v3.80h-8.26zM105.9 485.3h8.26v3.80h-8.26zM122.4 485.3h8.26v3.80h-8.26zM163.7 485.3h8.26v3.80h-8.26zM89.4 489.1h8.26v3.80h-8.26zM105.9 489.1h8.26v3.80h-8.26zM122.4 489.1h8.26v3.80h-8.26zM138.9 489.1h8.26v3.80h-8.26zM180.2 489.1h8.26v3.80h-8.26zM188.5 489.1h8.26v3.80h-8.26zM89.4 492.9h8.26v3.80h-8.26zM130.7 492.9h8.26v3.80h-8.26zM180.2 492.9h8.26v3.80h-8.26zM188.5 492.9h8.26v3.80h-8.26zM97.6 496.7h8.26v3.80h-8.26zM105.9 496.7h8.26v3.80h-8.26zM122.4 496.7h8.26v3.80h-8.26zM130.7 496.7h8.26v3.80h-8.26zM180.2 496.7h8.26v3.80h-8.26zM97.6 500.5h8.26v3.80h-8.26zM105.9 500.5h8.26v3.80h-8.26zM122.4 500.5h8.26v3.80h-8.26zM130.7 500.5h8.26v3.80h-8.26zM180.2 500.5h8.26v3.80h-8.26zM188.5 500.5h8.26v3.80h-8.26z"/>
<path fill="#f8a583" d="M48.1 314.3h8.26v3.80h-8.26zM64.6 314.3h8.26v3.80h-8.26zM64.6 318.1h8.26v3.80h-8.26zM64.6 325.7h8.26v3.80h-8.26zM72.9 329.5h8.26v3.80h-8.26zM81.1 329.5h8.26v3.80h-8.26zM72.9 333.3h8.26v3.80h-8.26zM180.2 333.3h8.26v3.80h-8.26zM56.4 337.1h8.26v3.80h-8.26zM64.6 337.1h8.26v3.80h-8.26zM72.9 337.1h8.26v3.80h-8.26zM81.1 337.1h8.26v3.80h-8.26zM155.5 337.1h8.26v3.80h-8.26zM163.7 337.1h8.26v3.80h-8.26zM48.1 340.9h8.26v3.80h-8.26zM81.1 340.9h8.26v3.80h-8.26zM72.9 344.7h8.26v3.80h-8.26zM81.1 344.7h8.26v3.80h-8.26zM72.9 348.5h8.26v3.80h-8.26zM81.1 348.5h8.26v3.80h-8.26zM64.6 352.3h8.26v3.80h-8.26zM72.9 352.3h8.26v3.80h-8.26zM81.1 352.3h8.26v3.80h-8.26zM138.9 356.1h8.26v3.80h-8.26zM155.5 356.1h8.26v3.80h-8.26zM89.4 359.9h8.26v3.80h-8.26zM97.6 359.9h8.26v3.80h-8.26zM122.4 359.9h8.26v3.80h-8.26zM105.9 363.7h8.26v3.80h-8.26zM114.2 363.7h8.26v3.80h-8.26zM122.4 363.7h8.26v3.80h-8.26zM155.5 363.7h8.26v3.80h-8.26zM163.7 363.7h8.26v3.80h-8.26zM105.9 367.5h8.26v3.80h-8.26zM89.4 371.3h8.26v3.80h-8.26zM105.9 371.3h8.26v3.80h-8.26zM130.7 375.1h8.26v3.80h-8.26zM155.5 375.1h8.26v3.80h-8.26zM180.2 375.1h8.26v3.80h-8.26zM105.9 378.9h8.26v3.80h-8.26zM122.4 378.9h8.26v3.80h-8.26zM130.7 378.9h8.26v3.80h-8.26zM180.2 378.9h8.26v3.80h-8.26zM188.5 378.9h8.26v3.80h-8.26zM114.2 382.7h8.26v3.80h-8.26zM97.6 386.5h8.26v3.80h-8.26zM114.2 386.5h8.26v3.80h-8.26zM163.7 386.5h8.26v3.80h-8.26zM188.5 386.5h8.26v3.80h-8.26zM97.6 394.1h8.26v3.80h-8.26zM105.9 394.1h8.26v3.80h-8.26zM97.6 397.9h8.26v3.80h-8.26zM122.4 397.9h8.26v3.80h-8.26zM89.4 401.7h8.26v3.80h-8.26zM122.4 401.7h8.26v3.80h-8.26zM105.9 405.5h8.26v3.80h-8.26zM114.2 405.5h8.26v3.80h-8.26zM122.4 405.5h8.26v3.80h-8.26zM89.4 409.3h8.26v3.80h-8.26zM122.4 409.3h8.26v3.80h-8.26zM188.5 409.3h8.26v3.80h-8.26zM130.7 413.1h8.26v3.80h-8.26zM122.4 416.9h8.26v3.80h-8.26zM130.7 416.9h8.26v3.80h-8.26zM122.4 420.7h8.26v3.80h-8.26zM188.5 420.7h8.26v3.80h-8.26zM89.4 424.5h8.26v3.80h-8.26zM97.6 428.3h8.26v3.80h-8.26zM130.7 428.3h8.26v3.80h-8.26zM97.6 432.1h8.26v3.80h-8.26zM81.1 435.9h8.26v3.80h-8.26zM138.9 439.7h8.26v3.80h-8.26zM147.2 439.7h8.26v3.80h-8.26zM147.2 443.5h8.26v3.80h-8.26zM155.5 443.5h8.26v3.80h-8.26zM48.1 447.3h8.26v3.80h-8.26zM147.2 447.3h8.26v3.80h-8.26zM155.5 447.3h8.26v3.80h-8.26zM163.7 447.3h8.26v3.80h-8.26zM72.9 451.1h8.26v3.80h-8.26zM138.9 451.1h8.26v3.80h-8.26zM147.2 451.1h8.26v3.80h-8.26zM163.7 451.1h8.26v3.80h-8.26zM147.2 454.9h8.26v3.80h-8.26zM155.5 454.9h8.26v3.80h-8.26zM163.7 454.9h8.26v3.80h-8.26zM138.9 458.7h8.26v3.80h-8.26zM138.9 462.5h8.26v3.80h-8.26zM147.2 466.3h8.26v3.80h-8.26zM155.5 466.3h8.26v3.80h-8.26zM138.9 470.1h8.26v3.80h-8.26zM155.5 470.1h8.26v3.80h-8.26zM97.6 473.9h8.26v3.80h-8.26zM138.9 473.9h8.26v3.80h-8.26zM147.2 473.9h8.26v3.80h-8.26zM163.7 473.9h8.26v3.80h-8.26zM138.9 477.7h8.26v3.80h-8.26zM147.2 477.7h8.26v3.80h-8.26zM163.7 477.7h8.26v3.80h-8.26zM138.9 481.5h8.26v3.80h-8.26zM147.2 481.5h8.26v3.80h-8.26zM163.7 481.5h8.26v3.80h-8.26zM89.4 485.3h8.26v3.80h-8.26zM97.6 485.3h8.26v3.80h-8.26zM138.9 485.3h8.26v3.80h-8.26zM147.2 485.3h8.26v3.80h-8.26zM114.2 489.1h8.26v3.80h-8.26zM155.5 489.1h8.26v3.80h-8.26zM163.7 489.1h8.26v3.80h-8.26zM196.7 489.1h8.26v3.80h-8.26zM147.2 492.9h8.26v3.80h-8.26zM155.5 492.9h8.26v3.80h-8.26zM163.7 492.9h8.26v3.80h-8.26zM89.4 496.7h8.26v3.80h-8.26zM114.2 496.7h8.26v3.80h-8.26zM138.9 496.7h8.26v3.80h-8.26zM147.2 496.7h8.26v3.80h-8.26zM163.7 496.7h8.26v3.80h-8.26zM89.4 500.5h8.26v3.80h-8.26zM138.9 500.5h8.26v3.80h-8.26zM147.2 500.5h8.26v3.80h-8.26zM155.5 500.5h8.26v3.80h-8.26zM163.7 500.5h8.26v3.80h-8.26z"/>
<path fill="#ef694b" d="M56.4 314.3h8.26v3.80h-8.26zM72.9 314.3h8.26v3.80h-8.26zM81.1 314.3h8.26v3.80h-8.26zM81.1 318.1h8.26v3.80h-8.26zM48.1 321.9h8.26v3.80h-8.26zM81.1 321.9h8.26v3.80h-8.26zM72.9 325.7h8.26v3.80h-8.26zM72.9 340.9h8.26v3.80h-8.26zM89.4 356.1h8.26v3.80h-8.26zM122.4 356.1h8.26v3.80h-8.26zM180.2 356.1h8.26v3.80h-8.26zM114.2 359.9h8.26v3.80h-8.26zM180.2 367.5h8.26v3.80h-8.26zM196.7 371.3h8.26v3.80h-8.26zM163.7 375.1h8.26v3.80h-8.26zM97.6 382.7h8.26v3.80h-8.26zM97.6 390.3h8.26v3.80h-8.26zM89.4 397.9h8.26v3.80h-8.26zM114.2 397.9h8.26v3.80h-8.26zM97.6 401.7h8.26v3.80h-8.26zM105.9 401.7h8.26v3.80h-8.26zM114.2 401.7h8.26v3.80h-8.26zM114.2 413.1h8.26v3.80h-8.26zM89.4 420.7h8.26v3.80h-8.26zM155.5 439.7h8.26v3.80h-8.26zM163.7 439.7h8.26v3.80h-8.26zM188.5 439.7h8.26v3.80h-8.26zM138.9 447.3h8.26v3.80h-8.26zM155.5 451.1h8.26v3.80h-8.26zM138.9 454.9h8.26v3.80h-8.26zM163.7 462.5h8.26v3.80h-8.26zM138.9 466.3h8.26v3.80h-8.26zM105.9 470.1h8.26v3.80h-8.26zM155.5 473.9h8.26v3.80h-8.26zM155.5 477.7h8.26v3.80h-8.26zM147.2 489.1h8.26v3.80h-8.26zM114.2 492.9h8.26v3.80h-8.26zM138.9 492.9h8.26v3.80h-8.26zM155.5 496.7h8.26v3.80h-8.26zM114.2 500.5h8.26v3.80h-8.26z"/>
<path fill="#dc2e29" d="M48.1 318.1h8.26v3.80h-8.26zM72.9 318.1h8.26v3.80h-8.26zM72.9 321.9h8.26v3.80h-8.26zM48.1 325.7h8.26v3.80h-8.26zM81.1 325.7h8.26v3.80h-8.26zM48.1 333.3h8.26v3.80h-8.26zM56.4 333.3h8.26v3.80h-8.26zM56.4 340.9h8.26v3.80h-8.26zM56.4 344.7h8.26v3.80h-8.26zM122.4 382.7h8.26v3.80h-8.26zM122.4 386.5h8.26v3.80h-8.26zM114.2 394.1h8.26v3.80h-8.26zM105.9 397.9h8.26v3.80h-8.26zM97.6 405.5h8.26v3.80h-8.26zM114.2 409.3h8.26v3.80h-8.26zM122.4 413.1h8.26v3.80h-8.26zM114.2 416.9h8.26v3.80h-8.26zM114.2 428.3h8.26v3.80h-8.26zM114.2 432.1h8.26v3.80h-8.26zM48.1 435.9h8.26v3.80h-8.26zM138.9 443.5h8.26v3.80h-8.26zM163.7 443.5h8.26v3.80h-8.26zM155.5 458.7h8.26v3.80h-8.26zM163.7 458.7h8.26v3.80h-8.26zM155.5 462.5h8.26v3.80h-8.26zM163.7 466.3h8.26v3.80h-8.26zM163.7 470.1h8.26v3.80h-8.26zM155.5 485.3h8.26v3.80h-8.26z"/>
<path fill="#a60f21" d="M56.4 329.5h8.26v3.80h-8.26zM56.4 348.5h8.26v3.80h-8.26zM56.4 352.3h8.26v3.80h-8.26zM114.2 390.3h8.26v3.80h-8.26zM114.2 420.7h8.26v3.80h-8.26zM114.2 424.5h8.26v3.80h-8.26zM155.5 481.5h8.26v3.80h-8.26z"/>
<path d="M48.10 309.90V504.30M56.36 309.90V504.30M64.62 309.90V504.30M72.87 309.90V504.30M81.13 309.90V504.30M89.39 309.90V504.30M97.65 309.90V504.30M105.91 309.90V504.30M114.16 309.90V504.30M122.42 309.90V504.30M130.68 309.90V504.30M138.94 309.90V504.30M147.20 309.90V504.30M155.45 309.90V504.30M163.71 309.90V504.30M171.97 309.90V504.30M180.23 309.90V504.30M188.49 309.90V504.30M196.74 309.90V504.30M205.00 309.90V504.30M48.10 314.30H205.00M48.10 318.10H205.00M48.10 321.90H205.00M48.10 325.70H205.00M48.10 329.50H205.00M48.10 333.30H205.00M48.10 337.10H205.00M48.10 340.90H205.00M48.10 344.70H205.00M48.10 348.50H205.00M48.10 352.30H205.00M48.10 356.10H205.00M48.10 359.90H205.00M48.10 363.70H205.00M48.10 367.50H205.00M48.10 371.30H205.00M48.10 375.10H205.00M48.10 378.90H205.00M48.10 382.70H205.00M48.10 386.50H205.00M48.10 390.30H205.00M48.10 394.10H205.00M48.10 397.90H205.00M48.10 401.70H205.00M48.10 405.50H205.00M48.10 409.30H205.00M48.10 413.10H205.00M48.10 416.90H205.00M48.10 420.70H205.00M48.10 424.50H205.00M48.10 428.30H205.00M48.10 432.10H205.00M48.10 435.90H205.00M48.10 439.70H205.00M48.10 443.50H205.00M48.10 447.30H205.00M48.10 451.10H205.00M48.10 454.90H205.00M48.10 458.70H205.00M48.10 462.50H205.00M48.10 466.30H205.00M48.10 470.10H205.00M48.10 473.90H205.00M48.10 477.70H205.00M48.10 481.50H205.00M48.10 485.30H205.00M48.10 489.10H205.00M48.10 492.90H205.00M48.10 496.70H205.00M48.10 500.50H205.00M48.10 504.30H205.00" stroke="#a4a4a4" stroke-width="0.4" fill="none" opacity="0.85"/>
<text x="206.30" y="312.60" font-size="3.7" font-weight="bold" fill="#111">class</text>
<g fill="#151522" stroke="#151522" stroke-width="0.12" font-size="3.7" transform="rotate(0.03 206.3 409.3)"><text x="206.30" y="317.13">Lalba</text><text x="206.30" y="320.93">Fmo1</text><text x="206.30" y="324.73">Rnas2</text><text x="206.30" y="328.53">Cbr2</text><text x="206.30" y="332.33">Wdfy2</text><text x="206.30" y="336.13">Lamb3</text><text x="206.30" y="339.93">Ehmnp1</text><text x="206.30" y="343.73">Cd36</text><text x="206.30" y="347.53">Col6a5</text><text x="206.30" y="351.33">Aldh1a1</text><text x="206.30" y="355.13">Rab10</text><text x="206.30" y="358.93">Rnls</text><text x="206.30" y="362.73">Hnrnpa2b1</text><text x="206.30" y="366.53">Cndp2</text><text x="206.30" y="370.33">Anxa8</text><text x="206.30" y="374.13">Anxa1</text><text x="206.30" y="377.93">Ctnnd1</text><text x="206.30" y="381.73">Arpc1b</text><text x="206.30" y="385.53">Eif3h</text><text x="206.30" y="389.33">Rrbp1</text><text x="206.30" y="393.13">Myg</text><text x="206.30" y="396.93">Cdk3</text><text x="206.30" y="400.73">Psmd10</text><text x="206.30" y="404.53">Csnk1a</text><text x="206.30" y="408.33">Rpl7a</text><text x="206.30" y="412.13">Rpl18</text><text x="206.30" y="415.93">Fn1</text><text x="206.30" y="419.73">Des</text><text x="206.30" y="423.53">Map4</text><text x="206.30" y="427.33">Vim</text><text x="206.30" y="431.13">Rpl29</text><text x="206.30" y="434.93">Eif4h</text><text x="206.30" y="438.73">Myh14</text><text x="206.30" y="442.53">Tf</text><text x="206.30" y="446.33">Ywhab</text><text x="206.30" y="450.13">Crip2</text><text x="206.30" y="453.93">Eif3e</text><text x="206.30" y="457.73">Agr2</text><text x="206.30" y="461.53">Phb</text><text x="206.30" y="465.33">Hnrpa0</text><text x="206.30" y="469.13">Ufm1</text><text x="206.30" y="472.93">Rpn1</text><text x="206.30" y="476.73">Rpsa2</text><text x="206.30" y="480.53">Cnn3</text><text x="206.30" y="484.33">Actn4</text><text x="206.30" y="488.13">Eef1d</text><text x="206.30" y="491.93">Psmc2</text><text x="206.30" y="495.73">Psmc5</text><text x="206.30" y="499.53">Anxa2</text><text x="206.30" y="503.33">Rps3a</text></g>
<text x="50.93" y="506.00" font-size="3.6" fill="#151522" transform="rotate(90 50.93 506.00)" stroke="#151522" stroke-width="0.08">1895 ctr</text>
<text x="59.19" y="506.00" font-size="3.6" fill="#151522" transform="rotate(90 59.19 506.00)" stroke="#151522" stroke-width="0.08">1899 ctr</text>
<text x="67.45" y="506.00" font-size="3.6" fill="#151522" transform="rotate(90 67.45 506.00)" stroke="#151522" stroke-width="0.08">1896 ctr</text>
<text x="75.70" y="506.00" font-size="3.6" fill="#151522" transform="rotate(90 75.70 506.00)" stroke="#151522" stroke-width="0.08">1897 ctr</text>
<text x="83.96" y="506.00" font-size="3.6" fill="#151522" transform="rotate(90 83.96 506.00)" stroke="#151522" stroke-width="0.08">1898 ctr</text>
<text x="92.22" y="506.00" font-size="3.6" fill="#151522" transform="rotate(90 92.22 506.00)" stroke="#151522" stroke-width="0.08">1862 kv BLM 14 06</text>
<text x="100.48" y="506.00" font-size="3.6" fill="#151522" transform="rotate(90 100.48 506.00)" stroke="#151522" stroke-width="0.08">1862 dv BLM 14 06</text>
<text x="108.73" y="506.00" font-size="3.6" fill="#151522" transform="rotate(90 108.73 506.00)" stroke="#151522" stroke-width="0.08">1860 BLM 14 06</text>
<text x="116.99" y="506.00" font-size="3.6" fill="#151522" transform="rotate(90 116.99 506.00)" stroke="#151522" stroke-width="0.08">1864 dv BLM 14 06</text>
<text x="125.25" y="506.00" font-size="3.6" fill="#151522" transform="rotate(90 125.25 506.00)" stroke="#151522" stroke-width="0.08">1864 kv BLM 14 06</text>
<text x="133.51" y="506.00" font-size="3.6" fill="#151522" transform="rotate(90 133.51 506.00)" stroke="#151522" stroke-width="0.08">1871 BLM 21 06</text>
<text x="141.77" y="506.00" font-size="3.6" fill="#151522" transform="rotate(90 141.77 506.00)" stroke="#151522" stroke-width="0.08">1863 dv NINT 21 06</text>
<text x="150.02" y="506.00" font-size="3.6" fill="#151522" transform="rotate(90 150.02 506.00)" stroke="#151522" stroke-width="0.08">1861 kv NINT 21 06</text>
<text x="158.28" y="506.00" font-size="3.6" fill="#151522" transform="rotate(90 158.28 506.00)" stroke="#151522" stroke-width="0.08">1858 NINT 21 06</text>
<text x="166.54" y="506.00" font-size="3.6" fill="#151522" transform="rotate(90 166.54 506.00)" stroke="#151522" stroke-width="0.08">1863 NINT 21 06</text>
<text x="174.80" y="506.00" font-size="3.6" fill="#151522" transform="rotate(90 174.80 506.00)" stroke="#151522" stroke-width="0.08">1875 BLM 21 06</text>
<text x="183.06" y="506.00" font-size="3.6" fill="#151522" transform="rotate(90 183.06 506.00)" stroke="#151522" stroke-width="0.08">1873 BLM 21 06</text>
<text x="191.31" y="506.00" font-size="3.6" fill="#151522" transform="rotate(90 191.31 506.00)" stroke="#151522" stroke-width="0.08">1869 BLM 21 06</text>
<text x="199.57" y="506.00" font-size="3.6" fill="#151522" transform="rotate(90 199.57 506.00)" stroke="#151522" stroke-width="0.08">1870 BLM 21 06</text>
<rect x="226.7" y="308.9" width="4.5" height="58.9" fill="url(#cb)"/>
<text x="232.30" y="313.40" font-size="3.6" fill="#222" stroke="#222" stroke-width="0.06">3</text>
<text x="232.30" y="322.30" font-size="3.6" fill="#222" stroke="#222" stroke-width="0.06">2</text>
<text x="232.30" y="331.20" font-size="3.6" fill="#222" stroke="#222" stroke-width="0.06">1</text>
<text x="232.30" y="340.10" font-size="3.6" fill="#222" stroke="#222" stroke-width="0.06">0</text>
<text x="232.30" y="349.00" font-size="3.6" fill="#222" stroke="#222" stroke-width="0.06">-1</text>
<text x="232.30" y="357.90" font-size="3.6" fill="#222" stroke="#222" stroke-width="0.06">-2</text>
<text x="232.30" y="366.80" font-size="3.6" fill="#222" stroke="#222" stroke-width="0.06">-3</text>
<rect x="276.25" y="310.00" width="47.77" height="3.0" fill="#58ee12"/>
<rect x="324.01" y="310.00" width="57.32" height="3.0" fill="#f63c0a"/>
<rect x="381.33" y="310.00" width="66.87" height="3.0" fill="#ffa012"/>
<rect x="448.20" y="310.00" width="9.55" height="3.0" fill="#f63c0a"/>
<path fill="#1263a8" d="M276.2 396.6h9.55v3.91h-9.55z"/>
<path fill="#2078b7" d="M276.2 380.9h9.55v3.91h-9.55zM285.8 388.8h9.55v3.91h-9.55z"/>
<path fill="#2f8dc6" d="M343.1 326.1h9.55v3.91h-9.55zM343.1 330.1h9.55v3.91h-9.55zM343.1 334.0h9.55v3.91h-9.55zM343.1 345.7h9.55v3.91h-9.55zM343.1 349.6h9.55v3.91h-9.55zM343.1 353.5h9.55v3.91h-9.55zM352.7 353.5h9.55v3.91h-9.55zM276.2 377.0h9.55v3.91h-9.55zM314.5 377.0h9.55v3.91h-9.55zM276.2 384.9h9.55v3.91h-9.55zM276.2 392.7h9.55v3.91h-9.55zM276.2 400.5h9.55v3.91h-9.55zM285.8 400.5h9.55v3.91h-9.55zM276.2 408.3h9.55v3.91h-9.55zM295.4 408.3h9.55v3.91h-9.55zM276.2 412.2h9.55v3.91h-9.55zM276.2 424.0h9.55v3.91h-9.55zM400.4 451.4h9.55v3.91h-9.55zM400.4 459.2h9.55v3.91h-9.55zM276.2 467.0h9.55v3.91h-9.55zM276.2 471.0h9.55v3.91h-9.55zM276.2 498.4h9.55v3.91h-9.55zM400.4 502.3h9.55v3.91h-9.55zM285.8 506.2h9.55v3.91h-9.55zM304.9 506.2h9.55v3.91h-9.55z"/>
<path fill="#46a0d0" d="M438.7 314.4h9.55v3.91h-9.55zM352.7 349.6h9.55v3.91h-9.55zM304.9 400.5h9.55v3.91h-9.55zM276.2 416.2h9.55v3.91h-9.55zM400.4 416.2h9.55v3.91h-9.55zM276.2 420.1h9.55v3.91h-9.55zM276.2 455.3h9.55v3.91h-9.55zM304.9 463.1h9.55v3.91h-9.55zM276.2 494.4h9.55v3.91h-9.55zM304.9 494.4h9.55v3.91h-9.55z"/>
<path fill="#5eb2d9" d="M400.4 314.4h9.55v3.91h-9.55zM324.0 326.1h9.55v3.91h-9.55zM343.1 337.9h9.55v3.91h-9.55zM343.1 341.8h9.55v3.91h-9.55zM352.7 345.7h9.55v3.91h-9.55zM371.8 345.7h9.55v3.91h-9.55zM352.7 361.4h9.55v3.91h-9.55zM371.8 361.4h9.55v3.91h-9.55zM343.1 365.3h9.55v3.91h-9.55zM343.1 369.2h9.55v3.91h-9.55zM352.7 369.2h9.55v3.91h-9.55zM285.8 377.0h9.55v3.91h-9.55zM304.9 377.0h9.55v3.91h-9.55zM304.9 380.9h9.55v3.91h-9.55zM314.5 380.9h9.55v3.91h-9.55zM285.8 384.9h9.55v3.91h-9.55zM304.9 384.9h9.55v3.91h-9.55zM314.5 384.9h9.55v3.91h-9.55zM276.2 388.8h9.55v3.91h-9.55zM304.9 388.8h9.55v3.91h-9.55zM285.8 392.7h9.55v3.91h-9.55zM304.9 392.7h9.55v3.91h-9.55zM314.5 392.7h9.55v3.91h-9.55zM304.9 396.6h9.55v3.91h-9.55zM314.5 396.6h9.55v3.91h-9.55zM285.8 404.4h9.55v3.91h-9.55zM343.1 404.4h9.55v3.91h-9.55zM285.8 408.3h9.55v3.91h-9.55zM285.8 412.2h9.55v3.91h-9.55zM314.5 412.2h9.55v3.91h-9.55zM285.8 416.2h9.55v3.91h-9.55zM295.4 416.2h9.55v3.91h-9.55zM304.9 416.2h9.55v3.91h-9.55zM285.8 420.1h9.55v3.91h-9.55zM304.9 420.1h9.55v3.91h-9.55zM314.5 420.1h9.55v3.91h-9.55zM333.6 420.1h9.55v3.91h-9.55zM400.4 420.1h9.55v3.91h-9.55zM304.9 424.0h9.55v3.91h-9.55zM314.5 424.0h9.55v3.91h-9.55zM333.6 424.0h9.55v3.91h-9.55zM276.2 427.9h9.55v3.91h-9.55zM285.8 427.9h9.55v3.91h-9.55zM304.9 427.9h9.55v3.91h-9.55zM314.5 427.9h9.55v3.91h-9.55zM276.2 439.6h9.55v3.91h-9.55zM285.8 439.6h9.55v3.91h-9.55zM276.2 443.6h9.55v3.91h-9.55zM285.8 443.6h9.55v3.91h-9.55zM276.2 447.5h9.55v3.91h-9.55zM295.4 447.5h9.55v3.91h-9.55zM304.9 447.5h9.55v3.91h-9.55zM400.4 447.5h9.55v3.91h-9.55zM295.4 455.3h9.55v3.91h-9.55zM304.9 455.3h9.55v3.91h-9.55zM276.2 463.1h9.55v3.91h-9.55zM304.9 467.0h9.55v3.91h-9.55zM304.9 471.0h9.55v3.91h-9.55zM400.4 471.0h9.55v3.91h-9.55zM276.2 486.6h9.55v3.91h-9.55zM304.9 498.4h9.55v3.91h-9.55zM400.4 498.4h9.55v3.91h-9.55zM304.9 502.3h9.55v3.91h-9.55z"/>
<path fill="#7ac0df" d="M419.5 314.4h9.55v3.91h-9.55zM362.2 322.2h9.55v3.91h-9.55zM371.8 322.2h9.55v3.91h-9.55zM324.0 330.1h9.55v3.91h-9.55zM429.1 330.1h9.55v3.91h-9.55zM371.8 349.6h9.55v3.91h-9.55zM333.6 357.5h9.55v3.91h-9.55zM400.4 357.5h9.55v3.91h-9.55zM371.8 365.3h9.55v3.91h-9.55zM400.4 373.1h9.55v3.91h-9.55zM352.7 404.4h9.55v3.91h-9.55zM295.4 412.2h9.55v3.91h-9.55zM295.4 420.1h9.55v3.91h-9.55zM400.4 424.0h9.55v3.91h-9.55zM400.4 427.9h9.55v3.91h-9.55zM285.8 431.8h9.55v3.91h-9.55zM400.4 431.8h9.55v3.91h-9.55zM285.8 435.7h9.55v3.91h-9.55zM304.9 451.4h9.55v3.91h-9.55zM276.2 459.2h9.55v3.91h-9.55zM285.8 463.1h9.55v3.91h-9.55zM400.4 463.1h9.55v3.91h-9.55zM438.7 463.1h9.55v3.91h-9.55zM285.8 467.0h9.55v3.91h-9.55zM285.8 474.9h9.55v3.91h-9.55zM285.8 478.8h9.55v3.91h-9.55zM295.4 478.8h9.55v3.91h-9.55zM400.4 478.8h9.55v3.91h-9.55zM285.8 486.6h9.55v3.91h-9.55zM276.2 490.5h9.55v3.91h-9.55zM285.8 490.5h9.55v3.91h-9.55zM276.2 502.3h9.55v3.91h-9.55z"/>
<path fill="#97cde5" d="M362.2 314.4h9.55v3.91h-9.55zM381.3 314.4h9.55v3.91h-9.55zM410.0 314.4h9.55v3.91h-9.55zM429.1 314.4h9.55v3.91h-9.55zM324.0 318.3h9.55v3.91h-9.55zM362.2 318.3h9.55v3.91h-9.55zM371.8 318.3h9.55v3.91h-9.55zM400.4 318.3h9.55v3.91h-9.55zM410.0 318.3h9.55v3.91h-9.55zM419.5 318.3h9.55v3.91h-9.55zM429.1 318.3h9.55v3.91h-9.55zM438.7 318.3h9.55v3.91h-9.55zM400.4 322.2h9.55v3.91h-9.55zM410.0 322.2h9.55v3.91h-9.55zM429.1 322.2h9.55v3.91h-9.55zM438.7 322.2h9.55v3.91h-9.55zM352.7 326.1h9.55v3.91h-9.55zM362.2 326.1h9.55v3.91h-9.55zM371.8 326.1h9.55v3.91h-9.55zM438.7 326.1h9.55v3.91h-9.55zM333.6 330.1h9.55v3.91h-9.55zM352.7 330.1h9.55v3.91h-9.55zM410.0 330.1h9.55v3.91h-9.55zM438.7 334.0h9.55v3.91h-9.55zM352.7 337.9h9.55v3.91h-9.55zM362.2 337.9h9.55v3.91h-9.55zM371.8 337.9h9.55v3.91h-9.55zM438.7 337.9h9.55v3.91h-9.55zM352.7 341.8h9.55v3.91h-9.55zM400.4 341.8h9.55v3.91h-9.55zM410.0 341.8h9.55v3.91h-9.55zM438.7 341.8h9.55v3.91h-9.55zM362.2 345.7h9.55v3.91h-9.55zM362.2 349.6h9.55v3.91h-9.55zM410.0 349.6h9.55v3.91h-9.55zM448.2 349.6h9.55v3.91h-9.55zM362.2 353.5h9.55v3.91h-9.55zM371.8 353.5h9.55v3.91h-9.55zM285.8 357.5h9.55v3.91h-9.55zM343.1 357.5h9.55v3.91h-9.55zM362.2 357.5h9.55v3.91h-9.55zM371.8 357.5h9.55v3.91h-9.55zM410.0 357.5h9.55v3.91h-9.55zM343.1 361.4h9.55v3.91h-9.55zM362.2 361.4h9.55v3.91h-9.55zM381.3 361.4h9.55v3.91h-9.55zM400.4 361.4h9.55v3.91h-9.55zM438.7 361.4h9.55v3.91h-9.55zM448.2 361.4h9.55v3.91h-9.55zM333.6 365.3h9.55v3.91h-9.55zM352.7 365.3h9.55v3.91h-9.55zM400.4 365.3h9.55v3.91h-9.55zM410.0 365.3h9.55v3.91h-9.55zM438.7 365.3h9.55v3.91h-9.55zM448.2 365.3h9.55v3.91h-9.55zM390.9 369.2h9.55v3.91h-9.55zM438.7 369.2h9.55v3.91h-9.55zM448.2 369.2h9.55v3.91h-9.55zM343.1 373.1h9.55v3.91h-9.55zM352.7 373.1h9.55v3.91h-9.55zM362.2 373.1h9.55v3.91h-9.55zM371.8 373.1h9.55v3.91h-9.55zM410.0 373.1h9.55v3.91h-9.55zM438.7 373.1h9.55v3.91h-9.55zM295.4 377.0h9.55v3.91h-9.55zM285.8 380.9h9.55v3.91h-9.55zM343.1 380.9h9.55v3.91h-9.55zM295.4 384.9h9.55v3.91h-9.55zM343.1 384.9h9.55v3.91h-9.55zM400.4 384.9h9.55v3.91h-9.55zM314.5 388.8h9.55v3.91h-9.55zM400.4 388.8h9.55v3.91h-9.55zM295.4 392.7h9.55v3.91h-9.55zM400.4 392.7h9.55v3.91h-9.55zM285.8 396.6h9.55v3.91h-9.55zM400.4 396.6h9.55v3.91h-9.55zM410.0 396.6h9.55v3.91h-9.55zM400.4 400.5h9.55v3.91h-9.55zM304.9 404.4h9.55v3.91h-9.55zM314.5 404.4h9.55v3.91h-9.55zM333.6 404.4h9.55v3.91h-9.55zM314.5 408.3h9.55v3.91h-9.55zM304.9 412.2h9.55v3.91h-9.55zM400.4 412.2h9.55v3.91h-9.55zM314.5 416.2h9.55v3.91h-9.55zM333.6 416.2h9.55v3.91h-9.55zM285.8 424.0h9.55v3.91h-9.55zM295.4 424.0h9.55v3.91h-9.55zM295.4 427.9h9.55v3.91h-9.55zM295.4 431.8h9.55v3.91h-9.55zM304.9 431.8h9.55v3.91h-9.55zM314.5 431.8h9.55v3.91h-9.55zM390.9 431.8h9.55v3.91h-9.55zM295.4 435.7h9.55v3.91h-9.55zM304.9 435.7h9.55v3.91h-9.55zM314.5 435.7h9.55v3.91h-9.55zM390.9 435.7h9.55v3.91h-9.55zM400.4 435.7h9.55v3.91h-9.55zM314.5 439.6h9.55v3.91h-9.55zM400.4 439.6h9.55v3.91h-9.55zM410.0 439.6h9.55v3.91h-9.55zM429.1 439.6h9.55v3.91h-9.55zM295.4 443.6h9.55v3.91h-9.55zM304.9 443.6h9.55v3.91h-9.55zM314.5 443.6h9.55v3.91h-9.55zM400.4 443.6h9.55v3.91h-9.55zM410.0 443.6h9.55v3.91h-9.55zM314.5 447.5h9.55v3.91h-9.55zM285.8 451.4h9.55v3.91h-9.55zM295.4 451.4h9.55v3.91h-9.55zM285.8 455.3h9.55v3.91h-9.55zM314.5 455.3h9.55v3.91h-9.55zM371.8 455.3h9.55v3.91h-9.55zM400.4 455.3h9.55v3.91h-9.55zM285.8 459.2h9.55v3.91h-9.55zM314.5 459.2h9.55v3.91h-9.55zM381.3 459.2h9.55v3.91h-9.55zM400.4 467.0h9.55v3.91h-9.55zM295.4 474.9h9.55v3.91h-9.55zM304.9 474.9h9.55v3.91h-9.55zM314.5 474.9h9.55v3.91h-9.55zM410.0 474.9h9.55v3.91h-9.55zM419.5 474.9h9.55v3.91h-9.55zM429.1 474.9h9.55v3.91h-9.55zM276.2 478.8h9.55v3.91h-9.55zM304.9 478.8h9.55v3.91h-9.55zM314.5 478.8h9.55v3.91h-9.55zM381.3 478.8h9.55v3.91h-9.55zM429.1 478.8h9.55v3.91h-9.55zM438.7 478.8h9.55v3.91h-9.55zM276.2 482.7h9.55v3.91h-9.55zM285.8 482.7h9.55v3.91h-9.55zM295.4 482.7h9.55v3.91h-9.55zM304.9 482.7h9.55v3.91h-9.55zM314.5 482.7h9.55v3.91h-9.55zM400.4 482.7h9.55v3.91h-9.55zM438.7 482.7h9.55v3.91h-9.55zM304.9 486.6h9.55v3.91h-9.55zM314.5 486.6h9.55v3.91h-9.55zM400.4 486.6h9.55v3.91h-9.55zM304.9 490.5h9.55v3.91h-9.55zM314.5 490.5h9.55v3.91h-9.55zM400.4 490.5h9.55v3.91h-9.55zM285.8 494.4h9.55v3.91h-9.55zM314.5 494.4h9.55v3.91h-9.55zM285.8 498.4h9.55v3.91h-9.55zM314.5 498.4h9.55v3.91h-9.55zM295.4 506.2h9.55v3.91h-9.55zM400.4 506.2h9.55v3.91h-9.55zM419.5 506.2h9.55v3.91h-9.55zM429.1 506.2h9.55v3.91h-9.55zM438.7 506.2h9.55v3.91h-9.55z"/>
<path fill="#b3d8ea" d="M381.3 318.3h9.55v3.91h-9.55zM400.4 326.1h9.55v3.91h-9.55zM352.7 334.0h9.55v3.91h-9.55zM429.1 334.0h9.55v3.91h-9.55zM400.4 337.9h9.55v3.91h-9.55zM324.0 341.8h9.55v3.91h-9.55zM362.2 341.8h9.55v3.91h-9.55zM448.2 353.5h9.55v3.91h-9.55zM371.8 369.2h9.55v3.91h-9.55zM410.0 369.2h9.55v3.91h-9.55zM295.4 380.9h9.55v3.91h-9.55zM314.5 400.5h9.55v3.91h-9.55zM276.2 404.4h9.55v3.91h-9.55zM371.8 404.4h9.55v3.91h-9.55zM304.9 408.3h9.55v3.91h-9.55zM352.7 408.3h9.55v3.91h-9.55zM276.2 431.8h9.55v3.91h-9.55zM276.2 435.7h9.55v3.91h-9.55zM304.9 439.6h9.55v3.91h-9.55zM438.7 439.6h9.55v3.91h-9.55zM276.2 451.4h9.55v3.91h-9.55zM438.7 451.4h9.55v3.91h-9.55zM295.4 459.2h9.55v3.91h-9.55zM304.9 459.2h9.55v3.91h-9.55zM276.2 474.9h9.55v3.91h-9.55zM419.5 486.6h9.55v3.91h-9.55zM400.4 494.4h9.55v3.91h-9.55zM429.1 494.4h9.55v3.91h-9.55zM285.8 502.3h9.55v3.91h-9.55zM438.7 502.3h9.55v3.91h-9.55zM314.5 506.2h9.55v3.91h-9.55zM410.0 506.2h9.55v3.91h-9.55z"/>
<path fill="#cfe4ef" d="M324.0 314.4h9.55v3.91h-9.55zM371.8 314.4h9.55v3.91h-9.55zM448.2 318.3h9.55v3.91h-9.55zM324.0 322.2h9.55v3.91h-9.55zM333.6 322.2h9.55v3.91h-9.55zM381.3 322.2h9.55v3.91h-9.55zM419.5 322.2h9.55v3.91h-9.55zM448.2 322.2h9.55v3.91h-9.55zM295.4 326.1h9.55v3.91h-9.55zM371.8 330.1h9.55v3.91h-9.55zM400.4 330.1h9.55v3.91h-9.55zM324.0 334.0h9.55v3.91h-9.55zM362.2 334.0h9.55v3.91h-9.55zM400.4 334.0h9.55v3.91h-9.55zM410.0 334.0h9.55v3.91h-9.55zM448.2 334.0h9.55v3.91h-9.55zM324.0 337.9h9.55v3.91h-9.55zM333.6 337.9h9.55v3.91h-9.55zM381.3 337.9h9.55v3.91h-9.55zM410.0 337.9h9.55v3.91h-9.55zM429.1 337.9h9.55v3.91h-9.55zM448.2 337.9h9.55v3.91h-9.55zM333.6 341.8h9.55v3.91h-9.55zM371.8 341.8h9.55v3.91h-9.55zM390.9 341.8h9.55v3.91h-9.55zM429.1 341.8h9.55v3.91h-9.55zM448.2 341.8h9.55v3.91h-9.55zM410.0 345.7h9.55v3.91h-9.55zM438.7 345.7h9.55v3.91h-9.55zM400.4 349.6h9.55v3.91h-9.55zM400.4 353.5h9.55v3.91h-9.55zM410.0 353.5h9.55v3.91h-9.55zM438.7 357.5h9.55v3.91h-9.55zM448.2 357.5h9.55v3.91h-9.55zM324.0 361.4h9.55v3.91h-9.55zM362.2 365.3h9.55v3.91h-9.55zM429.1 365.3h9.55v3.91h-9.55zM362.2 369.2h9.55v3.91h-9.55zM381.3 369.2h9.55v3.91h-9.55zM400.4 369.2h9.55v3.91h-9.55zM419.5 369.2h9.55v3.91h-9.55zM429.1 369.2h9.55v3.91h-9.55zM276.2 373.1h9.55v3.91h-9.55zM333.6 373.1h9.55v3.91h-9.55zM381.3 373.1h9.55v3.91h-9.55zM429.1 373.1h9.55v3.91h-9.55zM448.2 373.1h9.55v3.91h-9.55zM343.1 377.0h9.55v3.91h-9.55zM324.0 388.8h9.55v3.91h-9.55zM410.0 392.7h9.55v3.91h-9.55zM448.2 392.7h9.55v3.91h-9.55zM362.2 404.4h9.55v3.91h-9.55zM333.6 408.3h9.55v3.91h-9.55zM390.9 408.3h9.55v3.91h-9.55zM400.4 408.3h9.55v3.91h-9.55zM333.6 412.2h9.55v3.91h-9.55zM390.9 427.9h9.55v3.91h-9.55zM419.5 427.9h9.55v3.91h-9.55zM410.0 431.8h9.55v3.91h-9.55zM419.5 431.8h9.55v3.91h-9.55zM429.1 431.8h9.55v3.91h-9.55zM410.0 435.7h9.55v3.91h-9.55zM419.5 435.7h9.55v3.91h-9.55zM429.1 435.7h9.55v3.91h-9.55zM295.4 439.6h9.55v3.91h-9.55zM429.1 443.6h9.55v3.91h-9.55zM314.5 451.4h9.55v3.91h-9.55zM410.0 451.4h9.55v3.91h-9.55zM419.5 451.4h9.55v3.91h-9.55zM429.1 451.4h9.55v3.91h-9.55zM410.0 459.2h9.55v3.91h-9.55zM314.5 463.1h9.55v3.91h-9.55zM295.4 467.0h9.55v3.91h-9.55zM410.0 467.0h9.55v3.91h-9.55zM429.1 467.0h9.55v3.91h-9.55zM438.7 467.0h9.55v3.91h-9.55zM285.8 471.0h9.55v3.91h-9.55zM314.5 471.0h9.55v3.91h-9.55zM400.4 474.9h9.55v3.91h-9.55zM438.7 474.9h9.55v3.91h-9.55zM410.0 478.8h9.55v3.91h-9.55zM419.5 478.8h9.55v3.91h-9.55zM381.3 482.7h9.55v3.91h-9.55zM410.0 482.7h9.55v3.91h-9.55zM419.5 482.7h9.55v3.91h-9.55zM429.1 482.7h9.55v3.91h-9.55zM295.4 486.6h9.55v3.91h-9.55zM410.0 486.6h9.55v3.91h-9.55zM429.1 486.6h9.55v3.91h-9.55zM438.7 486.6h9.55v3.91h-9.55zM295.4 490.5h9.55v3.91h-9.55zM419.5 490.5h9.55v3.91h-9.55zM429.1 490.5h9.55v3.91h-9.55zM295.4 494.4h9.55v3.91h-9.55zM429.1 498.4h9.55v3.91h-9.55zM410.0 502.3h9.55v3.91h-9.55zM419.5 502.3h9.55v3.91h-9.55zM429.1 502.3h9.55v3.91h-9.55zM276.2 506.2h9.55v3.91h-9.55zM448.2 506.2h9.55v3.91h-9.55z"/>
<path fill="#e3e8ea" d="M448.2 314.4h9.55v3.91h-9.55zM352.7 322.2h9.55v3.91h-9.55zM390.9 326.1h9.55v3.91h-9.55zM362.2 330.1h9.55v3.91h-9.55zM381.3 349.6h9.55v3.91h-9.55zM352.7 357.5h9.55v3.91h-9.55zM371.8 380.9h9.55v3.91h-9.55zM295.4 388.8h9.55v3.91h-9.55zM343.1 388.8h9.55v3.91h-9.55zM429.1 388.8h9.55v3.91h-9.55zM295.4 396.6h9.55v3.91h-9.55zM295.4 404.4h9.55v3.91h-9.55zM390.9 404.4h9.55v3.91h-9.55zM381.3 408.3h9.55v3.91h-9.55zM419.5 439.6h9.55v3.91h-9.55zM314.5 467.0h9.55v3.91h-9.55zM438.7 471.0h9.55v3.91h-9.55zM438.7 490.5h9.55v3.91h-9.55zM419.5 494.4h9.55v3.91h-9.55z"/>
<path fill="#f7ede6" d="M343.1 318.3h9.55v3.91h-9.55zM352.7 318.3h9.55v3.91h-9.55zM285.8 322.2h9.55v3.91h-9.55zM333.6 326.1h9.55v3.91h-9.55zM381.3 330.1h9.55v3.91h-9.55zM390.9 330.1h9.55v3.91h-9.55zM448.2 330.1h9.55v3.91h-9.55zM333.6 334.0h9.55v3.91h-9.55zM371.8 334.0h9.55v3.91h-9.55zM381.3 334.0h9.55v3.91h-9.55zM419.5 337.9h9.55v3.91h-9.55zM419.5 341.8h9.55v3.91h-9.55zM304.9 345.7h9.55v3.91h-9.55zM333.6 345.7h9.55v3.91h-9.55zM381.3 345.7h9.55v3.91h-9.55zM390.9 345.7h9.55v3.91h-9.55zM429.1 345.7h9.55v3.91h-9.55zM448.2 345.7h9.55v3.91h-9.55zM285.8 349.6h9.55v3.91h-9.55zM333.6 349.6h9.55v3.91h-9.55zM390.9 349.6h9.55v3.91h-9.55zM429.1 349.6h9.55v3.91h-9.55zM438.7 349.6h9.55v3.91h-9.55zM285.8 353.5h9.55v3.91h-9.55zM381.3 353.5h9.55v3.91h-9.55zM390.9 353.5h9.55v3.91h-9.55zM429.1 353.5h9.55v3.91h-9.55zM438.7 353.5h9.55v3.91h-9.55zM390.9 361.4h9.55v3.91h-9.55zM419.5 361.4h9.55v3.91h-9.55zM381.3 365.3h9.55v3.91h-9.55zM333.6 369.2h9.55v3.91h-9.55zM390.9 373.1h9.55v3.91h-9.55zM419.5 373.1h9.55v3.91h-9.55zM429.1 377.0h9.55v3.91h-9.55zM400.4 380.9h9.55v3.91h-9.55zM438.7 380.9h9.55v3.91h-9.55zM324.0 384.9h9.55v3.91h-9.55zM381.3 384.9h9.55v3.91h-9.55zM410.0 388.8h9.55v3.91h-9.55zM333.6 392.7h9.55v3.91h-9.55zM343.1 392.7h9.55v3.91h-9.55zM438.7 392.7h9.55v3.91h-9.55zM352.7 396.6h9.55v3.91h-9.55zM295.4 400.5h9.55v3.91h-9.55zM381.3 400.5h9.55v3.91h-9.55zM324.0 404.4h9.55v3.91h-9.55zM324.0 408.3h9.55v3.91h-9.55zM352.7 412.2h9.55v3.91h-9.55zM381.3 416.2h9.55v3.91h-9.55zM333.6 427.9h9.55v3.91h-9.55zM410.0 427.9h9.55v3.91h-9.55zM429.1 427.9h9.55v3.91h-9.55zM438.7 427.9h9.55v3.91h-9.55zM448.2 427.9h9.55v3.91h-9.55zM343.1 431.8h9.55v3.91h-9.55zM381.3 431.8h9.55v3.91h-9.55zM438.7 431.8h9.55v3.91h-9.55zM448.2 431.8h9.55v3.91h-9.55zM333.6 435.7h9.55v3.91h-9.55zM381.3 435.7h9.55v3.91h-9.55zM448.2 439.6h9.55v3.91h-9.55zM419.5 443.6h9.55v3.91h-9.55zM438.7 443.6h9.55v3.91h-9.55zM448.2 443.6h9.55v3.91h-9.55zM285.8 447.5h9.55v3.91h-9.55zM410.0 447.5h9.55v3.91h-9.55zM419.5 447.5h9.55v3.91h-9.55zM429.1 447.5h9.55v3.91h-9.55zM438.7 447.5h9.55v3.91h-9.55zM448.2 447.5h9.55v3.91h-9.55zM343.1 451.4h9.55v3.91h-9.55zM448.2 451.4h9.55v3.91h-9.55zM295.4 463.1h9.55v3.91h-9.55zM362.2 463.1h9.55v3.91h-9.55zM410.0 463.1h9.55v3.91h-9.55zM419.5 463.1h9.55v3.91h-9.55zM352.7 467.0h9.55v3.91h-9.55zM448.2 467.0h9.55v3.91h-9.55zM295.4 471.0h9.55v3.91h-9.55zM410.0 471.0h9.55v3.91h-9.55zM419.5 471.0h9.55v3.91h-9.55zM429.1 471.0h9.55v3.91h-9.55zM390.9 474.9h9.55v3.91h-9.55zM448.2 478.8h9.55v3.91h-9.55zM390.9 482.7h9.55v3.91h-9.55zM448.2 482.7h9.55v3.91h-9.55zM381.3 486.6h9.55v3.91h-9.55zM448.2 486.6h9.55v3.91h-9.55zM362.2 490.5h9.55v3.91h-9.55zM410.0 490.5h9.55v3.91h-9.55zM448.2 490.5h9.55v3.91h-9.55zM390.9 494.4h9.55v3.91h-9.55zM438.7 494.4h9.55v3.91h-9.55zM448.2 494.4h9.55v3.91h-9.55zM295.4 498.4h9.55v3.91h-9.55zM410.0 498.4h9.55v3.91h-9.55zM419.5 498.4h9.55v3.91h-9.55zM438.7 498.4h9.55v3.91h-9.55zM448.2 498.4h9.55v3.91h-9.55zM390.9 506.2h9.55v3.91h-9.55z"/>
<path fill="#f9dfd0" d="M333.6 314.4h9.55v3.91h-9.55zM295.4 318.3h9.55v3.91h-9.55zM343.1 322.2h9.55v3.91h-9.55zM381.3 326.1h9.55v3.91h-9.55zM410.0 326.1h9.55v3.91h-9.55zM448.2 326.1h9.55v3.91h-9.55zM285.8 334.0h9.55v3.91h-9.55zM419.5 334.0h9.55v3.91h-9.55zM295.4 341.8h9.55v3.91h-9.55zM381.3 341.8h9.55v3.91h-9.55zM324.0 345.7h9.55v3.91h-9.55zM324.0 353.5h9.55v3.91h-9.55zM333.6 353.5h9.55v3.91h-9.55zM324.0 357.5h9.55v3.91h-9.55zM429.1 357.5h9.55v3.91h-9.55zM429.1 361.4h9.55v3.91h-9.55zM324.0 365.3h9.55v3.91h-9.55zM324.0 369.2h9.55v3.91h-9.55zM324.0 373.1h9.55v3.91h-9.55zM352.7 377.0h9.55v3.91h-9.55zM362.2 380.9h9.55v3.91h-9.55zM400.4 404.4h9.55v3.91h-9.55zM371.8 416.2h9.55v3.91h-9.55zM410.0 420.1h9.55v3.91h-9.55zM410.0 424.0h9.55v3.91h-9.55zM438.7 435.7h9.55v3.91h-9.55zM448.2 435.7h9.55v3.91h-9.55zM362.2 447.5h9.55v3.91h-9.55zM381.3 455.3h9.55v3.91h-9.55zM390.9 455.3h9.55v3.91h-9.55zM410.0 455.3h9.55v3.91h-9.55zM438.7 455.3h9.55v3.91h-9.55zM448.2 463.1h9.55v3.91h-9.55zM381.3 471.0h9.55v3.91h-9.55zM448.2 471.0h9.55v3.91h-9.55zM362.2 482.7h9.55v3.91h-9.55zM390.9 490.5h9.55v3.91h-9.55zM410.0 494.4h9.55v3.91h-9.55zM390.9 502.3h9.55v3.91h-9.55z"/>
<path fill="#fbd1ba" d="M390.9 314.4h9.55v3.91h-9.55zM285.8 318.3h9.55v3.91h-9.55zM333.6 318.3h9.55v3.91h-9.55zM390.9 318.3h9.55v3.91h-9.55zM314.5 322.2h9.55v3.91h-9.55zM419.5 326.1h9.55v3.91h-9.55zM429.1 326.1h9.55v3.91h-9.55zM285.8 330.1h9.55v3.91h-9.55zM419.5 330.1h9.55v3.91h-9.55zM438.7 330.1h9.55v3.91h-9.55zM390.9 334.0h9.55v3.91h-9.55zM285.8 337.9h9.55v3.91h-9.55zM295.4 337.9h9.55v3.91h-9.55zM390.9 337.9h9.55v3.91h-9.55zM285.8 341.8h9.55v3.91h-9.55zM400.4 345.7h9.55v3.91h-9.55zM419.5 345.7h9.55v3.91h-9.55zM324.0 349.6h9.55v3.91h-9.55zM419.5 353.5h9.55v3.91h-9.55zM390.9 357.5h9.55v3.91h-9.55zM419.5 357.5h9.55v3.91h-9.55zM285.8 361.4h9.55v3.91h-9.55zM333.6 361.4h9.55v3.91h-9.55zM410.0 361.4h9.55v3.91h-9.55zM390.9 365.3h9.55v3.91h-9.55zM419.5 365.3h9.55v3.91h-9.55zM276.2 369.2h9.55v3.91h-9.55zM333.6 377.0h9.55v3.91h-9.55zM381.3 377.0h9.55v3.91h-9.55zM390.9 377.0h9.55v3.91h-9.55zM400.4 377.0h9.55v3.91h-9.55zM448.2 377.0h9.55v3.91h-9.55zM324.0 380.9h9.55v3.91h-9.55zM333.6 380.9h9.55v3.91h-9.55zM352.7 380.9h9.55v3.91h-9.55zM381.3 380.9h9.55v3.91h-9.55zM390.9 380.9h9.55v3.91h-9.55zM333.6 384.9h9.55v3.91h-9.55zM362.2 384.9h9.55v3.91h-9.55zM410.0 384.9h9.55v3.91h-9.55zM429.1 384.9h9.55v3.91h-9.55zM438.7 384.9h9.55v3.91h-9.55zM333.6 388.8h9.55v3.91h-9.55zM438.7 388.8h9.55v3.91h-9.55zM352.7 392.7h9.55v3.91h-9.55zM362.2 392.7h9.55v3.91h-9.55zM381.3 392.7h9.55v3.91h-9.55zM324.0 396.6h9.55v3.91h-9.55zM333.6 396.6h9.55v3.91h-9.55zM343.1 396.6h9.55v3.91h-9.55zM362.2 396.6h9.55v3.91h-9.55zM381.3 396.6h9.55v3.91h-9.55zM429.1 396.6h9.55v3.91h-9.55zM438.7 396.6h9.55v3.91h-9.55zM448.2 396.6h9.55v3.91h-9.55zM343.1 400.5h9.55v3.91h-9.55zM352.7 400.5h9.55v3.91h-9.55zM371.8 400.5h9.55v3.91h-9.55zM410.0 400.5h9.55v3.91h-9.55zM419.5 400.5h9.55v3.91h-9.55zM429.1 400.5h9.55v3.91h-9.55zM438.7 400.5h9.55v3.91h-9.55zM448.2 400.5h9.55v3.91h-9.55zM343.1 408.3h9.55v3.91h-9.55zM362.2 408.3h9.55v3.91h-9.55zM324.0 412.2h9.55v3.91h-9.55zM362.2 412.2h9.55v3.91h-9.55zM371.8 412.2h9.55v3.91h-9.55zM381.3 412.2h9.55v3.91h-9.55zM390.9 412.2h9.55v3.91h-9.55zM438.7 412.2h9.55v3.91h-9.55zM324.0 416.2h9.55v3.91h-9.55zM352.7 416.2h9.55v3.91h-9.55zM362.2 416.2h9.55v3.91h-9.55zM410.0 416.2h9.55v3.91h-9.55zM438.7 416.2h9.55v3.91h-9.55zM343.1 420.1h9.55v3.91h-9.55zM371.8 420.1h9.55v3.91h-9.55zM381.3 420.1h9.55v3.91h-9.55zM324.0 424.0h9.55v3.91h-9.55zM371.8 424.0h9.55v3.91h-9.55zM381.3 424.0h9.55v3.91h-9.55zM390.9 424.0h9.55v3.91h-9.55zM438.7 424.0h9.55v3.91h-9.55zM324.0 427.9h9.55v3.91h-9.55zM343.1 427.9h9.55v3.91h-9.55zM362.2 427.9h9.55v3.91h-9.55zM381.3 427.9h9.55v3.91h-9.55zM333.6 431.8h9.55v3.91h-9.55zM362.2 431.8h9.55v3.91h-9.55zM343.1 435.7h9.55v3.91h-9.55zM324.0 439.6h9.55v3.91h-9.55zM381.3 439.6h9.55v3.91h-9.55zM390.9 439.6h9.55v3.91h-9.55zM352.7 443.6h9.55v3.91h-9.55zM381.3 443.6h9.55v3.91h-9.55zM390.9 443.6h9.55v3.91h-9.55zM324.0 447.5h9.55v3.91h-9.55zM381.3 447.5h9.55v3.91h-9.55zM381.3 451.4h9.55v3.91h-9.55zM390.9 451.4h9.55v3.91h-9.55zM352.7 455.3h9.55v3.91h-9.55zM419.5 455.3h9.55v3.91h-9.55zM429.1 455.3h9.55v3.91h-9.55zM352.7 459.2h9.55v3.91h-9.55zM390.9 459.2h9.55v3.91h-9.55zM419.5 459.2h9.55v3.91h-9.55zM429.1 459.2h9.55v3.91h-9.55zM438.7 459.2h9.55v3.91h-9.55zM381.3 463.1h9.55v3.91h-9.55zM429.1 463.1h9.55v3.91h-9.55zM362.2 467.0h9.55v3.91h-9.55zM381.3 467.0h9.55v3.91h-9.55zM419.5 467.0h9.55v3.91h-9.55zM333.6 471.0h9.55v3.91h-9.55zM324.0 474.9h9.55v3.91h-9.55zM333.6 474.9h9.55v3.91h-9.55zM381.3 474.9h9.55v3.91h-9.55zM324.0 478.8h9.55v3.91h-9.55zM390.9 478.8h9.55v3.91h-9.55zM333.6 482.7h9.55v3.91h-9.55zM362.2 486.6h9.55v3.91h-9.55zM390.9 486.6h9.55v3.91h-9.55zM324.0 490.5h9.55v3.91h-9.55zM333.6 490.5h9.55v3.91h-9.55zM352.7 490.5h9.55v3.91h-9.55zM381.3 490.5h9.55v3.91h-9.55zM324.0 494.4h9.55v3.91h-9.55zM362.2 494.4h9.55v3.91h-9.55zM381.3 494.4h9.55v3.91h-9.55zM324.0 498.4h9.55v3.91h-9.55zM381.3 498.4h9.55v3.91h-9.55zM390.9 498.4h9.55v3.91h-9.55zM295.4 502.3h9.55v3.91h-9.55zM314.5 502.3h9.55v3.91h-9.55zM333.6 502.3h9.55v3.91h-9.55zM381.3 502.3h9.55v3.91h-9.55zM448.2 502.3h9.55v3.91h-9.55zM324.0 506.2h9.55v3.91h-9.55zM333.6 506.2h9.55v3.91h-9.55zM362.2 506.2h9.55v3.91h-9.55z"/>
<path fill="#fabb9e" d="M295.4 334.0h9.55v3.91h-9.55zM314.5 349.6h9.55v3.91h-9.55zM419.5 349.6h9.55v3.91h-9.55zM381.3 357.5h9.55v3.91h-9.55zM285.8 365.3h9.55v3.91h-9.55zM285.8 369.2h9.55v3.91h-9.55zM371.8 377.0h9.55v3.91h-9.55zM410.0 377.0h9.55v3.91h-9.55zM419.5 377.0h9.55v3.91h-9.55zM410.0 380.9h9.55v3.91h-9.55zM429.1 380.9h9.55v3.91h-9.55zM362.2 388.8h9.55v3.91h-9.55zM381.3 388.8h9.55v3.91h-9.55zM419.5 388.8h9.55v3.91h-9.55zM448.2 388.8h9.55v3.91h-9.55zM419.5 392.7h9.55v3.91h-9.55zM390.9 396.6h9.55v3.91h-9.55zM419.5 396.6h9.55v3.91h-9.55zM324.0 400.5h9.55v3.91h-9.55zM333.6 400.5h9.55v3.91h-9.55zM362.2 400.5h9.55v3.91h-9.55zM390.9 416.2h9.55v3.91h-9.55zM390.9 420.1h9.55v3.91h-9.55zM343.1 424.0h9.55v3.91h-9.55zM324.0 443.6h9.55v3.91h-9.55zM352.7 447.5h9.55v3.91h-9.55zM390.9 447.5h9.55v3.91h-9.55zM352.7 451.4h9.55v3.91h-9.55zM448.2 455.3h9.55v3.91h-9.55zM324.0 459.2h9.55v3.91h-9.55zM352.7 463.1h9.55v3.91h-9.55zM390.9 467.0h9.55v3.91h-9.55zM362.2 471.0h9.55v3.91h-9.55zM390.9 471.0h9.55v3.91h-9.55zM333.6 478.8h9.55v3.91h-9.55zM324.0 482.7h9.55v3.91h-9.55zM333.6 486.6h9.55v3.91h-9.55zM371.8 490.5h9.55v3.91h-9.55zM333.6 494.4h9.55v3.91h-9.55zM324.0 502.3h9.55v3.91h-9.55zM381.3 506.2h9.55v3.91h-9.55z"/>
<path fill="#f8a583" d="M276.2 314.4h9.55v3.91h-9.55zM285.8 314.4h9.55v3.91h-9.55zM295.4 314.4h9.55v3.91h-9.55zM304.9 314.4h9.55v3.91h-9.55zM314.5 314.4h9.55v3.91h-9.55zM343.1 314.4h9.55v3.91h-9.55zM304.9 318.3h9.55v3.91h-9.55zM314.5 318.3h9.55v3.91h-9.55zM304.9 322.2h9.55v3.91h-9.55zM390.9 322.2h9.55v3.91h-9.55zM285.8 326.1h9.55v3.91h-9.55zM304.9 326.1h9.55v3.91h-9.55zM314.5 326.1h9.55v3.91h-9.55zM295.4 330.1h9.55v3.91h-9.55zM314.5 330.1h9.55v3.91h-9.55zM314.5 334.0h9.55v3.91h-9.55zM314.5 337.9h9.55v3.91h-9.55zM304.9 341.8h9.55v3.91h-9.55zM314.5 341.8h9.55v3.91h-9.55zM276.2 345.7h9.55v3.91h-9.55zM285.8 345.7h9.55v3.91h-9.55zM295.4 345.7h9.55v3.91h-9.55zM295.4 349.6h9.55v3.91h-9.55zM304.9 349.6h9.55v3.91h-9.55zM295.4 353.5h9.55v3.91h-9.55zM314.5 353.5h9.55v3.91h-9.55zM276.2 357.5h9.55v3.91h-9.55zM314.5 357.5h9.55v3.91h-9.55zM276.2 361.4h9.55v3.91h-9.55zM295.4 361.4h9.55v3.91h-9.55zM276.2 365.3h9.55v3.91h-9.55zM314.5 365.3h9.55v3.91h-9.55zM285.8 373.1h9.55v3.91h-9.55zM324.0 377.0h9.55v3.91h-9.55zM448.2 380.9h9.55v3.91h-9.55zM371.8 384.9h9.55v3.91h-9.55zM390.9 384.9h9.55v3.91h-9.55zM419.5 384.9h9.55v3.91h-9.55zM448.2 384.9h9.55v3.91h-9.55zM371.8 388.8h9.55v3.91h-9.55zM390.9 388.8h9.55v3.91h-9.55zM390.9 392.7h9.55v3.91h-9.55zM429.1 392.7h9.55v3.91h-9.55zM371.8 396.6h9.55v3.91h-9.55zM390.9 400.5h9.55v3.91h-9.55zM410.0 404.4h9.55v3.91h-9.55zM429.1 404.4h9.55v3.91h-9.55zM438.7 404.4h9.55v3.91h-9.55zM371.8 408.3h9.55v3.91h-9.55zM429.1 408.3h9.55v3.91h-9.55zM438.7 408.3h9.55v3.91h-9.55zM343.1 412.2h9.55v3.91h-9.55zM410.0 412.2h9.55v3.91h-9.55zM429.1 412.2h9.55v3.91h-9.55zM448.2 412.2h9.55v3.91h-9.55zM429.1 416.2h9.55v3.91h-9.55zM448.2 416.2h9.55v3.91h-9.55zM324.0 420.1h9.55v3.91h-9.55zM352.7 420.1h9.55v3.91h-9.55zM362.2 420.1h9.55v3.91h-9.55zM419.5 420.1h9.55v3.91h-9.55zM429.1 420.1h9.55v3.91h-9.55zM438.7 420.1h9.55v3.91h-9.55zM448.2 420.1h9.55v3.91h-9.55zM362.2 424.0h9.55v3.91h-9.55zM419.5 424.0h9.55v3.91h-9.55zM429.1 424.0h9.55v3.91h-9.55zM324.0 431.8h9.55v3.91h-9.55zM324.0 435.7h9.55v3.91h-9.55zM362.2 435.7h9.55v3.91h-9.55zM371.8 435.7h9.55v3.91h-9.55zM343.1 439.6h9.55v3.91h-9.55zM352.7 439.6h9.55v3.91h-9.55zM362.2 439.6h9.55v3.91h-9.55zM371.8 439.6h9.55v3.91h-9.55zM343.1 443.6h9.55v3.91h-9.55zM371.8 443.6h9.55v3.91h-9.55zM343.1 447.5h9.55v3.91h-9.55zM362.2 451.4h9.55v3.91h-9.55zM324.0 455.3h9.55v3.91h-9.55zM333.6 455.3h9.55v3.91h-9.55zM362.2 455.3h9.55v3.91h-9.55zM333.6 459.2h9.55v3.91h-9.55zM362.2 459.2h9.55v3.91h-9.55zM371.8 459.2h9.55v3.91h-9.55zM448.2 459.2h9.55v3.91h-9.55zM324.0 463.1h9.55v3.91h-9.55zM333.6 463.1h9.55v3.91h-9.55zM371.8 463.1h9.55v3.91h-9.55zM390.9 463.1h9.55v3.91h-9.55zM333.6 467.0h9.55v3.91h-9.55zM371.8 467.0h9.55v3.91h-9.55zM324.0 471.0h9.55v3.91h-9.55zM352.7 471.0h9.55v3.91h-9.55zM371.8 471.0h9.55v3.91h-9.55zM352.7 474.9h9.55v3.91h-9.55zM362.2 474.9h9.55v3.91h-9.55zM371.8 474.9h9.55v3.91h-9.55zM352.7 478.8h9.55v3.91h-9.55zM362.2 478.8h9.55v3.91h-9.55zM371.8 478.8h9.55v3.91h-9.55zM352.7 482.7h9.55v3.91h-9.55zM352.7 486.6h9.55v3.91h-9.55zM371.8 486.6h9.55v3.91h-9.55zM371.8 494.4h9.55v3.91h-9.55zM333.6 498.4h9.55v3.91h-9.55zM352.7 498.4h9.55v3.91h-9.55zM362.2 498.4h9.55v3.91h-9.55zM371.8 498.4h9.55v3.91h-9.55zM352.7 502.3h9.55v3.91h-9.55zM362.2 502.3h9.55v3.91h-9.55zM343.1 506.2h9.55v3.91h-9.55zM371.8 506.2h9.55v3.91h-9.55z"/>
<path fill="#f48767" d="M304.9 337.9h9.55v3.91h-9.55zM304.9 353.5h9.55v3.91h-9.55zM314.5 361.4h9.55v3.91h-9.55zM362.2 377.0h9.55v3.91h-9.55zM352.7 388.8h9.55v3.91h-9.55zM371.8 392.7h9.55v3.91h-9.55zM410.0 408.3h9.55v3.91h-9.55zM448.2 408.3h9.55v3.91h-9.55zM419.5 416.2h9.55v3.91h-9.55zM352.7 424.0h9.55v3.91h-9.55zM352.7 506.2h9.55v3.91h-9.55z"/>
<path fill="#ef694b" d="M276.2 326.1h9.55v3.91h-9.55zM304.9 330.1h9.55v3.91h-9.55zM304.9 334.0h9.55v3.91h-9.55zM295.4 357.5h9.55v3.91h-9.55zM304.9 361.4h9.55v3.91h-9.55zM295.4 365.3h9.55v3.91h-9.55zM295.4 369.2h9.55v3.91h-9.55zM304.9 373.1h9.55v3.91h-9.55zM438.7 377.0h9.55v3.91h-9.55zM419.5 380.9h9.55v3.91h-9.55zM352.7 384.9h9.55v3.91h-9.55zM324.0 392.7h9.55v3.91h-9.55zM419.5 404.4h9.55v3.91h-9.55zM448.2 404.4h9.55v3.91h-9.55zM419.5 408.3h9.55v3.91h-9.55zM419.5 412.2h9.55v3.91h-9.55zM343.1 416.2h9.55v3.91h-9.55zM448.2 424.0h9.55v3.91h-9.55zM371.8 431.8h9.55v3.91h-9.55zM333.6 443.6h9.55v3.91h-9.55zM362.2 443.6h9.55v3.91h-9.55zM333.6 447.5h9.55v3.91h-9.55zM324.0 451.4h9.55v3.91h-9.55zM333.6 451.4h9.55v3.91h-9.55zM371.8 451.4h9.55v3.91h-9.55zM343.1 459.2h9.55v3.91h-9.55zM343.1 463.1h9.55v3.91h-9.55zM324.0 467.0h9.55v3.91h-9.55zM343.1 467.0h9.55v3.91h-9.55zM343.1 471.0h9.55v3.91h-9.55zM448.2 474.9h9.55v3.91h-9.55zM343.1 482.7h9.55v3.91h-9.55zM324.0 486.6h9.55v3.91h-9.55zM352.7 494.4h9.55v3.91h-9.55zM343.1 502.3h9.55v3.91h-9.55zM371.8 502.3h9.55v3.91h-9.55z"/>
<path fill="#e64c3a" d="M276.2 349.6h9.55v3.91h-9.55zM276.2 353.5h9.55v3.91h-9.55zM304.9 357.5h9.55v3.91h-9.55zM314.5 369.2h9.55v3.91h-9.55zM381.3 404.4h9.55v3.91h-9.55zM371.8 427.9h9.55v3.91h-9.55zM371.8 447.5h9.55v3.91h-9.55z"/>
<path fill="#dc2e29" d="M352.7 314.4h9.55v3.91h-9.55zM276.2 322.2h9.55v3.91h-9.55zM295.4 322.2h9.55v3.91h-9.55zM276.2 330.1h9.55v3.91h-9.55zM304.9 365.3h9.55v3.91h-9.55zM304.9 369.2h9.55v3.91h-9.55zM295.4 373.1h9.55v3.91h-9.55zM314.5 373.1h9.55v3.91h-9.55zM333.6 439.6h9.55v3.91h-9.55zM343.1 455.3h9.55v3.91h-9.55zM343.1 474.9h9.55v3.91h-9.55zM343.1 478.8h9.55v3.91h-9.55zM371.8 482.7h9.55v3.91h-9.55zM343.1 494.4h9.55v3.91h-9.55zM343.1 498.4h9.55v3.91h-9.55z"/>
<path fill="#c11e25" d="M276.2 334.0h9.55v3.91h-9.55zM314.5 345.7h9.55v3.91h-9.55zM352.7 427.9h9.55v3.91h-9.55zM352.7 431.8h9.55v3.91h-9.55zM352.7 435.7h9.55v3.91h-9.55zM343.1 486.6h9.55v3.91h-9.55z"/>
<path fill="#a60f21" d="M276.2 318.3h9.55v3.91h-9.55zM276.2 337.9h9.55v3.91h-9.55zM276.2 341.8h9.55v3.91h-9.55zM343.1 490.5h9.55v3.91h-9.55z"/>
<path d="M276.25 310.00V510.10M285.80 310.00V510.10M295.36 310.00V510.10M304.91 310.00V510.10M314.46 310.00V510.10M324.01 310.00V510.10M333.57 310.00V510.10M343.12 310.00V510.10M352.67 310.00V510.10M362.23 310.00V510.10M371.78 310.00V510.10M381.33 310.00V510.10M390.89 310.00V510.10M400.44 310.00V510.10M409.99 310.00V510.10M419.55 310.00V510.10M429.10 310.00V510.10M438.65 310.00V510.10M448.20 310.00V510.10M457.76 310.00V510.10M276.25 314.40H457.76M276.25 318.31H457.76M276.25 322.23H457.76M276.25 326.14H457.76M276.25 330.06H457.76M276.25 333.97H457.76M276.25 337.88H457.76M276.25 341.80H457.76M276.25 345.71H457.76M276.25 349.63H457.76M276.25 353.54H457.76M276.25 357.45H457.76M276.25 361.37H457.76M276.25 365.28H457.76M276.25 369.20H457.76M276.25 373.11H457.76M276.25 377.02H457.76M276.25 380.94H457.76M276.25 384.85H457.76M276.25 388.77H457.76M276.25 392.68H457.76M276.25 396.59H457.76M276.25 400.51H457.76M276.25 404.42H457.76M276.25 408.34H457.76M276.25 412.25H457.76M276.25 416.16H457.76M276.25 420.08H457.76M276.25 423.99H457.76M276.25 427.91H457.76M276.25 431.82H457.76M276.25 435.73H457.76M276.25 439.65H457.76M276.25 443.56H457.76M276.25 447.48H457.76M276.25 451.39H457.76M276.25 455.30H457.76M276.25 459.22H457.76M276.25 463.13H457.76M276.25 467.05H457.76M276.25 470.96H457.76M276.25 474.87H457.76M276.25 478.79H457.76M276.25 482.70H457.76M276.25 486.62H457.76M276.25 490.53H457.76M276.25 494.44H457.76M276.25 498.36H457.76M276.25 502.27H457.76M276.25 506.19H457.76M276.25 510.10H457.76" stroke="#a4a4a4" stroke-width="0.4" fill="none" opacity="0.85"/>
<text x="459.06" y="312.70" font-size="3.7" font-weight="bold" fill="#111">class</text>
<g fill="#151522" stroke="#151522" stroke-width="0.12" font-size="3.7" transform="rotate(0.03 459.1 412.2)"><text x="459.06" y="317.69">Hspb1</text><text x="459.06" y="321.60">Wdfy2</text><text x="459.06" y="325.52">Lamb3</text><text x="459.06" y="329.43">Ehmnp1</text><text x="459.06" y="333.34">Cd36</text><text x="459.06" y="337.26">Col6a5</text><text x="459.06" y="341.17">Aldh1a1</text><text x="459.06" y="345.09">Rab10</text><text x="459.06" y="349.00">Ehd2</text><text x="459.06" y="352.91">Rap1a</text><text x="459.06" y="356.83">Rap1b</text><text x="459.06" y="360.74">Selenbp1</text><text x="459.06" y="364.66">Lalba</text><text x="459.06" y="368.57">Fmo1</text><text x="459.06" y="372.48">Rnas2</text><text x="459.06" y="376.40">Cbr2</text><text x="459.06" y="380.31">Anxa3</text><text x="459.06" y="384.23">Col6</text><text x="459.06" y="388.14">Ctnnd1</text><text x="459.06" y="392.05">Arpc1b</text><text x="459.06" y="395.97">Bcat1</text><text x="459.06" y="399.88">Cndp2</text><text x="459.06" y="403.80">Anxa8</text><text x="459.06" y="407.71">Tf</text><text x="459.06" y="411.62">Psmc2</text><text x="459.06" y="415.54">Anxa2</text><text x="459.06" y="419.45">Rps3a</text><text x="459.06" y="423.37">Tardbp</text><text x="459.06" y="427.28">Rpl4</text><text x="459.06" y="431.19">Fga</text><text x="459.06" y="435.11">Fgg</text><text x="459.06" y="439.02">Fgb</text><text x="459.06" y="442.94">Rpl7a</text><text x="459.06" y="446.85">Csnk1a</text><text x="459.06" y="450.76">Eif3e</text><text x="459.06" y="454.68">Rpl13a</text><text x="459.06" y="458.59">Cdk3</text><text x="459.06" y="462.51">Rps9</text><text x="459.06" y="466.42">Myl6</text><text x="459.06" y="470.33">Hnrnpa2b1</text><text x="459.06" y="474.25">Eef1d</text><text x="459.06" y="478.16">Rpl7</text><text x="459.06" y="482.08">Des</text><text x="459.06" y="485.99">Fn1</text><text x="459.06" y="489.90">Map4</text><text x="459.06" y="493.82">Vim</text><text x="459.06" y="497.73">Rpl29</text><text x="459.06" y="501.65">Eif4h</text><text x="459.06" y="505.56">Lmna</text><text x="459.06" y="509.47">Rpl18</text></g>
<text x="279.73" y="511.80" font-size="3.6" fill="#151522" transform="rotate(90 279.73 511.80)" stroke="#151522" stroke-width="0.08">1895 ctr</text>
<text x="289.28" y="511.80" font-size="3.6" fill="#151522" transform="rotate(90 289.28 511.80)" stroke="#151522" stroke-width="0.08">1896 ctr</text>
<text x="298.83" y="511.80" font-size="3.6" fill="#151522" transform="rotate(90 298.83 511.80)" stroke="#151522" stroke-width="0.08">1898 ctr</text>
<text x="308.39" y="511.80" font-size="3.6" fill="#151522" transform="rotate(90 308.39 511.80)" stroke="#151522" stroke-width="0.08">1897 ctr</text>
<text x="317.94" y="511.80" font-size="3.6" fill="#151522" transform="rotate(90 317.94 511.80)" stroke="#151522" stroke-width="0.08">1899 ctr</text>
<text x="327.49" y="511.80" font-size="3.6" fill="#151522" transform="rotate(90 327.49 511.80)" stroke="#151522" stroke-width="0.08">1862 kv BLM 14 06</text>
<text x="337.04" y="511.80" font-size="3.6" fill="#151522" transform="rotate(90 337.04 511.80)" stroke="#151522" stroke-width="0.08">1862 dv BLM 14 06</text>
<text x="346.60" y="511.80" font-size="3.6" fill="#151522" transform="rotate(90 346.60 511.80)" stroke="#151522" stroke-width="0.08">1864 dv BLM 14 06</text>
<text x="356.15" y="511.80" font-size="3.6" fill="#151522" transform="rotate(90 356.15 511.80)" stroke="#151522" stroke-width="0.08">1871 BLM 21 06</text>
<text x="365.70" y="511.80" font-size="3.6" fill="#151522" transform="rotate(90 365.70 511.80)" stroke="#151522" stroke-width="0.08">1860 BLM 14 06</text>
<text x="375.26" y="511.80" font-size="3.6" fill="#151522" transform="rotate(90 375.26 511.80)" stroke="#151522" stroke-width="0.08">1864 kv BLM 14 06</text>
<text x="384.81" y="511.80" font-size="3.6" fill="#151522" transform="rotate(90 384.81 511.80)" stroke="#151522" stroke-width="0.08">1869 BLM 21 06</text>
<text x="394.36" y="511.80" font-size="3.6" fill="#151522" transform="rotate(90 394.36 511.80)" stroke="#151522" stroke-width="0.08">1873 BLM 21 06</text>
<text x="403.92" y="511.80" font-size="3.6" fill="#151522" transform="rotate(90 403.92 511.80)" stroke="#151522" stroke-width="0.08">1875 BLM 21 06</text>
<text x="413.47" y="511.80" font-size="3.6" fill="#151522" transform="rotate(90 413.47 511.80)" stroke="#151522" stroke-width="0.08">1861 kv NINT 21 06</text>
<text x="423.02" y="511.80" font-size="3.6" fill="#151522" transform="rotate(90 423.02 511.80)" stroke="#151522" stroke-width="0.08">1858 NINT 21 06</text>
<text x="432.57" y="511.80" font-size="3.6" fill="#151522" transform="rotate(90 432.57 511.80)" stroke="#151522" stroke-width="0.08">1863 dv NINT 21 06</text>
<text x="442.13" y="511.80" font-size="3.6" fill="#151522" transform="rotate(90 442.13 511.80)" stroke="#151522" stroke-width="0.08">1870 BLM 21 06</text>
<text x="451.68" y="511.80" font-size="3.6" fill="#151522" transform="rotate(90 451.68 511.80)" stroke="#151522" stroke-width="0.08">1863 NINT 21 06</text>
<rect x="480" y="308.9" width="4.5" height="61" fill="url(#cb)"/>
<text x="485.60" y="313.40" font-size="3.6" fill="#222" stroke="#222" stroke-width="0.06">3</text>
<text x="485.60" y="322.65" font-size="3.6" fill="#222" stroke="#222" stroke-width="0.06">2</text>
<text x="485.60" y="331.90" font-size="3.6" fill="#222" stroke="#222" stroke-width="0.06">1</text>
<text x="485.60" y="341.15" font-size="3.6" fill="#222" stroke="#222" stroke-width="0.06">0</text>
<text x="485.60" y="350.40" font-size="3.6" fill="#222" stroke="#222" stroke-width="0.06">-1</text>
<text x="485.60" y="359.65" font-size="3.6" fill="#222" stroke="#222" stroke-width="0.06">-2</text>
<text x="485.60" y="368.90" font-size="3.6" fill="#222" stroke="#222" stroke-width="0.06">-3</text>
<path d="M60.5 308.5V288.2H136.3V297 M101.7 306.7V297H169.5V302.7 M155.9 307.6V302.7H184.5V306.1 M51.8 309.6V308.1H84.5V309.6 M56 309.6V308.8 M64 309.6V308.8H72.5V309.6 M68 308.8V308.1 M80.5 309.6V308.1M93.5 309.6V307H118V309.6 M97.5 309.6V308.4H110V309.6 M101.7 308.4V307 M114 309.6V308.5H126.8V309.6 M118 308.5V307M143 309.6V307.6H168.5V309.6 M134.5 309.6V307.6 M134.5 307.6H143 M151.5 309.6V308.6H160V309.6 M155.9 308.6V307.6M177.3 309.6V306.1H199.8V309.6 M172.5 309.6V308.2H181V309.6 M177.3 308.2V306.1 M193 309.6V308.2H201V309.6 M199.8 308.2V306.1 M184.5 309.6V308.6" stroke="#4a4a4a" stroke-width="0.55" fill="none"/>
<path d="M47.6 328.6H28V419.4H38.6 M38.6 381V458 M38.6 381H46 M38.6 458H45 M47.6 320H46.2V337H47.6 M46.2 328.6H47.6 M46 360V402H47.6 M46 360H47.6 M45 441V475H47.6 M45 441H47.6 M46.6 346V374 M46.6 346H47.6 M46.6 374H47.6 M46.8 390V414H47.6 M46.8 390H47.6 M46.4 448V468H47.6 M46.4 448H47.6 M46.6 480V500H47.6 M46.6 480H47.6 M45 475H46.6M47.1 316V324 M47.1 332V342 M47.1 352V368 M47.1 378V398 M47.1 406V430 M47.1 436V452 M47.1 462V488 M47.1 492V503" stroke="#4a4a4a" stroke-width="0.55" fill="none"/>
<path d="M289.8 308.2V288.4H372.5V299.1 M338.5 307.2V299.1H405.3V305.8 M390.2 308V305.8H434.6V308 M281 309.4V308.1H319.4V309.4 M285.8 309.4V308.7H295.3V309.4 M305 309.4V308.7H314.5V309.4 M300 308.7V308.1M328.5 309.4V307.2H362V309.4 M333.5 309.4V308.4H343V309.4 M352.5 309.4V308.4H371.5V309.4 M362 308.4V307.2 M376.5 309.4V307.8H362M386 309.4V308H395.5V309.4 M405 309.4V308.7H414.6V309.4 M424 309.4V307.4H443.5V309.4 M434.6 307.4V305.8 M434 309.4V308.5 M453 309.4V306.6H434.6" stroke="#4a4a4a" stroke-width="0.55" fill="none"/>
<path d="M275.7 331.4H255V422.6H272.6 M272.6 398V448 M272.6 398H275.7 M272.6 448H275.7 M274.2 318V345H275.7 M274.2 318H275.7 M274.6 352V372H275.7 M274.6 352H275.7 M274.4 380V416 M274.4 380H275.7 M274.4 416H275.7 M274 430V470H275.7 M274 430H275.7 M274.8 478V502H275.7 M274.8 478H275.7M275.2 315V330 M275.2 336V350 M275.2 356V377 M275.2 384V412 M275.2 420V444 M275.2 452V474 M275.2 481V508" stroke="#4a4a4a" stroke-width="0.55" fill="none"/>
</svg>
</body></html>
